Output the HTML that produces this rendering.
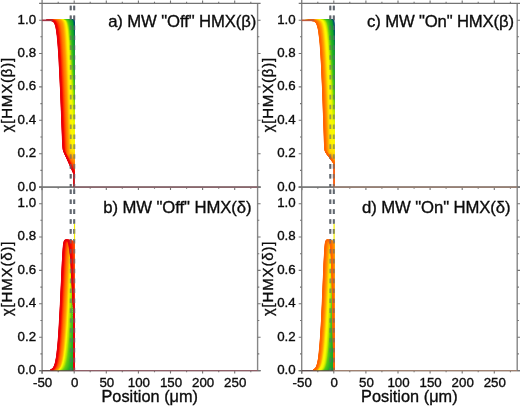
<!DOCTYPE html>
<html lang="en"><head><meta charset="utf-8"><title>HMX phase fraction profiles</title>
<style>html,body{margin:0;padding:0;background:#fff}body{width:520px;height:406px;overflow:hidden}</style>
</head><body>
<svg width="520" height="406" viewBox="0 0 520 406" style="display:block;filter:blur(0.3px);font-family:'Liberation Sans', sans-serif" fill="#0c0c0c">
<rect width="520" height="406" fill="#fff"/>
<path d="M42.1 0.0 V190.3 M257.6 3.3 V187.1" fill="none" stroke="#868686" stroke-width="1.4"/>
<path d="M39.1 3.3 H260.6 M39.1 187.1 H260.6" fill="none" stroke="#747474" stroke-width="1.2"/>
<path d="M42.1 187.1 v2.8 M58.2 187.1 v1.6 M58.2 3.3 v-1.6 M74.2 187.1 v2.8 M74.2 3.3 v-2.8 M90.2 187.1 v1.6 M90.2 3.3 v-1.6 M106.3 187.1 v2.8 M106.3 3.3 v-2.8 M122.3 187.1 v1.6 M122.3 3.3 v-1.6 M138.4 187.1 v2.8 M138.4 3.3 v-2.8 M154.5 187.1 v1.6 M154.5 3.3 v-1.6 M170.5 187.1 v2.8 M170.5 3.3 v-2.8 M186.6 187.1 v1.6 M186.6 3.3 v-1.6 M202.6 187.1 v2.8 M202.6 3.3 v-2.8 M218.7 187.1 v1.6 M218.7 3.3 v-1.6 M234.7 187.1 v2.8 M234.7 3.3 v-2.8 M250.8 187.1 v1.6 M250.8 3.3 v-1.6 M42.1 187.1 h-3.0 M257.6 187.1 h3.0 M42.1 170.4 h-1.7 M257.6 170.4 h1.7 M42.1 153.7 h-3.0 M257.6 153.7 h3.0 M42.1 137.0 h-1.7 M257.6 137.0 h1.7 M42.1 120.3 h-3.0 M257.6 120.3 h3.0 M42.1 103.6 h-1.7 M257.6 103.6 h1.7 M42.1 86.9 h-3.0 M257.6 86.9 h3.0 M42.1 70.2 h-1.7 M257.6 70.2 h1.7 M42.1 53.5 h-3.0 M257.6 53.5 h3.0 M42.1 36.8 h-1.7 M257.6 36.8 h1.7 M42.1 20.2 h-3.0 M257.6 20.2 h3.0" stroke="#747474" stroke-width="1.1" fill="none"/>
<path d="M70.7 3.3 V187.1" stroke="#626870" stroke-width="1.9" stroke-dasharray="4.6 5.3" stroke-dashoffset="-2.4" fill="none"/>
<path d="M74.2 3.3 V187.1" stroke="#626870" stroke-width="1.9" stroke-dasharray="4.6 5.3" stroke-dashoffset="-2.4" fill="none"/>
<path d="M42.1 187.1 V373.8 M257.6 187.1 V370.6" fill="none" stroke="#868686" stroke-width="1.4"/>
<path d="M39.1 187.1 H260.6 M39.1 370.6 H260.6" fill="none" stroke="#747474" stroke-width="1.2"/>
<path d="M42.1 370.6 v2.8 M58.2 370.6 v1.6 M74.2 370.6 v2.8 M90.2 370.6 v1.6 M106.3 370.6 v2.8 M122.3 370.6 v1.6 M138.4 370.6 v2.8 M154.5 370.6 v1.6 M170.5 370.6 v2.8 M186.6 370.6 v1.6 M202.6 370.6 v2.8 M218.7 370.6 v1.6 M234.7 370.6 v2.8 M250.8 370.6 v1.6 M42.1 370.6 h-3.0 M257.6 370.6 h3.0 M42.1 353.9 h-1.7 M257.6 353.9 h1.7 M42.1 337.2 h-3.0 M257.6 337.2 h3.0 M42.1 320.5 h-1.7 M257.6 320.5 h1.7 M42.1 303.8 h-3.0 M257.6 303.8 h3.0 M42.1 287.1 h-1.7 M257.6 287.1 h1.7 M42.1 270.4 h-3.0 M257.6 270.4 h3.0 M42.1 253.7 h-1.7 M257.6 253.7 h1.7 M42.1 237.0 h-3.0 M257.6 237.0 h3.0 M42.1 220.3 h-1.7 M257.6 220.3 h1.7 M42.1 203.7 h-3.0 M257.6 203.7 h3.0" stroke="#747474" stroke-width="1.1" fill="none"/>
<path d="M70.7 187.1 V370.6" stroke="#626870" stroke-width="1.9" stroke-dasharray="4.6 5.3" stroke-dashoffset="-2.4" fill="none"/>
<path d="M74.2 187.1 V370.6" stroke="#626870" stroke-width="1.9" stroke-dasharray="4.6 5.3" stroke-dashoffset="-2.4" fill="none"/>
<path d="M301.7 0.0 V190.3 M517.2 3.3 V187.1" fill="none" stroke="#868686" stroke-width="1.4"/>
<path d="M298.7 3.3 H520.2 M298.7 187.1 H520.2" fill="none" stroke="#747474" stroke-width="1.2"/>
<path d="M301.7 187.1 v2.8 M317.8 187.1 v1.6 M317.8 3.3 v-1.6 M333.8 187.1 v2.8 M333.8 3.3 v-2.8 M349.8 187.1 v1.6 M349.8 3.3 v-1.6 M365.9 187.1 v2.8 M365.9 3.3 v-2.8 M381.9 187.1 v1.6 M381.9 3.3 v-1.6 M398.0 187.1 v2.8 M398.0 3.3 v-2.8 M414.1 187.1 v1.6 M414.1 3.3 v-1.6 M430.1 187.1 v2.8 M430.1 3.3 v-2.8 M446.1 187.1 v1.6 M446.1 3.3 v-1.6 M462.2 187.1 v2.8 M462.2 3.3 v-2.8 M478.2 187.1 v1.6 M478.2 3.3 v-1.6 M494.3 187.1 v2.8 M494.3 3.3 v-2.8 M510.4 187.1 v1.6 M510.4 3.3 v-1.6 M301.7 187.1 h-3.0 M517.2 187.1 h3.0 M301.7 170.4 h-1.7 M517.2 170.4 h1.7 M301.7 153.7 h-3.0 M517.2 153.7 h3.0 M301.7 137.0 h-1.7 M517.2 137.0 h1.7 M301.7 120.3 h-3.0 M517.2 120.3 h3.0 M301.7 103.6 h-1.7 M517.2 103.6 h1.7 M301.7 86.9 h-3.0 M517.2 86.9 h3.0 M301.7 70.2 h-1.7 M517.2 70.2 h1.7 M301.7 53.5 h-3.0 M517.2 53.5 h3.0 M301.7 36.8 h-1.7 M517.2 36.8 h1.7 M301.7 20.2 h-3.0 M517.2 20.2 h3.0" stroke="#747474" stroke-width="1.1" fill="none"/>
<path d="M330.3 3.3 V187.1" stroke="#626870" stroke-width="1.9" stroke-dasharray="4.6 5.3" stroke-dashoffset="-2.4" fill="none"/>
<path d="M333.8 3.3 V187.1" stroke="#626870" stroke-width="1.9" stroke-dasharray="4.6 5.3" stroke-dashoffset="-2.4" fill="none"/>
<path d="M301.7 187.1 V373.8 M517.2 187.1 V370.6" fill="none" stroke="#868686" stroke-width="1.4"/>
<path d="M298.7 187.1 H520.2 M298.7 370.6 H520.2" fill="none" stroke="#747474" stroke-width="1.2"/>
<path d="M301.7 370.6 v2.8 M317.8 370.6 v1.6 M333.8 370.6 v2.8 M349.8 370.6 v1.6 M365.9 370.6 v2.8 M381.9 370.6 v1.6 M398.0 370.6 v2.8 M414.1 370.6 v1.6 M430.1 370.6 v2.8 M446.1 370.6 v1.6 M462.2 370.6 v2.8 M478.2 370.6 v1.6 M494.3 370.6 v2.8 M510.4 370.6 v1.6 M301.7 370.6 h-3.0 M517.2 370.6 h3.0 M301.7 353.9 h-1.7 M517.2 353.9 h1.7 M301.7 337.2 h-3.0 M517.2 337.2 h3.0 M301.7 320.5 h-1.7 M517.2 320.5 h1.7 M301.7 303.8 h-3.0 M517.2 303.8 h3.0 M301.7 287.1 h-1.7 M517.2 287.1 h1.7 M301.7 270.4 h-3.0 M517.2 270.4 h3.0 M301.7 253.7 h-1.7 M517.2 253.7 h1.7 M301.7 237.0 h-3.0 M517.2 237.0 h3.0 M301.7 220.3 h-1.7 M517.2 220.3 h1.7 M301.7 203.7 h-3.0 M517.2 203.7 h3.0" stroke="#747474" stroke-width="1.1" fill="none"/>
<path d="M330.3 187.1 V370.6" stroke="#626870" stroke-width="1.9" stroke-dasharray="4.6 5.3" stroke-dashoffset="-2.4" fill="none"/>
<path d="M333.8 187.1 V370.6" stroke="#626870" stroke-width="1.9" stroke-dasharray="4.6 5.3" stroke-dashoffset="-2.4" fill="none"/>
<g fill="none" stroke-width="1.3" stroke-linejoin="round">
<g stroke="none">
<polygon points="70.4,20.2 73.3,20.2 73.5,20.6 74,22.1 74.2,22.1 74.2,187.1 74.2,187.1 74.1,20.2 70.7,20.2" fill="#003f76"/>
<polygon points="70.1,20.2 72.8,20.2 73.2,20.2 73.5,21.1 74,24 74.2,24.1 74.2,187.1 74.2,187.1 74.2,22.1 74,22.1 73.5,20.6 73.3,20.2 70.4,20.2" fill="#004671"/>
<polygon points="69.7,20.2 72.7,20.2 72.9,20.2 73.1,20.4 73.4,21.7 74,25.8 74,26 74.2,26.1 74.2,187.1 74.2,187.1 74.2,24.1 74,24 73.5,21.1 73.2,20.2 72.8,20.2 70.1,20.2" fill="#004d6d"/>
<polygon points="69.4,20.2 72.5,20.2 72.8,20.2 72.9,20.4 73.1,21 73.3,21.9 74,27.7 74,28 74.2,28 74.2,187.1 74.2,187.1 74.2,26.1 74,26 74,25.8 73.4,21.7 73.1,20.4 72.9,20.2 72.7,20.2 69.7,20.2" fill="#005468"/>
<polygon points="69.1,20.2 72.4,20.2 72.7,20.3 72.8,20.5 73.2,22.5 73.9,29.5 74,29.9 74.2,30 74.2,187.1 74.2,187.1 74.2,28 74,28 74,27.7 73.3,21.9 73.1,21 72.9,20.4 72.8,20.2 72.5,20.2 69.4,20.2" fill="#005b63"/>
<polygon points="68.8,20.2 72.2,20.2 72.5,20.3 72.7,20.5 72.9,21.4 73.1,22.5 73.9,31.2 74,31.8 74.2,32 74.2,187.1 74.2,187.1 74.2,30 74,29.9 73.9,29.5 73.2,22.5 72.8,20.5 72.7,20.3 72.4,20.2 69.1,20.2" fill="#00625f"/>
<polygon points="68.5,20.2 72,20.2 72.3,20.3 72.6,20.6 72.8,21.7 73,23.1 73.9,33 74,33.7 74.1,33.9 74.2,33.9 74.2,187.1 74.2,187.1 74.2,32 74,31.8 73.9,31.2 73.1,22.5 72.9,21.4 72.7,20.5 72.5,20.3 72.2,20.2 68.8,20.2" fill="#00695a"/>
<polygon points="68.2,20.2 71.8,20.2 72.2,20.3 72.5,20.8 72.8,22.1 72.9,23.7 74,35.6 74.1,35.8 74.2,35.9 74.2,187.1 74.2,187.1 74.2,33.9 74.1,33.9 74,33.7 73.9,33 73,23.1 72.8,21.7 72.6,20.6 72.3,20.3 72,20.2 68.5,20.2" fill="#007056"/>
<polygon points="67.9,20.2 71.6,20.2 72,20.3 72.3,20.7 72.6,21.9 72.8,23.4 73.9,36.5 74,37.4 74.1,37.8 74.2,37.9 74.2,187.1 74.2,187.1 74.2,35.9 74.1,35.8 74,35.6 72.9,23.7 72.8,22.1 72.5,20.8 72.2,20.3 71.8,20.2 68.2,20.2" fill="#007651"/>
<polygon points="67.6,20.2 71.5,20.2 71.9,20.3 72.2,20.8 72.5,22.2 72.7,23.9 73.8,38.2 73.9,39.3 74.1,39.7 74.2,39.8 74.2,187.1 74.2,187.1 74.2,37.9 74.1,37.8 74,37.4 73.9,36.5 72.8,23.4 72.6,21.9 72.3,20.7 72,20.3 71.6,20.2 67.9,20.2" fill="#027d4c"/>
<polygon points="67.2,20.2 71.3,20.2 71.8,20.4 72.1,21 72.4,22.6 72.6,24.5 73.8,39.9 73.9,41.1 74,41.7 74.2,41.8 74.2,187.1 74.2,187.1 74.2,39.8 74.1,39.7 73.9,39.3 73.8,38.2 72.7,23.9 72.5,22.2 72.2,20.8 71.9,20.3 71.5,20.2 67.6,20.2" fill="#058348"/>
<polygon points="66.9,20.2 71.2,20.2 71.7,20.5 72,21.2 72.3,23 72.6,25.1 73.9,42.9 74,43.6 74.2,43.8 74.2,187.1 74.2,187.1 74.2,41.8 74,41.7 73.9,41.1 73.8,39.9 72.6,24.5 72.4,22.6 72.1,21 71.8,20.4 71.3,20.2 67.2,20.2" fill="#098943"/>
<polygon points="66.6,20.2 71.1,20.2 71.6,20.5 71.9,21.4 72.3,23.4 72.6,27 73.9,44.8 74,45.5 74.2,45.7 74.2,187.1 74.2,187.1 74.2,43.8 74,43.6 73.9,42.9 72.6,25.1 72.3,23 72,21.2 71.7,20.5 71.2,20.2 66.9,20.2" fill="#0c8f3f"/>
<polygon points="66.3,20.2 70.1,20.2 71,20.2 71.4,20.6 71.8,21.5 72.2,23.8 72.5,27.7 73.9,46.6 74,47.4 74.2,47.7 74.2,187.1 74.2,187.1 74.2,45.7 74,45.5 73.9,44.8 72.6,27 72.3,23.4 71.9,21.4 71.6,20.5 71.1,20.2 66.6,20.2" fill="#0f953a"/>
<polygon points="66,20.2 70.7,20.2 71.2,20.5 71.6,21.3 72,23.2 72.4,26.8 73.9,48.4 74,49.3 74.2,49.7 74.2,187.1 74.2,187.1 74.2,47.7 74,47.4 73.9,46.6 72.5,27.7 72.2,23.8 71.8,21.5 71.4,20.6 71,20.2 70.1,20.2 66.3,20.2" fill="#129b35"/>
<polygon points="65.7,20.2 69.6,20.2 70.6,20.2 71.1,20.6 71.5,21.4 71.9,23.6 72.1,26 73.9,50.4 74,51.4 74.2,51.8 74.2,187.1 74.2,187.1 74.2,49.7 74,49.3 73.9,48.4 72.4,26.8 72,23.2 71.6,21.3 71.2,20.5 70.7,20.2 66,20.2" fill="#14a032"/>
<polygon points="65.4,20.2 69.5,20.2 70.4,20.3 71,20.6 71.4,21.6 71.8,24 72.1,26.6 73.8,52.4 74,53.5 74.2,54 74.2,187.1 74.2,187.1 74.2,51.8 74,51.4 73.9,50.4 72.1,26 71.9,23.6 71.5,21.4 71.1,20.6 70.6,20.2 69.6,20.2 65.7,20.2" fill="#16a131"/>
<polygon points="65.1,20.2 70.2,20.2 70.6,20.4 70.9,20.7 71.3,21.8 71.7,24.3 72,27.1 73.8,54.4 74,55.7 74.2,56.2 74.2,187.1 74.2,187.1 74.2,54 74,53.5 73.8,52.4 72.1,26.6 71.8,24 71.4,21.6 71,20.6 70.4,20.3 69.5,20.2 65.4,20.2" fill="#17a331"/>
<polygon points="64.7,20.2 69,20.2 70,20.2 70.5,20.4 70.7,20.8 71.2,22 71.6,24.7 71.9,27.7 73.8,56.4 74,57.8 74.2,58.3 74.2,187.1 74.2,187.1 74.2,56.2 74,55.7 73.8,54.4 72,27.1 71.7,24.3 71.3,21.8 70.9,20.7 70.6,20.4 70.2,20.2 65.1,20.2" fill="#18a430"/>
<polygon points="64.4,20.2 68.8,20.2 69.9,20.3 70.3,20.5 70.6,20.8 71.1,22.1 71.5,25.1 71.8,28.3 73.8,58.4 74,59.9 74.2,60.5 74.2,187.1 74.2,187.1 74.2,58.3 74,57.8 73.8,56.4 71.9,27.7 71.6,24.7 71.2,22 70.7,20.8 70.5,20.4 70,20.2 69,20.2 64.7,20.2" fill="#1aa52f"/>
<polygon points="64.1,20.2 68.6,20.2 69.7,20.3 70.2,20.5 70.5,20.9 71,22.3 71.5,25.5 71.8,28.9 73.8,60.4 73.9,62 74.2,62.7 74.2,187.1 74.2,187.1 74.2,60.5 74,59.9 73.8,58.4 71.8,28.3 71.5,25.1 71.1,22.1 70.6,20.8 70.3,20.5 69.9,20.3 68.8,20.2 64.4,20.2" fill="#1ba62f"/>
<polygon points="63.8,20.2 68.5,20.2 69.6,20.3 70.1,20.6 70.4,21 70.9,22.5 71.2,24.6 71.7,29.5 73.8,62.4 73.9,64.1 74.2,64.9 74.2,187.1 74.2,187.1 74.2,62.7 73.9,62 73.8,60.4 71.8,28.9 71.5,25.5 71,22.3 70.5,20.9 70.2,20.5 69.7,20.3 68.6,20.2 64.1,20.2" fill="#1ca72e"/>
<polygon points="63.5,20.2 68.3,20.2 69.5,20.3 70,20.6 70.3,21.1 70.8,22.7 71.1,24.9 71.6,30 72.3,39.7 73.8,64.4 73.9,66.2 74.2,67.1 74.2,187.1 74.2,187.1 74.2,64.9 73.9,64.1 73.8,62.4 71.7,29.5 71.2,24.6 70.9,22.5 70.4,21 70.1,20.6 69.6,20.3 68.5,20.2 63.8,20.2" fill="#1da92d"/>
<polygon points="63.2,20.2 68,20.2 69.1,20.3 69.7,20.5 70,20.9 70.5,22.2 71,25.2 71.5,30.6 72.2,40.7 73.7,66.4 73.9,68.3 74.2,69.2 74.2,187.1 74.2,187.1 74.2,67.1 73.9,66.2 73.8,64.4 72.3,39.7 71.6,30 71.1,24.9 70.8,22.7 70.3,21.1 70,20.6 69.5,20.3 68.3,20.2 63.5,20.2" fill="#1faa2d"/>
<polygon points="62.9,20.2 68.7,20.2 69.4,20.4 69.9,20.9 70.4,22.3 70.9,25.6 71.8,36.2 73.7,68.4 73.9,70.4 74.2,71.4 74.2,187.1 74.2,187.1 74.2,69.2 73.9,68.3 73.7,66.4 72.2,40.7 71.5,30.6 71,25.2 70.5,22.2 70,20.9 69.7,20.5 69.1,20.3 68,20.2 63.2,20.2" fill="#20ab2c"/>
<polygon points="62.6,20.2 68.5,20.2 69.2,20.4 69.8,21 70.3,22.5 70.7,24.5 71,27.6 71.6,34.3 73.7,70.4 73.9,72.5 74.2,73.6 74.2,187.1 74.2,187.1 74.2,71.4 73.9,70.4 73.7,68.4 71.8,36.2 70.9,25.6 70.4,22.3 69.9,20.9 69.4,20.4 68.7,20.2 62.9,20.2" fill="#21ac2b"/>
<polygon points="62.2,20.2 68.3,20.2 69.1,20.5 69.6,21.1 70.2,22.7 70.6,24.8 70.9,28 71.5,35 73.7,72.3 73.9,74.6 74.2,75.8 74.2,187.1 74.2,187.1 74.2,73.6 73.9,72.5 73.7,70.4 71.6,34.3 71,27.6 70.7,24.5 70.3,22.5 69.8,21 69.2,20.4 68.5,20.2 62.6,20.2" fill="#23ad2b"/>
<polygon points="61.9,20.2 68,20.2 68.8,20.4 69.3,20.8 69.9,22.1 70.3,23.8 70.7,26.6 71.2,33.1 72,44.7 73.7,74.3 73.9,76.7 74.1,77.7 74.2,77.9 74.2,187.1 74.2,187.1 74.2,75.8 73.9,74.6 73.7,72.3 71.5,35 70.9,28 70.6,24.8 70.2,22.7 69.6,21.1 69.1,20.5 68.3,20.2 62.2,20.2" fill="#24ae2a"/>
<polygon points="61.6,20.2 67.8,20.2 68.6,20.4 69.2,20.9 69.8,22.2 70.2,24 70.6,27 71.1,33.7 71.9,45.7 73.7,76.3 73.9,78.7 74.1,79.9 74.2,80.1 74.2,187.1 74.2,187.1 74.2,77.9 74.1,77.7 73.9,76.7 73.7,74.3 72,44.7 71.2,33.1 70.7,26.6 70.3,23.8 69.9,22.1 69.3,20.8 68.8,20.4 68,20.2 61.9,20.2" fill="#25b029"/>
<polygon points="61.3,20.2 67.7,20.2 68.5,20.4 69.1,20.9 69.7,22.3 70.1,24.3 70.5,27.3 70.9,31.7 71.9,46.7 73.7,78.3 73.9,80.8 74.1,82 74.2,82.3 74.2,187.1 74.2,187.1 74.2,80.1 74.1,79.9 73.9,78.7 73.7,76.3 71.9,45.7 71.1,33.7 70.6,27 70.2,24 69.8,22.2 69.2,20.9 68.6,20.4 67.8,20.2 61.6,20.2" fill="#27b129"/>
<polygon points="61,20.2 67.5,20.2 68.3,20.4 69,21 69.4,21.8 69.6,22.5 70,24.5 70.4,27.6 70.8,32.1 71.8,47.5 73.6,79.9 73.9,82.5 74.1,83.8 74.2,84 74.2,187.1 74.2,187.1 74.2,82.3 74.1,82 73.9,80.8 73.7,78.3 71.9,46.7 70.9,31.7 70.5,27.3 70.1,24.3 69.7,22.3 69.1,20.9 68.5,20.4 67.7,20.2 61.3,20.2" fill="#28b228"/>
<polygon points="60.7,20.2 67.2,20.2 68,20.4 68.6,20.8 69,21.4 69.2,21.9 69.9,24.6 70.3,27.9 70.7,32.4 71.8,48.1 73.6,81 73.8,83.7 74.1,85 74.2,85.3 74.2,187.1 74.2,187.1 74.2,84 74.1,83.8 73.9,82.5 73.6,79.9 71.8,47.5 70.8,32.1 70.4,27.6 70,24.5 69.6,22.5 69.4,21.8 69,21 68.3,20.4 67.5,20.2 61,20.2" fill="#2cb427"/>
<polygon points="60.3,20.2 67,20.2 67.8,20.4 68.5,20.8 68.9,21.5 69.1,22 69.8,24.8 70.2,28.1 70.6,32.8 71.7,48.7 73.6,82.1 73.8,84.9 74,86.2 74.2,86.6 74.2,187.1 74.2,187.1 74.2,85.3 74.1,85 73.8,83.7 73.6,81 71.8,48.1 70.7,32.4 70.3,27.9 69.9,24.6 69.2,21.9 69,21.4 68.6,20.8 68,20.4 67.2,20.2 60.7,20.2" fill="#31b625"/>
<polygon points="59.9,20.2 66.8,20.2 67.6,20.4 68.3,20.8 68.7,21.5 69,22.1 69.4,23.7 70.1,28.4 70.5,33.2 71.6,49.4 73.6,83.2 73.8,86.1 74,87.5 74.2,87.8 74.2,187.1 74.2,187.1 74.2,86.6 74,86.2 73.8,84.9 73.6,82.1 71.7,48.7 70.6,32.8 70.2,28.1 69.8,24.8 69.1,22 68.9,21.5 68.5,20.8 67.8,20.4 67,20.2 60.3,20.2" fill="#36b823"/>
<polygon points="59.5,20.2 66.5,20.2 67.4,20.4 68.1,20.9 68.6,21.6 68.8,22.2 69.3,23.9 69.7,26.8 70.2,31 71.3,46.4 73.6,84.3 73.8,87.2 74,88.7 74.2,89.1 74.2,187.1 74.2,187.1 74.2,87.8 74,87.5 73.8,86.1 73.6,83.2 71.6,49.4 70.5,33.2 70.1,28.4 69.4,23.7 69,22.1 68.7,21.5 68.3,20.8 67.6,20.4 66.8,20.2 59.9,20.2" fill="#3aba22"/>
<polygon points="59,20.2 66.3,20.2 67.2,20.4 67.9,20.9 68.4,21.7 68.6,22.2 69.1,24 69.6,27 70.1,31.3 71.2,47 73.6,85.4 73.8,88.4 74,90 74.2,90.4 74.2,187.1 74.2,187.1 74.2,89.1 74,88.7 73.8,87.2 73.6,84.3 71.3,46.4 70.2,31 69.7,26.8 69.3,23.9 68.8,22.2 68.6,21.6 68.1,20.9 67.4,20.4 66.5,20.2 59.5,20.2" fill="#3fbc20"/>
<polygon points="58.6,20.2 66.1,20.2 67,20.4 67.8,21 68.2,21.7 68.5,22.3 69,24.2 69.5,27.2 69.9,31.6 71.1,47.5 73.5,86.6 73.8,89.6 74,91.2 74.2,91.6 74.2,187.1 74.2,187.1 74.2,90.4 74,90 73.8,88.4 73.6,85.4 71.2,47 70.1,31.3 69.6,27 69.1,24 68.6,22.2 68.4,21.7 67.9,20.9 67.2,20.4 66.3,20.2 59,20.2" fill="#43be1f"/>
<polygon points="58.2,20.2 65.9,20.2 66.8,20.5 67.6,21 68.1,21.8 68.3,22.4 68.8,24.3 69.3,27.4 69.8,31.9 71.1,48.1 73.5,87.7 73.8,90.8 74,92.4 74.2,92.9 74.2,187.1 74.2,187.1 74.2,91.6 74,91.2 73.8,89.6 73.5,86.6 71.1,47.5 69.9,31.6 69.5,27.2 69,24.2 68.5,22.3 68.2,21.7 67.8,21 67,20.4 66.1,20.2 58.6,20.2" fill="#48c01d"/>
<polygon points="57.8,20.2 65.4,20.2 66.7,20.5 67.4,21 67.9,21.9 68.2,22.5 68.7,24.5 69.2,27.7 69.7,32.2 71,48.6 73.5,88.8 73.8,92 74,93.7 74.2,94.2 74.2,187.1 74.2,187.1 74.2,92.9 74,92.4 73.8,90.8 73.5,87.7 71.1,48.1 69.8,31.9 69.3,27.4 68.8,24.3 68.3,22.4 68.1,21.8 67.6,21 66.8,20.5 65.9,20.2 58.2,20.2" fill="#4dc21c"/>
<polygon points="57.3,20.2 65.2,20.2 66.5,20.5 67.2,21.1 67.8,21.9 68,22.6 68.5,24.6 69.1,27.9 69.6,32.5 70.9,49.2 73.5,89.9 73.8,93.1 74,94.9 74.2,95.4 74.2,187.1 74.2,187.1 74.2,94.2 74,93.7 73.8,92 73.5,88.8 71,48.6 69.7,32.2 69.2,27.7 68.7,24.5 68.2,22.5 67.9,21.9 67.4,21 66.7,20.5 65.4,20.2 57.8,20.2" fill="#51c41a"/>
<polygon points="56.9,20.2 64.9,20.2 66,20.4 66.8,20.8 67.3,21.5 67.6,22 68.1,23.6 68.4,24.8 68.9,28.1 69.5,32.8 70.8,49.8 73.5,91 73.7,94.3 74,96.2 74.2,96.7 74.2,187.1 74.2,187.1 74.2,95.4 74,94.9 73.8,93.1 73.5,89.9 70.9,49.2 69.6,32.5 69.1,27.9 68.5,24.6 68,22.6 67.8,21.9 67.2,21.1 66.5,20.5 65.2,20.2 57.3,20.2" fill="#56c619"/>
<polygon points="56.5,20.2 64.7,20.2 65.8,20.4 66.6,20.9 67.2,21.5 67.4,22 68,23.7 68.5,26.4 69.1,30.5 69.9,39.3 70.7,50.3 73.4,92.1 73.7,95.5 74,97.4 74.2,98 74.2,187.1 74.2,187.1 74.2,96.7 74,96.2 73.7,94.3 73.5,91 70.8,49.8 69.5,32.8 68.9,28.1 68.4,24.8 68.1,23.6 67.6,22 67.3,21.5 66.8,20.8 66,20.4 64.9,20.2 56.9,20.2" fill="#5ac817"/>
<polygon points="56.2,20.2 64.5,20.2 65.6,20.4 66.4,20.9 67,21.6 67.3,22.1 67.8,23.8 68.4,26.6 68.9,30.7 69.8,39.6 70.6,50.8 73.4,93.2 73.7,96.7 73.9,98.6 74.2,99.3 74.2,187.1 74.2,187.1 74.2,98 74,97.4 73.7,95.5 73.4,92.1 70.7,50.3 69.9,39.3 69.1,30.5 68.5,26.4 68,23.7 67.4,22 67.2,21.5 66.6,20.9 65.8,20.4 64.7,20.2 56.5,20.2" fill="#5fca16"/>
<polygon points="55.9,20.2 64.3,20.2 65.4,20.4 66.3,20.9 66.8,21.6 67.1,22.2 67.7,23.9 68.2,26.7 68.8,31 69.7,40 70.5,51.3 73.3,94.4 73.6,97.9 73.9,99.9 74.2,100.7 74.2,187.1 74.2,187.1 74.2,99.3 73.9,98.6 73.7,96.7 73.4,93.2 70.6,50.8 69.8,39.6 68.9,30.7 68.4,26.6 67.8,23.8 67.3,22.1 67,21.6 66.4,20.9 65.6,20.4 64.5,20.2 56.2,20.2" fill="#64cc14"/>
<polygon points="55.5,20.2 64.1,20.2 65.3,20.4 66.1,20.9 66.7,21.6 67,22.2 67.5,24 68.1,26.9 68.7,31.2 69.5,40.4 70.4,51.9 73.3,95.7 73.5,99.2 73.8,101.3 74.2,102.1 74.2,187.1 74.2,187.1 74.2,100.7 73.9,99.9 73.6,97.9 73.3,94.4 70.5,51.3 69.7,40 68.8,31 68.2,26.7 67.7,23.9 67.1,22.2 66.8,21.6 66.3,20.9 65.4,20.4 64.3,20.2 55.9,20.2" fill="#6fd011"/>
<polygon points="55.2,20.2 63.9,20.2 65.1,20.4 65.9,20.9 66.5,21.7 66.8,22.3 67.4,24.1 68,27 68.6,31.4 69.4,40.8 70.3,52.5 73.2,96.9 73.5,100.5 73.8,102.6 74,103.3 74.2,103.6 74.2,187.1 74.2,187.1 74.2,102.1 73.8,101.3 73.5,99.2 73.3,95.7 70.4,51.9 69.5,40.4 68.7,31.2 68.1,26.9 67.5,24 67,22.2 66.7,21.6 66.1,20.9 65.3,20.4 64.1,20.2 55.5,20.2" fill="#7cd40f"/>
<polygon points="54.9,20.2 63.4,20.2 64.9,20.4 65.8,21 66.4,21.7 66.7,22.3 67.2,24.2 67.8,27.2 68.4,31.7 69.3,41.2 70.2,53 73.1,98.1 73.4,101.8 73.7,104 74,104.7 74.2,105 74.2,187.1 74.2,187.1 74.2,103.6 74,103.3 73.8,102.6 73.5,100.5 73.2,96.9 70.3,52.5 69.4,40.8 68.6,31.4 68,27 67.4,24.1 66.8,22.3 66.5,21.7 65.9,20.9 65.1,20.4 63.9,20.2 55.2,20.2" fill="#89d70c"/>
<polygon points="54.5,20.2 63.2,20.2 64.7,20.5 65.6,21 66.2,21.8 66.5,22.4 67.1,24.2 67.7,27.3 68.3,31.9 69.2,41.6 70.1,53.6 73.1,99.4 73.4,103.1 73.7,105.3 73.9,106 74.2,106.4 74.2,187.1 74.2,187.1 74.2,105 74,104.7 73.7,104 73.4,101.8 73.1,98.1 70.2,53 69.3,41.2 68.4,31.7 67.8,27.2 67.2,24.2 66.7,22.3 66.4,21.7 65.8,21 64.9,20.4 63.4,20.2 54.9,20.2" fill="#96db09"/>
<polygon points="54.2,20.2 63,20.2 64.5,20.5 65.4,21 66,21.8 66.3,22.4 66.9,24.3 67.6,27.5 68.2,32.2 68.8,38.4 69.7,49.9 73.3,104.4 73.6,106.7 73.8,107.4 74.2,107.9 74.2,187.1 74.2,187.1 74.2,106.4 73.9,106 73.7,105.3 73.4,103.1 73.1,99.4 70.1,53.6 69.2,41.6 68.3,31.9 67.7,27.3 67.1,24.2 66.5,22.4 66.2,21.8 65.6,21 64.7,20.5 63.2,20.2 54.5,20.2" fill="#a2df06"/>
<polygon points="54.1,20.2 62.9,20.2 64.1,20.4 65,20.8 65.6,21.4 65.9,21.8 66.5,23.3 67.1,25.8 67.7,29.7 68.6,38.6 69.5,50.3 73.2,105.7 73.5,108 73.7,108.7 74.2,109.3 74.2,187.1 74.2,187.1 74.2,107.9 73.8,107.4 73.6,106.7 73.3,104.4 69.7,49.9 68.8,38.4 68.2,32.2 67.6,27.5 66.9,24.3 66.3,22.4 66,21.8 65.4,21 64.5,20.5 63,20.2 54.2,20.2" fill="#afe303"/>
<polygon points="54,20.2 62.8,20.2 64,20.4 64.9,20.8 65.5,21.4 65.8,21.9 66.4,23.3 67,25.9 67.6,29.9 68.5,38.9 69.4,50.9 73,107.3 73.3,109.7 73.5,110.4 73.8,110.8 74.2,111.1 74.2,187.1 74.2,187.1 74.2,109.3 73.7,108.7 73.5,108 73.2,105.7 69.5,50.3 68.6,38.6 67.7,29.7 67.1,25.8 66.5,23.3 65.9,21.8 65.6,21.4 65,20.8 64.1,20.4 62.9,20.2 54.1,20.2" fill="#bce701"/>
<polygon points="53.9,20.2 62.6,20.2 63.8,20.4 64.7,20.8 65.3,21.4 65.6,21.9 66.2,23.4 66.8,26.1 67.4,30.2 68.3,39.4 69.2,51.7 72.8,109.8 73.1,112.2 73.4,113 73.6,113.3 74.2,113.7 74.2,187.1 74.2,187.1 74.2,111.1 73.8,110.8 73.5,110.4 73.3,109.7 73,107.3 69.4,50.9 68.5,38.9 67.6,29.9 67,25.9 66.4,23.3 65.8,21.9 65.5,21.4 64.9,20.8 64,20.4 62.8,20.2 54,20.2" fill="#c7eb00"/>
<polygon points="53.8,20.2 62.5,20.2 63.7,20.4 64.6,20.8 65.2,21.4 65.5,21.9 66.1,23.5 66.7,26.2 67.3,30.4 68.2,39.9 69.1,52.5 72.7,112.2 73,114.7 73.2,115.5 73.4,115.8 74.2,116.4 74.2,187.1 74.2,187.1 74.2,113.7 73.6,113.3 73.4,113 73.1,112.2 72.8,109.8 69.2,51.7 68.3,39.4 67.4,30.2 66.8,26.1 66.2,23.4 65.6,21.9 65.3,21.4 64.7,20.8 63.8,20.4 62.6,20.2 53.9,20.2" fill="#d2ef00"/>
<polygon points="53.7,20.2 62.4,20.2 63.6,20.4 64.5,20.8 65.1,21.5 65.4,22 66,23.6 66.5,26.3 67.1,30.7 68,40.4 68.9,53.4 72.5,114.6 72.8,117.2 73,118 73.5,118.6 74.2,119 74.2,187.1 74.2,187.1 74.2,116.4 73.4,115.8 73.2,115.5 73,114.7 72.7,112.2 69.1,52.5 68.2,39.9 67.3,30.4 66.7,26.2 66.1,23.5 65.5,21.9 65.2,21.4 64.6,20.8 63.7,20.4 62.5,20.2 53.8,20.2" fill="#ddf200"/>
<polygon points="53.7,20.2 62,20.2 63.2,20.3 64,20.6 64.6,21.1 64.9,21.5 65.5,22.7 66.1,24.9 66.7,28.5 67.6,37.2 68.5,49.6 72.3,117.6 72.6,120.2 72.8,121.1 73.3,121.7 74.2,122.2 74.2,187.1 74.2,187.1 74.2,119 73.5,118.6 73,118 72.8,117.2 72.5,114.6 68.9,53.4 68,40.4 67.1,30.7 66.5,26.3 66,23.6 65.4,22 65.1,21.5 64.5,20.8 63.6,20.4 62.4,20.2 53.7,20.2" fill="#e8f600"/>
<polygon points="53.8,20.2 61.9,20.2 63.1,20.3 63.9,20.7 64.5,21.1 64.8,21.5 65.4,22.8 66,25 66.6,28.8 67.4,37.8 68.3,50.6 72.1,121.2 72.4,123.9 72.6,124.7 73,125.3 74.2,126.1 74.2,187.1 74.2,187.1 74.2,122.2 73.3,121.7 72.8,121.1 72.6,120.2 72.3,117.6 68.5,49.6 67.6,37.2 66.7,28.5 66.1,24.9 65.5,22.7 64.9,21.5 64.6,21.1 64,20.6 63.2,20.3 62,20.2 53.7,20.2" fill="#f3fa00"/>
<polygon points="53.8,20.2 61.8,20.2 63,20.3 63.8,20.7 64.4,21.2 64.7,21.6 65.3,22.9 65.8,25.2 66.4,29 67.3,38.3 68.1,51.6 71.8,124.7 72.1,127.5 72.4,128.4 72.8,129 74.2,129.9 74.2,187.1 74.2,187.1 74.2,126.1 73,125.3 72.6,124.7 72.4,123.9 72.1,121.2 68.3,50.6 67.4,37.8 66.6,28.8 66,25 65.4,22.8 64.8,21.5 64.5,21.1 63.9,20.7 63.1,20.3 61.9,20.2 53.8,20.2" fill="#f6f900"/>
<polygon points="53.9,20.2 61.8,20.2 62.9,20.3 63.7,20.7 64.3,21.2 64.6,21.6 65.1,22.9 65.7,25.3 66.3,29.2 67.1,38.8 68,52.6 71.6,128.3 71.9,131.1 72.1,132 72.6,132.6 74.2,133.7 74.2,187.1 74.2,187.1 74.2,129.9 72.8,129 72.4,128.4 72.1,127.5 71.8,124.7 68.1,51.6 67.3,38.3 66.4,29 65.8,25.2 65.3,22.9 64.7,21.6 64.4,21.2 63.8,20.7 63,20.3 61.8,20.2 53.8,20.2" fill="#f8f800"/>
<polygon points="53.9,20.2 61.7,20.2 62.8,20.3 63.6,20.7 64.2,21.2 64.5,21.6 65,23 65.6,25.4 66.1,29.4 67,39.3 67.8,53.6 71.4,131.8 71.7,134.7 71.9,135.6 72.3,136.3 74.2,137.5 74.2,187.1 74.2,187.1 74.2,133.7 72.6,132.6 72.1,132 71.9,131.1 71.6,128.3 68,52.6 67.1,38.8 66.3,29.2 65.7,25.3 65.1,22.9 64.6,21.6 64.3,21.2 63.7,20.7 62.9,20.3 61.8,20.2 53.9,20.2" fill="#faf700"/>
<polygon points="54,20.2 61.6,20.2 62.7,20.3 63.5,20.7 64.1,21.2 64.3,21.6 64.9,23 65.4,25.5 65.7,27.3 66.5,35.9 67.6,54.5 71.2,135.3 71.4,138.3 71.7,139.3 72.1,139.9 74.2,141.4 74.2,187.1 74.2,187.1 74.2,137.5 72.3,136.3 71.9,135.6 71.7,134.7 71.4,131.8 67.8,53.6 67,39.3 66.1,29.4 65.6,25.4 65,23 64.5,21.6 64.2,21.2 63.6,20.7 62.8,20.3 61.7,20.2 53.9,20.2" fill="#fcf600"/>
<polygon points="54,20.2 61.5,20.2 62.6,20.4 63.4,20.7 63.9,21.3 64.2,21.8 64.7,23.2 65.3,25.8 65.5,27.7 66.3,36.5 67.4,55.7 70.9,138.8 71.2,141.9 71.4,142.9 71.9,143.5 74.2,145.2 74.2,187.1 74.2,187.1 74.2,141.4 72.1,139.9 71.7,139.3 71.4,138.3 71.2,135.3 67.6,54.5 66.5,35.9 65.7,27.3 65.4,25.5 64.9,23 64.3,21.6 64.1,21.2 63.5,20.7 62.7,20.3 61.6,20.2 54,20.2" fill="#fef500"/>
<polygon points="53.9,20.2 61.4,20.2 62.5,20.4 63.2,20.8 63.8,21.4 64,21.9 64.6,23.4 65.1,26 65.4,28 66.2,36.9 67.2,56.2 70.7,140.6 71,143.6 71.2,144.6 71.6,145.3 74.2,147.2 74.2,187.1 74.2,187.1 74.2,145.2 71.9,143.5 71.4,142.9 71.2,141.9 70.9,138.8 67.4,55.7 66.3,36.5 65.5,27.7 65.3,25.8 64.7,23.2 64.2,21.8 63.9,21.3 63.4,20.7 62.6,20.4 61.5,20.2 54,20.2" fill="#fff100"/>
<polygon points="53.9,20.2 61,20.2 62.1,20.3 62.8,20.7 63.4,21.1 63.6,21.5 64.2,22.6 64.7,24.7 65.2,28.2 66,37.3 67,56.8 70.5,142.2 70.7,145.3 70.9,146.3 71.2,146.7 74.2,149.1 74.2,187.1 74.2,187.1 74.2,147.2 71.6,145.3 71.2,144.6 71,143.6 70.7,140.6 67.2,56.2 66.2,36.9 65.4,28 65.1,26 64.6,23.4 64,21.9 63.8,21.4 63.2,20.8 62.5,20.4 61.4,20.2 53.9,20.2" fill="#ffeb00"/>
<polygon points="53.9,20.2 60.9,20.2 61.9,20.4 62.7,20.7 63.2,21.2 63.5,21.6 64,22.8 64.5,24.9 65,28.5 65.8,37.7 66.9,57.3 70.2,143.8 70.5,146.9 70.7,147.9 70.9,148.4 74.2,151 74.2,187.1 74.2,187.1 74.2,149.1 71.2,146.7 70.9,146.3 70.7,145.3 70.5,142.2 67,56.8 66,37.3 65.2,28.2 64.7,24.7 64.2,22.6 63.6,21.5 63.4,21.1 62.8,20.7 62.1,20.3 61,20.2 53.9,20.2" fill="#ffe600"/>
<polygon points="53.9,20.2 60.8,20.2 61.8,20.4 62.6,20.7 63.1,21.2 63.3,21.6 63.9,22.9 64.4,25.1 64.9,28.8 65.6,38.1 66.7,57.9 70,145.5 70.2,148.5 70.5,149.6 70.7,150 74.2,152.9 74.2,187.1 74.2,187.1 74.2,151 70.9,148.4 70.7,147.9 70.5,146.9 70.2,143.8 66.9,57.3 65.8,37.7 65,28.5 64.5,24.9 64,22.8 63.5,21.6 63.2,21.2 62.7,20.7 61.9,20.4 60.9,20.2 53.9,20.2" fill="#ffe000"/>
<polygon points="53.8,20.2 60.4,20.2 61.4,20.3 62.2,20.6 62.9,21.3 63.4,22.3 63.9,24 64.5,26.9 65,31.6 65.5,38.3 66.5,58.2 69.8,146.4 70,149.5 70.2,150.5 70.5,151 74.2,154.2 74.2,187.1 74.2,187.1 74.2,152.9 70.7,150 70.5,149.6 70.2,148.5 70,145.5 66.7,57.9 65.6,38.1 64.9,28.8 64.4,25.1 63.9,22.9 63.3,21.6 63.1,21.2 62.6,20.7 61.8,20.4 60.8,20.2 53.9,20.2" fill="#ffda00"/>
<polygon points="53.8,20.2 60,20.2 61.3,20.3 62,20.6 62.8,21.4 63.3,22.4 63.8,24.1 64.3,27.1 64.8,31.8 65.3,38.6 66.3,58.5 69.6,146.9 69.8,150 70,151 70.3,151.4 74.2,154.9 74.2,187.1 74.2,187.1 74.2,154.2 70.5,151 70.2,150.5 70,149.5 69.8,146.4 66.5,58.2 65.5,38.3 65,31.6 64.5,26.9 63.9,24 63.4,22.3 62.9,21.3 62.2,20.6 61.4,20.3 60.4,20.2 53.8,20.2" fill="#ffd400"/>
<polygon points="53.6,20.2 59.9,20.2 61.1,20.4 61.9,20.7 62.6,21.4 63.1,22.5 63.6,24.3 64.1,27.3 64.6,32 65.1,38.9 66.1,58.7 69.4,147.4 69.6,150.5 69.8,151.5 70.1,151.9 74.2,155.7 74.2,187.1 74.2,187.1 74.2,154.9 70.3,151.4 70,151 69.8,150 69.6,146.9 66.3,58.5 65.3,38.6 64.8,31.8 64.3,27.1 63.8,24.1 63.3,22.4 62.8,21.4 62,20.6 61.3,20.3 60,20.2 53.8,20.2" fill="#ffce00"/>
<polygon points="53.5,20.2 59.7,20.2 61,20.4 61.7,20.7 62.5,21.5 63,22.6 63.5,24.5 64,27.5 64.5,32.3 65,39.1 65.9,59 66.9,84.7 69.2,147.8 69.4,150.9 69.7,152 69.9,152.4 74.2,156.5 74.2,187.1 74.2,187.1 74.2,155.7 70.1,151.9 69.8,151.5 69.6,150.5 69.4,147.4 66.1,58.7 65.1,38.9 64.6,32 64.1,27.3 63.6,24.3 63.1,22.5 62.6,21.4 61.9,20.7 61.1,20.4 59.9,20.2 53.6,20.2" fill="#ffc800"/>
<polygon points="53.4,20.2 59.6,20.2 60.8,20.4 61.6,20.8 62.3,21.6 62.8,22.7 63.3,24.6 63.8,27.7 64.3,32.5 64.8,39.4 65.8,59.3 66.8,85 69,148.3 69.2,151.4 69.5,152.5 69.7,152.9 74.2,157.2 74.2,187.1 74.2,187.1 74.2,156.5 69.9,152.4 69.7,152 69.4,150.9 69.2,147.8 66.9,84.7 65.9,59 65,39.1 64.5,32.3 64,27.5 63.5,24.5 63,22.6 62.5,21.5 61.7,20.7 61,20.4 59.7,20.2 53.5,20.2" fill="#ffc100"/>
<polygon points="53.3,20.2 59.4,20.2 60.7,20.4 61.4,20.8 62.1,21.7 62.6,22.8 63.1,24.8 63.6,28 64.1,32.8 64.6,39.7 65.6,59.5 66.6,85.2 68.8,148.7 69,151.8 69.3,152.9 69.5,153.4 74.2,158 74.2,187.1 74.2,187.1 74.2,157.2 69.7,152.9 69.5,152.5 69.2,151.4 69,148.3 66.8,85 65.8,59.3 64.8,39.4 64.3,32.5 63.8,27.7 63.3,24.6 62.8,22.7 62.3,21.6 61.6,20.8 60.8,20.4 59.6,20.2 53.4,20.2" fill="#ffbb00"/>
<polygon points="53.1,20.2 59.3,20.2 60.5,20.4 61.2,20.8 62,21.8 62.5,23 63,25 63.5,28.2 63.9,33.1 64.4,40 65.4,59.8 66.4,85.5 68.6,149.2 68.9,152.3 69.1,153.3 69.3,153.8 74.2,158.7 74.2,187.1 74.2,187.1 74.2,158 69.5,153.4 69.3,152.9 69,151.8 68.8,148.7 66.6,85.2 65.6,59.5 64.6,39.7 64.1,32.8 63.6,28 63.1,24.8 62.6,22.8 62.1,21.7 61.4,20.8 60.7,20.4 59.4,20.2 53.3,20.2" fill="#ffb500"/>
<polygon points="52.9,20.2 59.1,20.2 60.3,20.5 61.1,20.9 61.8,21.9 62.3,23.1 62.8,25.1 63.3,28.4 63.8,33.3 64.3,40.2 65.3,60 66.3,85.7 68.5,149.3 68.7,152.4 68.9,153.5 69.2,154 74.2,159.2 74.2,187.1 74.2,187.1 74.2,158.7 69.3,153.8 69.1,153.3 68.9,152.3 68.6,149.2 66.4,85.5 65.4,59.8 64.4,40 63.9,33.1 63.5,28.2 63,25 62.5,23 62,21.8 61.2,20.8 60.5,20.4 59.3,20.2 53.1,20.2" fill="#ffaf00"/>
<polygon points="52.7,20.2 58.9,20.2 60.1,20.5 60.9,20.9 61.6,21.9 62.1,23.2 62.6,25.3 63.1,28.6 63.6,33.6 64.1,40.5 65.1,60.3 66.1,85.8 68.3,149.4 68.6,152.6 68.8,153.6 69,154.1 74.2,159.6 74.2,187.1 74.2,187.1 74.2,159.2 69.2,154 68.9,153.5 68.7,152.4 68.5,149.3 66.3,85.7 65.3,60 64.3,40.2 63.8,33.3 63.3,28.4 62.8,25.1 62.3,23.1 61.8,21.9 61.1,20.9 60.3,20.5 59.1,20.2 52.9,20.2" fill="#ffa900"/>
<polygon points="52.5,20.2 58.7,20.2 60,20.5 60.7,21 61.5,22 62,23.4 62.4,25.5 62.9,28.9 63.4,33.9 63.9,40.8 64.9,60.5 65.9,86 68.2,149.5 68.4,152.7 68.7,153.8 68.9,154.3 74.2,160.1 74.2,187.1 74.2,187.1 74.2,159.6 69,154.1 68.8,153.6 68.6,152.6 68.3,149.4 66.1,85.8 65.1,60.3 64.1,40.5 63.6,33.6 63.1,28.6 62.6,25.3 62.1,23.2 61.6,21.9 60.9,20.9 60.1,20.5 58.9,20.2 52.7,20.2" fill="#ffa200"/>
<polygon points="52.3,20.2 58.5,20.3 59.8,20.5 60.5,21 61.3,22.1 61.8,23.5 62.3,25.7 62.8,29.1 63.3,34.2 63.8,41.1 64.8,60.7 65.8,86.1 68,149.6 68.3,152.8 68.5,153.9 68.7,154.4 74.2,160.5 74.2,187.1 74.2,187.1 74.2,160.1 68.9,154.3 68.7,153.8 68.4,152.7 68.2,149.5 65.9,86 64.9,60.5 63.9,40.8 63.4,33.9 62.9,28.9 62.4,25.5 62,23.4 61.5,22 60.7,21 60,20.5 58.7,20.2 52.5,20.2" fill="#ff9d00"/>
<polygon points="52,20.2 58.1,20.2 59.3,20.5 60.1,20.9 60.8,21.8 61.3,22.9 61.9,24.7 62.4,27.5 63.1,34.4 63.6,41.4 64.6,61 65.6,86.3 67.9,149.7 68.2,152.9 68.4,154 68.6,154.5 74.2,161 74.2,187.1 74.2,187.1 74.2,160.5 68.7,154.4 68.5,153.9 68.3,152.8 68,149.6 65.8,86.1 64.8,60.7 63.8,41.1 63.3,34.2 62.8,29.1 62.3,25.7 61.8,23.5 61.3,22.1 60.5,21 59.8,20.5 58.5,20.3 52.3,20.2" fill="#ff9900"/>
<polygon points="51.8,20.2 57.9,20.2 59.1,20.5 59.9,20.9 60.7,21.9 61.2,23 61.7,24.8 62.2,27.7 62.9,34.7 63.5,41.7 64.5,61.2 65.5,86.4 67.8,149.8 68,153 68.2,154.1 68.5,154.6 74.2,161.4 74.2,187.1 74.2,187.1 74.2,161 68.6,154.5 68.4,154 68.2,152.9 67.9,149.7 65.6,86.3 64.6,61 63.6,41.4 63.1,34.4 62.4,27.5 61.9,24.7 61.3,22.9 60.8,21.8 60.1,20.9 59.3,20.5 58.1,20.2 52,20.2" fill="#ff9600"/>
<polygon points="51.6,20.2 57.4,20.2 58.7,20.4 59.5,20.8 60.2,21.5 61,23.1 61.5,25 62,27.9 62.8,35 63.3,41.9 64.3,61.4 65.3,86.5 67.6,149.9 67.9,153.1 68.1,154.2 68.3,154.7 74.2,161.9 74.2,187.1 74.2,187.1 74.2,161.4 68.5,154.6 68.2,154.1 68,153 67.8,149.8 65.5,86.4 64.5,61.2 63.5,41.7 62.9,34.7 62.2,27.7 61.7,24.8 61.2,23 60.7,21.9 59.9,20.9 59.1,20.5 57.9,20.2 51.8,20.2" fill="#ff9200"/>
<polygon points="51.4,20.2 57.2,20.2 58.5,20.5 59.3,20.8 60.1,21.6 60.8,23.2 61.3,25.2 61.8,28.1 62.6,35.2 63.1,42.2 64.1,61.6 65.2,86.7 67.5,149.9 67.7,153.2 67.9,154.3 68.2,154.8 74.2,162.3 74.2,187.1 74.2,187.1 74.2,161.9 68.3,154.7 68.1,154.2 67.9,153.1 67.6,149.9 65.3,86.5 64.3,61.4 63.3,41.9 62.8,35 62,27.9 61.5,25 61,23.1 60.2,21.5 59.5,20.8 58.7,20.4 57.4,20.2 51.6,20.2" fill="#ff8f00"/>
<polygon points="51.1,20.2 57.1,20.2 58.3,20.5 59.1,20.9 59.9,21.7 60.6,23.4 61.2,25.3 61.7,28.3 62.4,35.5 63,42.5 64,61.8 65,86.8 67.3,150 67.6,153.2 67.8,154.4 68,154.9 74.2,162.7 74.2,187.1 74.2,187.1 74.2,162.3 68.2,154.8 67.9,154.3 67.7,153.2 67.5,149.9 65.2,86.7 64.1,61.6 63.1,42.2 62.6,35.2 61.8,28.1 61.3,25.2 60.8,23.2 60.1,21.6 59.3,20.8 58.5,20.5 57.2,20.2 51.4,20.2" fill="#ff8b00"/>
<polygon points="50.9,20.2 56.9,20.3 58.1,20.5 58.9,20.9 59.7,21.8 60.5,23.5 61,25.5 61.5,28.5 62.3,35.8 62.8,42.7 63.8,62 64.9,86.9 67.2,150 67.4,153.3 67.7,154.4 67.9,155 74.2,163.2 74.2,187.1 74.2,187.1 74.2,162.7 68,154.9 67.8,154.4 67.6,153.2 67.3,150 65,86.8 64,61.8 63,42.5 62.4,35.5 61.7,28.3 61.2,25.3 60.6,23.4 59.9,21.7 59.1,20.9 58.3,20.5 57.1,20.2 51.1,20.2" fill="#ff8800"/>
<polygon points="50.7,20.2 56.7,20.3 58,20.5 58.7,21 59.5,21.9 60.3,23.6 60.8,25.7 61.3,28.8 61.9,33.2 62.4,39.3 63.4,56.8 64.7,87 66.8,144.3 67,150.1 67.3,153.3 67.5,154.5 68,155.4 74.2,163.6 74.2,187.1 74.2,187.1 74.2,163.2 67.9,155 67.7,154.4 67.4,153.3 67.2,150 64.9,86.9 63.8,62 62.8,42.7 62.3,35.8 61.5,28.5 61,25.5 60.5,23.5 59.7,21.8 58.9,20.9 58.1,20.5 56.9,20.3 50.9,20.2" fill="#ff8400"/>
<polygon points="50.5,20.2 54.7,20.2 56.5,20.3 57.8,20.6 58.6,21 59.3,21.9 60.1,23.8 60.6,25.9 61.2,29 62,36.3 62.5,43.3 63.5,62.4 64.8,93.9 66.6,144.3 66.9,150.1 67.2,153.3 67.4,154.5 67.8,155.4 74.2,164.1 74.2,187.1 74.2,187.1 74.2,163.6 68,155.4 67.5,154.5 67.3,153.3 67,150.1 66.8,144.3 64.7,87 63.4,56.8 62.4,39.3 61.9,33.2 61.3,28.8 60.8,25.7 60.3,23.6 59.5,21.9 58.7,21 58,20.5 56.7,20.3 50.7,20.2" fill="#ff8100"/>
<polygon points="50.3,20.2 54.5,20.2 56.3,20.3 57.6,20.6 58.4,21.1 59.2,22 60,23.9 60.5,26 61,29.2 61.8,36.5 62.3,43.5 63.4,62.6 64.7,94 66.5,144.3 66.8,150.1 67,153.4 67.2,154.5 67.7,155.5 74.2,164.5 74.2,187.1 74.2,187.1 74.2,164.1 67.8,155.4 67.4,154.5 67.2,153.3 66.9,150.1 66.6,144.3 64.8,93.9 63.5,62.4 62.5,43.3 62,36.3 61.2,29 60.6,25.9 60.1,23.8 59.3,21.9 58.6,21 57.8,20.6 56.5,20.3 54.7,20.2 50.5,20.2" fill="#ff7d00"/>
<polygon points="50.1,20.2 54.3,20.2 56.1,20.3 57.4,20.6 58.2,21.1 59,22.1 59.8,24 60.3,26.2 60.8,29.4 61.6,36.7 62.1,43.7 63.2,62.8 64.5,94 66.3,144.3 66.6,150.1 66.9,153.3 67.1,154.5 67.5,155.4 74.2,165 74.2,187.1 74.2,187.1 74.2,164.5 67.7,155.5 67.2,154.5 67,153.4 66.8,150.1 66.5,144.3 64.7,94 63.4,62.6 62.3,43.5 61.8,36.5 61,29.2 60.5,26 60,23.9 59.2,22 58.4,21.1 57.6,20.6 56.3,20.3 54.5,20.2 50.3,20.2" fill="#ff7a00"/>
<polygon points="49.9,20.2 54.1,20.2 56,20.3 57.3,20.7 58.1,21.2 58.8,22.2 59.6,24.2 60.1,26.4 60.7,29.6 61.5,37 62,43.9 63,62.9 64.3,94.1 66.2,144.3 66.4,150 66.7,153.3 66.9,154.4 67.4,155.4 74.2,165.4 74.2,187.1 74.2,187.1 74.2,165 67.5,155.4 67.1,154.5 66.9,153.3 66.6,150.1 66.3,144.3 64.5,94 63.2,62.8 62.1,43.7 61.6,36.7 60.8,29.4 60.3,26.2 59.8,24 59,22.1 58.2,21.1 57.4,20.6 56.1,20.3 54.3,20.2 50.1,20.2" fill="#ff7600"/>
<polygon points="49.8,20.2 53.7,20.2 55.5,20.3 56.8,20.6 57.4,20.8 57.9,21.2 58.7,22.3 59.5,24.3 60,26.5 60.5,29.8 61.3,37.2 61.8,44.2 62.9,63.1 64.2,94.1 66,144.2 66.3,150 66.5,153.2 66.8,154.4 67.2,155.3 74.2,165.8 74.2,187.1 74.2,187.1 74.2,165.4 67.4,155.4 66.9,154.4 66.7,153.3 66.4,150 66.2,144.3 64.3,94.1 63,62.9 62,43.9 61.5,37 60.7,29.6 60.1,26.4 59.6,24.2 58.8,22.2 58.1,21.2 57.3,20.7 56,20.3 54.1,20.2 49.9,20.2" fill="#ff7200"/>
<polygon points="49.6,20.2 53.5,20.2 55.4,20.3 56.7,20.6 57.5,21 58.2,21.9 59,23.6 59.6,25.4 60.1,28.2 60.9,34.5 61.4,40.7 62.4,57.9 63.7,87.4 65.8,144.1 66.1,149.9 66.4,153.1 66.6,154.3 67,155.3 74.2,166.2 74.2,187.1 74.2,187.1 74.2,165.8 67.2,155.3 66.8,154.4 66.5,153.2 66.3,150 66,144.2 64.2,94.1 62.9,63.1 61.8,44.2 61.3,37.2 60.5,29.8 60,26.5 59.5,24.3 58.7,22.3 57.9,21.2 57.4,20.8 56.8,20.6 55.5,20.3 53.7,20.2 49.8,20.2" fill="#ff6d00"/>
<polygon points="49.4,20.2 53.4,20.2 55.2,20.3 56.5,20.6 57.3,21.1 58.1,22 58.9,23.7 59.4,25.6 59.9,28.3 60.7,34.7 61.2,40.9 62.3,58.1 63.6,87.5 65.7,144.1 65.9,149.8 66.2,153 66.4,154.2 66.9,155.2 74.2,166.6 74.2,187.1 74.2,187.1 74.2,166.2 67,155.3 66.6,154.3 66.4,153.1 66.1,149.9 65.8,144.1 63.7,87.4 62.4,57.9 61.4,40.7 60.9,34.5 60.1,28.2 59.6,25.4 59,23.6 58.2,21.9 57.5,21 56.7,20.6 55.4,20.3 53.5,20.2 49.6,20.2" fill="#ff6800"/>
<polygon points="49.2,20.2 52.9,20.2 54.8,20.3 56.1,20.6 57.1,21.1 57.9,22.1 58.7,23.8 59.2,25.7 59.7,28.5 60.5,34.9 61.1,41.1 62.1,58.2 63.4,87.5 65.5,144 65.8,149.7 66,152.9 66.3,154.1 66.7,155.1 74.2,167 74.2,187.1 74.2,187.1 74.2,166.6 66.9,155.2 66.4,154.2 66.2,153 65.9,149.8 65.7,144.1 63.6,87.5 62.3,58.1 61.2,40.9 60.7,34.7 59.9,28.3 59.4,25.6 58.9,23.7 58.1,22 57.3,21.1 56.5,20.6 55.2,20.3 53.4,20.2 49.4,20.2" fill="#ff6300"/>
<polygon points="49.1,20.2 52.7,20.2 54.6,20.3 55.9,20.6 57,21.2 57.7,22.1 58.5,23.9 59.1,25.9 59.6,28.7 60.4,35.1 60.9,41.3 61.9,58.4 63.3,87.5 65.4,143.9 65.6,149.6 65.9,152.8 66.1,154 66.6,155 74.2,167.5 74.2,187.1 74.2,187.1 74.2,167 66.7,155.1 66.3,154.1 66,152.9 65.8,149.7 65.5,144 63.4,87.5 62.1,58.2 61.1,41.1 60.5,34.9 59.7,28.5 59.2,25.7 58.7,23.8 57.9,22.1 57.1,21.1 56.1,20.6 54.8,20.3 52.9,20.2 49.2,20.2" fill="#ff5d00"/>
<polygon points="48.9,20.2 52.6,20.2 54.4,20.3 55.7,20.6 56.8,21.2 57.6,22.2 58.4,24 58.9,26 59.4,28.9 60.2,35.3 60.7,41.5 61.8,58.5 63.1,87.6 65.2,143.7 65.5,149.4 65.7,152.6 66,153.8 66.4,154.9 74.2,167.9 74.2,187.1 74.2,187.1 74.2,167.5 66.6,155 66.1,154 65.9,152.8 65.6,149.6 65.4,143.9 63.3,87.5 61.9,58.4 60.9,41.3 60.4,35.1 59.6,28.7 59.1,25.9 58.5,23.9 57.7,22.1 57,21.2 55.9,20.6 54.6,20.3 52.7,20.2 49.1,20.2" fill="#ff5800"/>
<polygon points="48.7,20.2 52.4,20.2 54.2,20.3 55.6,20.6 56.6,21.3 57.4,22.3 58.2,24.1 58.7,26.2 59.2,29 60,35.5 60.6,41.7 61.6,58.7 62.9,87.6 65,143.6 65.3,149.3 65.6,152.5 65.8,153.7 66.2,154.7 74.2,168.3 74.2,187.1 74.2,187.1 74.2,167.9 66.4,154.9 66,153.8 65.7,152.6 65.5,149.4 65.2,143.7 63.1,87.6 61.8,58.5 60.7,41.5 60.2,35.3 59.4,28.9 58.9,26 58.4,24 57.6,22.2 56.8,21.2 55.7,20.6 54.4,20.3 52.6,20.2 48.9,20.2" fill="#ff5300"/>
<polygon points="48.5,20.2 52.2,20.2 54.1,20.3 55.4,20.6 56.5,21.3 57.2,22.4 58,24.3 58.6,26.3 59.1,29.2 59.9,35.7 60.4,41.9 61.5,58.8 62.8,87.6 64.9,143.5 65.1,149.1 65.4,152.3 65.6,153.5 66.1,154.6 74.2,168.7 74.2,187.1 74.2,187.1 74.2,168.3 66.2,154.7 65.8,153.7 65.6,152.5 65.3,149.3 65,143.6 62.9,87.6 61.6,58.7 60.6,41.7 60,35.5 59.2,29 58.7,26.2 58.2,24.1 57.4,22.3 56.6,21.3 55.6,20.6 54.2,20.3 52.4,20.2 48.7,20.2" fill="#ff4d00"/>
<polygon points="48.4,20.2 51.8,20.2 53.6,20.3 55,20.6 56,21.1 56.8,22 57.6,23.6 58.4,26.4 58.9,29.4 59.7,35.9 60.2,42 61.3,58.9 62.6,87.6 64.7,143.3 65,148.9 65.2,152.1 65.5,153.3 65.9,154.4 74.2,169.1 74.2,187.1 74.2,187.1 74.2,168.7 66.1,154.6 65.6,153.5 65.4,152.3 65.1,149.1 64.9,143.5 62.8,87.6 61.5,58.8 60.4,41.9 59.9,35.7 59.1,29.2 58.6,26.3 58,24.3 57.2,22.4 56.5,21.3 55.4,20.6 54.1,20.3 52.2,20.2 48.5,20.2" fill="#ff4800"/>
<polygon points="48.2,20.2 51.6,20.2 53.5,20.3 54.8,20.6 55.9,21.2 56.6,22.1 57.4,23.7 58.2,26.6 58.8,29.5 59.5,36.1 60.1,42.2 61.1,59 62.4,87.5 64.6,143.1 64.8,148.8 65.1,151.9 65.3,153.1 65.8,154.2 74.2,169.5 74.2,187.1 74.2,187.1 74.2,169.1 65.9,154.4 65.5,153.3 65.2,152.1 65,148.9 64.7,143.3 62.6,87.6 61.3,58.9 60.2,42 59.7,35.9 58.9,29.4 58.4,26.4 57.6,23.6 56.8,22 56,21.1 55,20.6 53.6,20.3 51.8,20.2 48.4,20.2" fill="#ff4300"/>
<polygon points="48,20.2 51.5,20.2 53.3,20.3 54.6,20.6 55.7,21.2 56.5,22.1 57.3,23.8 58.1,26.7 58.6,29.7 59.4,36.3 59.9,42.4 60.4,50 61.2,64.2 62.5,94 64.4,143 64.7,148.6 64.9,151.7 65.1,152.9 65.6,154 74.2,170 74.2,187.1 74.2,187.1 74.2,169.5 65.8,154.2 65.3,153.1 65.1,151.9 64.8,148.8 64.6,143.1 62.4,87.5 61.1,59 60.1,42.2 59.5,36.1 58.8,29.5 58.2,26.6 57.4,23.7 56.6,22.1 55.9,21.2 54.8,20.6 53.5,20.3 51.6,20.2 48.2,20.2" fill="#ff3c00"/>
<polygon points="47.9,20.2 51.3,20.2 53.1,20.3 54.5,20.6 55.5,21.3 56.3,22.2 57.1,23.9 57.9,26.9 58.4,29.9 59.2,36.5 59.7,42.6 60.3,50.2 61.1,64.3 62.4,93.9 64.2,142.8 64.5,148.3 64.8,151.5 65,152.7 65.4,153.8 74.2,170.4 74.2,187.1 74.2,187.1 74.2,170 65.6,154 65.1,152.9 64.9,151.7 64.7,148.6 64.4,143 62.5,94 61.2,64.2 60.4,50 59.9,42.4 59.4,36.3 58.6,29.7 58.1,26.7 57.3,23.8 56.5,22.1 55.7,21.2 54.6,20.6 53.3,20.3 51.5,20.2 48,20.2" fill="#fe3500"/>
<polygon points="47.7,20.2 51.1,20.2 53,20.3 54.3,20.7 55.3,21.3 56.1,22.3 56.9,24 57.7,27 58.3,30 59,36.6 59.6,42.7 60.1,50.3 60.9,64.4 62.2,93.9 64.1,142.5 64.3,148.1 64.6,151.2 64.8,152.4 65.3,153.6 74.2,170.8 74.2,187.1 74.2,187.1 74.2,170.4 65.4,153.8 65,152.7 64.8,151.5 64.5,148.3 64.2,142.8 62.4,93.9 61.1,64.3 60.3,50.2 59.7,42.6 59.2,36.5 58.4,29.9 57.9,26.9 57.1,23.9 56.3,22.2 55.5,21.3 54.5,20.6 53.1,20.3 51.3,20.2 47.9,20.2" fill="#fe2e00"/>
<polygon points="47.5,20.2 50.9,20.2 52.8,20.3 54.1,20.7 55.2,21.4 56,22.4 56.8,24.1 57.6,27.1 58.1,30.2 58.9,36.8 59.4,42.9 59.9,50.4 60.7,64.4 62.1,93.8 63.9,142.3 64.2,147.9 64.4,151 64.7,152.2 65.1,153.4 74.2,171.2 74.2,187.1 74.2,187.1 74.2,170.8 65.3,153.6 64.8,152.4 64.6,151.2 64.3,148.1 64.1,142.5 62.2,93.9 60.9,64.4 60.1,50.3 59.6,42.7 59,36.6 58.3,30 57.7,27 56.9,24 56.1,22.3 55.3,21.3 54.3,20.7 53,20.3 51.1,20.2 47.7,20.2" fill="#fd2600"/>
<polygon points="47.3,20.2 50.5,20.2 52.4,20.3 53.7,20.6 54.7,21.2 55.5,22 56.3,23.5 57.1,26.1 57.7,28.7 58.5,34.4 59,39.8 59.5,46.6 60.3,59.5 61.9,93.7 63.8,142.1 64,147.6 64.3,150.7 64.5,151.9 65,153.1 74.2,171.6 74.2,187.1 74.2,187.1 74.2,171.2 65.1,153.4 64.7,152.2 64.4,151 64.2,147.9 63.9,142.3 62.1,93.8 60.7,64.4 59.9,50.4 59.4,42.9 58.9,36.8 58.1,30.2 57.6,27.1 56.8,24.1 56,22.4 55.2,21.4 54.1,20.7 52.8,20.3 50.9,20.2 47.5,20.2" fill="#fd1f00"/>
<polygon points="47.2,20.2 50.3,20.2 52.2,20.3 53.5,20.6 54.6,21.2 55.4,22.1 56.2,23.6 57,26.2 57.5,28.8 58.3,34.6 58.8,40 59.3,46.8 60.1,59.6 61.7,93.6 63.6,141.8 63.9,147.3 64.1,150.4 64.3,151.6 64.8,152.8 74.2,172 74.2,187.1 74.2,187.1 74.2,171.6 65,153.1 64.5,151.9 64.3,150.7 64,147.6 63.8,142.1 61.9,93.7 60.3,59.5 59.5,46.6 59,39.8 58.5,34.4 57.7,28.7 57.1,26.1 56.3,23.5 55.5,22 54.7,21.2 53.7,20.6 52.4,20.3 50.5,20.2 47.3,20.2" fill="#fc1800"/>
<polygon points="47,20.2 50.2,20.2 52,20.3 53.3,20.7 54.4,21.3 55.2,22.1 56,23.7 56.8,26.3 57.3,29 58.1,34.8 58.7,40.1 59.2,46.9 60,59.7 61.6,93.5 63.4,141.5 63.7,147 64,150.1 64.2,151.3 64.6,152.5 74.2,172.5 74.2,187.1 74.2,187.1 74.2,172 64.8,152.8 64.3,151.6 64.1,150.4 63.9,147.3 63.6,141.8 61.7,93.6 60.1,59.6 59.3,46.8 58.8,40 58.3,34.6 57.5,28.8 57,26.2 56.2,23.6 55.4,22.1 54.6,21.2 53.5,20.6 52.2,20.3 50.3,20.2 47.2,20.2" fill="#fc1000"/>
<polygon points="46.8,20.2 50,20.2 51.9,20.3 53.2,20.7 54.2,21.3 55,22.2 55.8,23.8 56.6,26.4 57.2,29.1 58,34.9 58.5,40.3 59,47 59.8,59.7 61.4,93.4 63.3,141.3 63.5,146.7 63.8,149.8 64,151 64.5,152.2 74.2,172.9 74.2,187.1 74.2,187.1 74.2,172.5 64.6,152.5 64.2,151.3 64,150.1 63.7,147 63.4,141.5 61.6,93.5 60,59.7 59.2,46.9 58.7,40.1 58.1,34.8 57.3,29 56.8,26.3 56,23.7 55.2,22.1 54.4,21.3 53.3,20.7 52,20.3 50.2,20.2 47,20.2" fill="#f80d02"/>
<polygon points="46.6,20.2 49.8,20.2 51.7,20.4 53,20.7 54.1,21.3 54.9,22.3 55.7,23.9 56.5,26.5 57,29.2 57.8,35.1 58.3,40.4 58.9,47.1 59.7,59.8 61.2,93.3 63.1,141 63.4,146.4 63.6,149.4 63.9,150.7 64.3,151.9 74.2,173.3 74.2,187.1 74.2,187.1 74.2,172.9 64.5,152.2 64,151 63.8,149.8 63.5,146.7 63.3,141.3 61.4,93.4 59.8,59.7 59,47 58.5,40.3 58,34.9 57.2,29.1 56.6,26.4 55.8,23.8 55,22.2 54.2,21.3 53.2,20.7 51.9,20.3 50,20.2 46.8,20.2" fill="#f40a04"/>
<polygon points="46.5,20.2 49.7,20.2 51.5,20.4 52.8,20.7 53.9,21.4 54.7,22.3 55.5,23.9 56.3,26.7 56.8,29.4 57.6,35.2 58.2,40.6 58.7,47.2 59.5,59.8 61.1,93.1 62.9,140.6 63.2,146 63.5,149.1 63.7,150.3 64.2,151.6 74.2,173.7 74.2,187.1 74.2,187.1 74.2,173.3 64.3,151.9 63.9,150.7 63.6,149.4 63.4,146.4 63.1,141 61.2,93.3 59.7,59.8 58.9,47.1 58.3,40.4 57.8,35.1 57,29.2 56.5,26.5 55.7,23.9 54.9,22.3 54.1,21.3 53,20.7 51.7,20.4 49.8,20.2 46.6,20.2" fill="#f00706"/>
<polygon points="46.3,20.2 49.5,20.2 51.3,20.4 52.7,20.8 53.7,21.4 54.5,22.4 55.3,24 56.1,26.8 56.7,29.5 57.5,35.3 58,40.7 58.5,47.3 59.3,59.9 60.9,93 62.8,140.3 63.1,145.7 63.3,148.7 63.5,149.9 64,151.2 74.2,174.1 74.2,187.1 74.2,187.1 74.2,173.7 64.2,151.6 63.7,150.3 63.5,149.1 63.2,146 62.9,140.6 61.1,93.1 59.5,59.8 58.7,47.2 58.2,40.6 57.6,35.2 56.8,29.4 56.3,26.7 55.5,23.9 54.7,22.3 53.9,21.4 52.8,20.7 51.5,20.4 49.7,20.2 46.5,20.2" fill="#ec0409"/>
<polygon points="46.1,20.2 49.3,20.2 51.2,20.4 52.5,20.8 53.6,21.5 54.4,22.5 55.2,24.1 56,26.9 56.5,29.6 57.3,35.5 57.8,40.8 58.4,47.4 59.2,59.9 60.8,92.8 62.6,140 62.9,145.3 63.2,148.3 63.4,149.5 63.8,150.8 74.2,174.5 74.2,187.1 74.2,187.1 74.2,174.1 64,151.2 63.5,149.9 63.3,148.7 63.1,145.7 62.8,140.3 60.9,93 59.3,59.9 58.5,47.3 58,40.7 57.5,35.3 56.7,29.5 56.1,26.8 55.3,24 54.5,22.4 53.7,21.4 52.7,20.8 51.3,20.4 49.5,20.2 46.3,20.2" fill="#e8010b"/>
</g>
<polyline points="70.7,20.2 74.1,20.2 74.2,187.1" stroke="#003c78"/>
<polyline points="70.4,20.2 73.3,20.2 73.5,20.6 74,22.1 74.2,22.1 74.2,187.1" stroke="#004373"/>
<polyline points="70.1,20.2 72.8,20.2 73.2,20.2 73.5,21.1 74,24 74.2,24.1 74.2,187.1" stroke="#004a6f"/>
<polyline points="69.7,20.2 72.7,20.2 72.9,20.2 73.1,20.4 73.4,21.7 74,25.8 74,26 74.2,26.1 74.2,187.1" stroke="#00516a"/>
<polyline points="69.4,20.2 72.5,20.2 72.8,20.2 72.9,20.4 73.1,21 73.3,21.9 74,27.7 74,28 74.2,28 74.2,187.1" stroke="#005866"/>
<polyline points="69.1,20.2 72.4,20.2 72.7,20.3 72.8,20.5 73.2,22.5 73.9,29.5 74,29.9 74.2,30 74.2,187.1" stroke="#005e61"/>
<polyline points="68.8,20.2 72.2,20.2 72.5,20.3 72.7,20.5 72.9,21.4 73.1,22.5 73.9,31.2 74,31.8 74.2,32 74.2,187.1" stroke="#00655c"/>
<polyline points="68.5,20.2 72,20.2 72.3,20.3 72.6,20.6 72.8,21.7 73,23.1 73.9,33 74,33.7 74.1,33.9 74.2,33.9 74.2,187.1" stroke="#006c58"/>
<polyline points="68.2,20.2 71.8,20.2 72.2,20.3 72.5,20.8 72.8,22.1 72.9,23.7 74,35.6 74.1,35.8 74.2,35.9 74.2,187.1" stroke="#007353"/>
<polyline points="67.9,20.2 71.6,20.2 72,20.3 72.3,20.7 72.6,21.9 72.8,23.4 73.9,36.5 74,37.4 74.1,37.8 74.2,37.9 74.2,187.1" stroke="#017a4f"/>
<polyline points="67.6,20.2 71.5,20.2 71.9,20.3 72.2,20.8 72.5,22.2 72.7,23.9 73.8,38.2 73.9,39.3 74.1,39.7 74.2,39.8 74.2,187.1" stroke="#04804a"/>
<polyline points="67.2,20.2 71.3,20.2 71.8,20.4 72.1,21 72.4,22.6 72.6,24.5 73.8,39.9 73.9,41.1 74,41.7 74.2,41.8 74.2,187.1" stroke="#078646"/>
<polyline points="66.9,20.2 71.2,20.2 71.7,20.5 72,21.2 72.3,23 72.6,25.1 73.9,42.9 74,43.6 74.2,43.8 74.2,187.1" stroke="#0a8c41"/>
<polyline points="66.6,20.2 71.1,20.2 71.6,20.5 71.9,21.4 72.3,23.4 72.6,27 73.9,44.8 74,45.5 74.2,45.7 74.2,187.1" stroke="#0d923c"/>
<polyline points="66.3,20.2 70.1,20.2 71,20.2 71.4,20.6 71.8,21.5 72.2,23.8 72.5,27.7 73.9,46.6 74,47.4 74.2,47.7 74.2,187.1" stroke="#109838"/>
<polyline points="66,20.2 70.7,20.2 71.2,20.5 71.6,21.3 72,23.2 72.4,26.8 73.9,48.4 74,49.3 74.2,49.7 74.2,187.1" stroke="#139e33"/>
<polyline points="65.7,20.2 69.6,20.2 70.6,20.2 71.1,20.6 71.5,21.4 71.9,23.6 72.1,26 73.9,50.4 74,51.4 74.2,51.8 74.2,187.1" stroke="#15a132"/>
<polyline points="65.4,20.2 69.5,20.2 70.4,20.3 71,20.6 71.4,21.6 71.8,24 72.1,26.6 73.8,52.4 74,53.5 74.2,54 74.2,187.1" stroke="#16a231"/>
<polyline points="65.1,20.2 70.2,20.2 70.6,20.4 70.9,20.7 71.3,21.8 71.7,24.3 72,27.1 73.8,54.4 74,55.7 74.2,56.2 74.2,187.1" stroke="#18a330"/>
<polyline points="64.7,20.2 69,20.2 70,20.2 70.5,20.4 70.7,20.8 71.2,22 71.6,24.7 71.9,27.7 73.8,56.4 74,57.8 74.2,58.3 74.2,187.1" stroke="#19a430"/>
<polyline points="64.4,20.2 68.8,20.2 69.9,20.3 70.3,20.5 70.6,20.8 71.1,22.1 71.5,25.1 71.8,28.3 73.8,58.4 74,59.9 74.2,60.5 74.2,187.1" stroke="#1aa62f"/>
<polyline points="64.1,20.2 68.6,20.2 69.7,20.3 70.2,20.5 70.5,20.9 71,22.3 71.5,25.5 71.8,28.9 73.8,60.4 73.9,62 74.2,62.7 74.2,187.1" stroke="#1ca72e"/>
<polyline points="63.8,20.2 68.5,20.2 69.6,20.3 70.1,20.6 70.4,21 70.9,22.5 71.2,24.6 71.7,29.5 73.8,62.4 73.9,64.1 74.2,64.9 74.2,187.1" stroke="#1da82e"/>
<polyline points="63.5,20.2 68.3,20.2 69.5,20.3 70,20.6 70.3,21.1 70.8,22.7 71.1,24.9 71.6,30 72.3,39.7 73.8,64.4 73.9,66.2 74.2,67.1 74.2,187.1" stroke="#1ea92d"/>
<polyline points="63.2,20.2 68,20.2 69.1,20.3 69.7,20.5 70,20.9 70.5,22.2 71,25.2 71.5,30.6 72.2,40.7 73.7,66.4 73.9,68.3 74.2,69.2 74.2,187.1" stroke="#1faa2c"/>
<polyline points="62.9,20.2 68.7,20.2 69.4,20.4 69.9,20.9 70.4,22.3 70.9,25.6 71.8,36.2 73.7,68.4 73.9,70.4 74.2,71.4 74.2,187.1" stroke="#21ab2c"/>
<polyline points="62.6,20.2 68.5,20.2 69.2,20.4 69.8,21 70.3,22.5 70.7,24.5 71,27.6 71.6,34.3 73.7,70.4 73.9,72.5 74.2,73.6 74.2,187.1" stroke="#22ad2b"/>
<polyline points="62.2,20.2 68.3,20.2 69.1,20.5 69.6,21.1 70.2,22.7 70.6,24.8 70.9,28 71.5,35 73.7,72.3 73.9,74.6 74.2,75.8 74.2,187.1" stroke="#23ae2a"/>
<polyline points="61.9,20.2 68,20.2 68.8,20.4 69.3,20.8 69.9,22.1 70.3,23.8 70.7,26.6 71.2,33.1 72,44.7 73.7,74.3 73.9,76.7 74.1,77.7 74.2,77.9 74.2,187.1" stroke="#25af2a"/>
<polyline points="61.6,20.2 67.8,20.2 68.6,20.4 69.2,20.9 69.8,22.2 70.2,24 70.6,27 71.1,33.7 71.9,45.7 73.7,76.3 73.9,78.7 74.1,79.9 74.2,80.1 74.2,187.1" stroke="#26b029"/>
<polyline points="61.3,20.2 67.7,20.2 68.5,20.4 69.1,20.9 69.7,22.3 70.1,24.3 70.5,27.3 70.9,31.7 71.9,46.7 73.7,78.3 73.9,80.8 74.1,82 74.2,82.3 74.2,187.1" stroke="#27b128"/>
<polyline points="61,20.2 67.5,20.2 68.3,20.4 69,21 69.4,21.8 69.6,22.5 70,24.5 70.4,27.6 70.8,32.1 71.8,47.5 73.6,79.9 73.9,82.5 74.1,83.8 74.2,84 74.2,187.1" stroke="#2ab327"/>
<polyline points="60.7,20.2 67.2,20.2 68,20.4 68.6,20.8 69,21.4 69.2,21.9 69.9,24.6 70.3,27.9 70.7,32.4 71.8,48.1 73.6,81 73.8,83.7 74.1,85 74.2,85.3 74.2,187.1" stroke="#2fb526"/>
<polyline points="60.3,20.2 67,20.2 67.8,20.4 68.5,20.8 68.9,21.5 69.1,22 69.8,24.8 70.2,28.1 70.6,32.8 71.7,48.7 73.6,82.1 73.8,84.9 74,86.2 74.2,86.6 74.2,187.1" stroke="#33b724"/>
<polyline points="59.9,20.2 66.8,20.2 67.6,20.4 68.3,20.8 68.7,21.5 69,22.1 69.4,23.7 70.1,28.4 70.5,33.2 71.6,49.4 73.6,83.2 73.8,86.1 74,87.5 74.2,87.8 74.2,187.1" stroke="#38b923"/>
<polyline points="59.5,20.2 66.5,20.2 67.4,20.4 68.1,20.9 68.6,21.6 68.8,22.2 69.3,23.9 69.7,26.8 70.2,31 71.3,46.4 73.6,84.3 73.8,87.2 74,88.7 74.2,89.1 74.2,187.1" stroke="#3dbb21"/>
<polyline points="59,20.2 66.3,20.2 67.2,20.4 67.9,20.9 68.4,21.7 68.6,22.2 69.1,24 69.6,27 70.1,31.3 71.2,47 73.6,85.4 73.8,88.4 74,90 74.2,90.4 74.2,187.1" stroke="#41bd20"/>
<polyline points="58.6,20.2 66.1,20.2 67,20.4 67.8,21 68.2,21.7 68.5,22.3 69,24.2 69.5,27.2 69.9,31.6 71.1,47.5 73.5,86.6 73.8,89.6 74,91.2 74.2,91.6 74.2,187.1" stroke="#46bf1e"/>
<polyline points="58.2,20.2 65.9,20.2 66.8,20.5 67.6,21 68.1,21.8 68.3,22.4 68.8,24.3 69.3,27.4 69.8,31.9 71.1,48.1 73.5,87.7 73.8,90.8 74,92.4 74.2,92.9 74.2,187.1" stroke="#4ac11d"/>
<polyline points="57.8,20.2 65.4,20.2 66.7,20.5 67.4,21 67.9,21.9 68.2,22.5 68.7,24.5 69.2,27.7 69.7,32.2 71,48.6 73.5,88.8 73.8,92 74,93.7 74.2,94.2 74.2,187.1" stroke="#4fc31b"/>
<polyline points="57.3,20.2 65.2,20.2 66.5,20.5 67.2,21.1 67.8,21.9 68,22.6 68.5,24.6 69.1,27.9 69.6,32.5 70.9,49.2 73.5,89.9 73.8,93.1 74,94.9 74.2,95.4 74.2,187.1" stroke="#53c51a"/>
<polyline points="56.9,20.2 64.9,20.2 66,20.4 66.8,20.8 67.3,21.5 67.6,22 68.1,23.6 68.4,24.8 68.9,28.1 69.5,32.8 70.8,49.8 73.5,91 73.7,94.3 74,96.2 74.2,96.7 74.2,187.1" stroke="#58c718"/>
<polyline points="56.5,20.2 64.7,20.2 65.8,20.4 66.6,20.9 67.2,21.5 67.4,22 68,23.7 68.5,26.4 69.1,30.5 69.9,39.3 70.7,50.3 73.4,92.1 73.7,95.5 74,97.4 74.2,98 74.2,187.1" stroke="#5dc916"/>
<polyline points="56.2,20.2 64.5,20.2 65.6,20.4 66.4,20.9 67,21.6 67.3,22.1 67.8,23.8 68.4,26.6 68.9,30.7 69.8,39.6 70.6,50.8 73.4,93.2 73.7,96.7 73.9,98.6 74.2,99.3 74.2,187.1" stroke="#61cb15"/>
<polyline points="55.9,20.2 64.3,20.2 65.4,20.4 66.3,20.9 66.8,21.6 67.1,22.2 67.7,23.9 68.2,26.7 68.8,31 69.7,40 70.5,51.3 73.3,94.4 73.6,97.9 73.9,99.9 74.2,100.7 74.2,187.1" stroke="#69ce13"/>
<polyline points="55.5,20.2 64.1,20.2 65.3,20.4 66.1,20.9 66.7,21.6 67,22.2 67.5,24 68.1,26.9 68.7,31.2 69.5,40.4 70.4,51.9 73.3,95.7 73.5,99.2 73.8,101.3 74.2,102.1 74.2,187.1" stroke="#76d210"/>
<polyline points="55.2,20.2 63.9,20.2 65.1,20.4 65.9,20.9 66.5,21.7 66.8,22.3 67.4,24.1 68,27 68.6,31.4 69.4,40.8 70.3,52.5 73.2,96.9 73.5,100.5 73.8,102.6 74,103.3 74.2,103.6 74.2,187.1" stroke="#82d50d"/>
<polyline points="54.9,20.2 63.4,20.2 64.9,20.4 65.8,21 66.4,21.7 66.7,22.3 67.2,24.2 67.8,27.2 68.4,31.7 69.3,41.2 70.2,53 73.1,98.1 73.4,101.8 73.7,104 74,104.7 74.2,105 74.2,187.1" stroke="#8fd90a"/>
<polyline points="54.5,20.2 63.2,20.2 64.7,20.5 65.6,21 66.2,21.8 66.5,22.4 67.1,24.2 67.7,27.3 68.3,31.9 69.2,41.6 70.1,53.6 73.1,99.4 73.4,103.1 73.7,105.3 73.9,106 74.2,106.4 74.2,187.1" stroke="#9cdd08"/>
<polyline points="54.2,20.2 63,20.2 64.5,20.5 65.4,21 66,21.8 66.3,22.4 66.9,24.3 67.6,27.5 68.2,32.2 68.8,38.4 69.7,49.9 73.3,104.4 73.6,106.7 73.8,107.4 74.2,107.9 74.2,187.1" stroke="#a9e105"/>
<polyline points="54.1,20.2 62.9,20.2 64.1,20.4 65,20.8 65.6,21.4 65.9,21.8 66.5,23.3 67.1,25.8 67.7,29.7 68.6,38.6 69.5,50.3 73.2,105.7 73.5,108 73.7,108.7 74.2,109.3 74.2,187.1" stroke="#b5e502"/>
<polyline points="54,20.2 62.8,20.2 64,20.4 64.9,20.8 65.5,21.4 65.8,21.9 66.4,23.3 67,25.9 67.6,29.9 68.5,38.9 69.4,50.9 73,107.3 73.3,109.7 73.5,110.4 73.8,110.8 74.2,111.1 74.2,187.1" stroke="#c1e900"/>
<polyline points="53.9,20.2 62.6,20.2 63.8,20.4 64.7,20.8 65.3,21.4 65.6,21.9 66.2,23.4 66.8,26.1 67.4,30.2 68.3,39.4 69.2,51.7 72.8,109.8 73.1,112.2 73.4,113 73.6,113.3 74.2,113.7 74.2,187.1" stroke="#cced00"/>
<polyline points="53.8,20.2 62.5,20.2 63.7,20.4 64.6,20.8 65.2,21.4 65.5,21.9 66.1,23.5 66.7,26.2 67.3,30.4 68.2,39.9 69.1,52.5 72.7,112.2 73,114.7 73.2,115.5 73.4,115.8 74.2,116.4 74.2,187.1" stroke="#d7f000"/>
<polyline points="53.7,20.2 62.4,20.2 63.6,20.4 64.5,20.8 65.1,21.5 65.4,22 66,23.6 66.5,26.3 67.1,30.7 68,40.4 68.9,53.4 72.5,114.6 72.8,117.2 73,118 73.5,118.6 74.2,119 74.2,187.1" stroke="#e2f400"/>
<polyline points="53.7,20.2 62,20.2 63.2,20.3 64,20.6 64.6,21.1 64.9,21.5 65.5,22.7 66.1,24.9 66.7,28.5 67.6,37.2 68.5,49.6 72.3,117.6 72.6,120.2 72.8,121.1 73.3,121.7 74.2,122.2 74.2,187.1" stroke="#eef800"/>
<polyline points="53.8,20.2 61.9,20.2 63.1,20.3 63.9,20.7 64.5,21.1 64.8,21.5 65.4,22.8 66,25 66.6,28.8 67.4,37.8 68.3,50.6 72.1,121.2 72.4,123.9 72.6,124.7 73,125.3 74.2,126.1 74.2,187.1" stroke="#f5fa00"/>
<polyline points="53.8,20.2 61.8,20.2 63,20.3 63.8,20.7 64.4,21.2 64.7,21.6 65.3,22.9 65.8,25.2 66.4,29 67.3,38.3 68.1,51.6 71.8,124.7 72.1,127.5 72.4,128.4 72.8,129 74.2,129.9 74.2,187.1" stroke="#f7f800"/>
<polyline points="53.9,20.2 61.8,20.2 62.9,20.3 63.7,20.7 64.3,21.2 64.6,21.6 65.1,22.9 65.7,25.3 66.3,29.2 67.1,38.8 68,52.6 71.6,128.3 71.9,131.1 72.1,132 72.6,132.6 74.2,133.7 74.2,187.1" stroke="#f9f700"/>
<polyline points="53.9,20.2 61.7,20.2 62.8,20.3 63.6,20.7 64.2,21.2 64.5,21.6 65,23 65.6,25.4 66.1,29.4 67,39.3 67.8,53.6 71.4,131.8 71.7,134.7 71.9,135.6 72.3,136.3 74.2,137.5 74.2,187.1" stroke="#fbf600"/>
<polyline points="54,20.2 61.6,20.2 62.7,20.3 63.5,20.7 64.1,21.2 64.3,21.6 64.9,23 65.4,25.5 65.7,27.3 66.5,35.9 67.6,54.5 71.2,135.3 71.4,138.3 71.7,139.3 72.1,139.9 74.2,141.4 74.2,187.1" stroke="#fdf500"/>
<polyline points="54,20.2 61.5,20.2 62.6,20.4 63.4,20.7 63.9,21.3 64.2,21.8 64.7,23.2 65.3,25.8 65.5,27.7 66.3,36.5 67.4,55.7 70.9,138.8 71.2,141.9 71.4,142.9 71.9,143.5 74.2,145.2 74.2,187.1" stroke="#fff400"/>
<polyline points="53.9,20.2 61.4,20.2 62.5,20.4 63.2,20.8 63.8,21.4 64,21.9 64.6,23.4 65.1,26 65.4,28 66.2,36.9 67.2,56.2 70.7,140.6 71,143.6 71.2,144.6 71.6,145.3 74.2,147.2 74.2,187.1" stroke="#ffee00"/>
<polyline points="53.9,20.2 61,20.2 62.1,20.3 62.8,20.7 63.4,21.1 63.6,21.5 64.2,22.6 64.7,24.7 65.2,28.2 66,37.3 67,56.8 70.5,142.2 70.7,145.3 70.9,146.3 71.2,146.7 74.2,149.1 74.2,187.1" stroke="#ffe800"/>
<polyline points="53.9,20.2 60.9,20.2 61.9,20.4 62.7,20.7 63.2,21.2 63.5,21.6 64,22.8 64.5,24.9 65,28.5 65.8,37.7 66.9,57.3 70.2,143.8 70.5,146.9 70.7,147.9 70.9,148.4 74.2,151 74.2,187.1" stroke="#ffe300"/>
<polyline points="53.9,20.2 60.8,20.2 61.8,20.4 62.6,20.7 63.1,21.2 63.3,21.6 63.9,22.9 64.4,25.1 64.9,28.8 65.6,38.1 66.7,57.9 70,145.5 70.2,148.5 70.5,149.6 70.7,150 74.2,152.9 74.2,187.1" stroke="#ffdd00"/>
<polyline points="53.8,20.2 60.4,20.2 61.4,20.3 62.2,20.6 62.9,21.3 63.4,22.3 63.9,24 64.5,26.9 65,31.6 65.5,38.3 66.5,58.2 69.8,146.4 70,149.5 70.2,150.5 70.5,151 74.2,154.2 74.2,187.1" stroke="#ffd700"/>
<polyline points="53.8,20.2 60,20.2 61.3,20.3 62,20.6 62.8,21.4 63.3,22.4 63.8,24.1 64.3,27.1 64.8,31.8 65.3,38.6 66.3,58.5 69.6,146.9 69.8,150 70,151 70.3,151.4 74.2,154.9 74.2,187.1" stroke="#ffd100"/>
<polyline points="53.6,20.2 59.9,20.2 61.1,20.4 61.9,20.7 62.6,21.4 63.1,22.5 63.6,24.3 64.1,27.3 64.6,32 65.1,38.9 66.1,58.7 69.4,147.4 69.6,150.5 69.8,151.5 70.1,151.9 74.2,155.7 74.2,187.1" stroke="#ffcb00"/>
<polyline points="53.5,20.2 59.7,20.2 61,20.4 61.7,20.7 62.5,21.5 63,22.6 63.5,24.5 64,27.5 64.5,32.3 65,39.1 65.9,59 66.9,84.7 69.2,147.8 69.4,150.9 69.7,152 69.9,152.4 74.2,156.5 74.2,187.1" stroke="#ffc400"/>
<polyline points="53.4,20.2 59.6,20.2 60.8,20.4 61.6,20.8 62.3,21.6 62.8,22.7 63.3,24.6 63.8,27.7 64.3,32.5 64.8,39.4 65.8,59.3 66.8,85 69,148.3 69.2,151.4 69.5,152.5 69.7,152.9 74.2,157.2 74.2,187.1" stroke="#ffbe00"/>
<polyline points="53.3,20.2 59.4,20.2 60.7,20.4 61.4,20.8 62.1,21.7 62.6,22.8 63.1,24.8 63.6,28 64.1,32.8 64.6,39.7 65.6,59.5 66.6,85.2 68.8,148.7 69,151.8 69.3,152.9 69.5,153.4 74.2,158 74.2,187.1" stroke="#ffb800"/>
<polyline points="53.1,20.2 59.3,20.2 60.5,20.4 61.2,20.8 62,21.8 62.5,23 63,25 63.5,28.2 63.9,33.1 64.4,40 65.4,59.8 66.4,85.5 68.6,149.2 68.9,152.3 69.1,153.3 69.3,153.8 74.2,158.7 74.2,187.1" stroke="#ffb200"/>
<polyline points="52.9,20.2 59.1,20.2 60.3,20.5 61.1,20.9 61.8,21.9 62.3,23.1 62.8,25.1 63.3,28.4 63.8,33.3 64.3,40.2 65.3,60 66.3,85.7 68.5,149.3 68.7,152.4 68.9,153.5 69.2,154 74.2,159.2 74.2,187.1" stroke="#ffac00"/>
<polyline points="52.7,20.2 58.9,20.2 60.1,20.5 60.9,20.9 61.6,21.9 62.1,23.2 62.6,25.3 63.1,28.6 63.6,33.6 64.1,40.5 65.1,60.3 66.1,85.8 68.3,149.4 68.6,152.6 68.8,153.6 69,154.1 74.2,159.6 74.2,187.1" stroke="#ffa500"/>
<polyline points="52.5,20.2 58.7,20.2 60,20.5 60.7,21 61.5,22 62,23.4 62.4,25.5 62.9,28.9 63.4,33.9 63.9,40.8 64.9,60.5 65.9,86 68.2,149.5 68.4,152.7 68.7,153.8 68.9,154.3 74.2,160.1 74.2,187.1" stroke="#ff9f00"/>
<polyline points="52.3,20.2 58.5,20.3 59.8,20.5 60.5,21 61.3,22.1 61.8,23.5 62.3,25.7 62.8,29.1 63.3,34.2 63.8,41.1 64.8,60.7 65.8,86.1 68,149.6 68.3,152.8 68.5,153.9 68.7,154.4 74.2,160.5 74.2,187.1" stroke="#ff9b00"/>
<polyline points="52,20.2 58.1,20.2 59.3,20.5 60.1,20.9 60.8,21.8 61.3,22.9 61.9,24.7 62.4,27.5 63.1,34.4 63.6,41.4 64.6,61 65.6,86.3 67.9,149.7 68.2,152.9 68.4,154 68.6,154.5 74.2,161 74.2,187.1" stroke="#ff9800"/>
<polyline points="51.8,20.2 57.9,20.2 59.1,20.5 59.9,20.9 60.7,21.9 61.2,23 61.7,24.8 62.2,27.7 62.9,34.7 63.5,41.7 64.5,61.2 65.5,86.4 67.8,149.8 68,153 68.2,154.1 68.5,154.6 74.2,161.4 74.2,187.1" stroke="#ff9400"/>
<polyline points="51.6,20.2 57.4,20.2 58.7,20.4 59.5,20.8 60.2,21.5 61,23.1 61.5,25 62,27.9 62.8,35 63.3,41.9 64.3,61.4 65.3,86.5 67.6,149.9 67.9,153.1 68.1,154.2 68.3,154.7 74.2,161.9 74.2,187.1" stroke="#ff9100"/>
<polyline points="51.4,20.2 57.2,20.2 58.5,20.5 59.3,20.8 60.1,21.6 60.8,23.2 61.3,25.2 61.8,28.1 62.6,35.2 63.1,42.2 64.1,61.6 65.2,86.7 67.5,149.9 67.7,153.2 67.9,154.3 68.2,154.8 74.2,162.3 74.2,187.1" stroke="#ff8d00"/>
<polyline points="51.1,20.2 57.1,20.2 58.3,20.5 59.1,20.9 59.9,21.7 60.6,23.4 61.2,25.3 61.7,28.3 62.4,35.5 63,42.5 64,61.8 65,86.8 67.3,150 67.6,153.2 67.8,154.4 68,154.9 74.2,162.7 74.2,187.1" stroke="#ff8a00"/>
<polyline points="50.9,20.2 56.9,20.3 58.1,20.5 58.9,20.9 59.7,21.8 60.5,23.5 61,25.5 61.5,28.5 62.3,35.8 62.8,42.7 63.8,62 64.9,86.9 67.2,150 67.4,153.3 67.7,154.4 67.9,155 74.2,163.2 74.2,187.1" stroke="#ff8600"/>
<polyline points="50.7,20.2 56.7,20.3 58,20.5 58.7,21 59.5,21.9 60.3,23.6 60.8,25.7 61.3,28.8 61.9,33.2 62.4,39.3 63.4,56.8 64.7,87 66.8,144.3 67,150.1 67.3,153.3 67.5,154.5 68,155.4 74.2,163.6 74.2,187.1" stroke="#ff8300"/>
<polyline points="50.5,20.2 54.7,20.2 56.5,20.3 57.8,20.6 58.6,21 59.3,21.9 60.1,23.8 60.6,25.9 61.2,29 62,36.3 62.5,43.3 63.5,62.4 64.8,93.9 66.6,144.3 66.9,150.1 67.2,153.3 67.4,154.5 67.8,155.4 74.2,164.1 74.2,187.1" stroke="#ff7f00"/>
<polyline points="50.3,20.2 54.5,20.2 56.3,20.3 57.6,20.6 58.4,21.1 59.2,22 60,23.9 60.5,26 61,29.2 61.8,36.5 62.3,43.5 63.4,62.6 64.7,94 66.5,144.3 66.8,150.1 67,153.4 67.2,154.5 67.7,155.5 74.2,164.5 74.2,187.1" stroke="#ff7c00"/>
<polyline points="50.1,20.2 54.3,20.2 56.1,20.3 57.4,20.6 58.2,21.1 59,22.1 59.8,24 60.3,26.2 60.8,29.4 61.6,36.7 62.1,43.7 63.2,62.8 64.5,94 66.3,144.3 66.6,150.1 66.9,153.3 67.1,154.5 67.5,155.4 74.2,165 74.2,187.1" stroke="#ff7800"/>
<polyline points="49.9,20.2 54.1,20.2 56,20.3 57.3,20.7 58.1,21.2 58.8,22.2 59.6,24.2 60.1,26.4 60.7,29.6 61.5,37 62,43.9 63,62.9 64.3,94.1 66.2,144.3 66.4,150 66.7,153.3 66.9,154.4 67.4,155.4 74.2,165.4 74.2,187.1" stroke="#ff7500"/>
<polyline points="49.8,20.2 53.7,20.2 55.5,20.3 56.8,20.6 57.4,20.8 57.9,21.2 58.7,22.3 59.5,24.3 60,26.5 60.5,29.8 61.3,37.2 61.8,44.2 62.9,63.1 64.2,94.1 66,144.2 66.3,150 66.5,153.2 66.8,154.4 67.2,155.3 74.2,165.8 74.2,187.1" stroke="#ff7000"/>
<polyline points="49.6,20.2 53.5,20.2 55.4,20.3 56.7,20.6 57.5,21 58.2,21.9 59,23.6 59.6,25.4 60.1,28.2 60.9,34.5 61.4,40.7 62.4,57.9 63.7,87.4 65.8,144.1 66.1,149.9 66.4,153.1 66.6,154.3 67,155.3 74.2,166.2 74.2,187.1" stroke="#ff6a00"/>
<polyline points="49.4,20.2 53.4,20.2 55.2,20.3 56.5,20.6 57.3,21.1 58.1,22 58.9,23.7 59.4,25.6 59.9,28.3 60.7,34.7 61.2,40.9 62.3,58.1 63.6,87.5 65.7,144.1 65.9,149.8 66.2,153 66.4,154.2 66.9,155.2 74.2,166.6 74.2,187.1" stroke="#ff6500"/>
<polyline points="49.2,20.2 52.9,20.2 54.8,20.3 56.1,20.6 57.1,21.1 57.9,22.1 58.7,23.8 59.2,25.7 59.7,28.5 60.5,34.9 61.1,41.1 62.1,58.2 63.4,87.5 65.5,144 65.8,149.7 66,152.9 66.3,154.1 66.7,155.1 74.2,167 74.2,187.1" stroke="#ff6000"/>
<polyline points="49.1,20.2 52.7,20.2 54.6,20.3 55.9,20.6 57,21.2 57.7,22.1 58.5,23.9 59.1,25.9 59.6,28.7 60.4,35.1 60.9,41.3 61.9,58.4 63.3,87.5 65.4,143.9 65.6,149.6 65.9,152.8 66.1,154 66.6,155 74.2,167.5 74.2,187.1" stroke="#ff5b00"/>
<polyline points="48.9,20.2 52.6,20.2 54.4,20.3 55.7,20.6 56.8,21.2 57.6,22.2 58.4,24 58.9,26 59.4,28.9 60.2,35.3 60.7,41.5 61.8,58.5 63.1,87.6 65.2,143.7 65.5,149.4 65.7,152.6 66,153.8 66.4,154.9 74.2,167.9 74.2,187.1" stroke="#ff5500"/>
<polyline points="48.7,20.2 52.4,20.2 54.2,20.3 55.6,20.6 56.6,21.3 57.4,22.3 58.2,24.1 58.7,26.2 59.2,29 60,35.5 60.6,41.7 61.6,58.7 62.9,87.6 65,143.6 65.3,149.3 65.6,152.5 65.8,153.7 66.2,154.7 74.2,168.3 74.2,187.1" stroke="#ff5000"/>
<polyline points="48.5,20.2 52.2,20.2 54.1,20.3 55.4,20.6 56.5,21.3 57.2,22.4 58,24.3 58.6,26.3 59.1,29.2 59.9,35.7 60.4,41.9 61.5,58.8 62.8,87.6 64.9,143.5 65.1,149.1 65.4,152.3 65.6,153.5 66.1,154.6 74.2,168.7 74.2,187.1" stroke="#ff4b00"/>
<polyline points="48.4,20.2 51.8,20.2 53.6,20.3 55,20.6 56,21.1 56.8,22 57.6,23.6 58.4,26.4 58.9,29.4 59.7,35.9 60.2,42 61.3,58.9 62.6,87.6 64.7,143.3 65,148.9 65.2,152.1 65.5,153.3 65.9,154.4 74.2,169.1 74.2,187.1" stroke="#ff4500"/>
<polyline points="48.2,20.2 51.6,20.2 53.5,20.3 54.8,20.6 55.9,21.2 56.6,22.1 57.4,23.7 58.2,26.6 58.8,29.5 59.5,36.1 60.1,42.2 61.1,59 62.4,87.5 64.6,143.1 64.8,148.8 65.1,151.9 65.3,153.1 65.8,154.2 74.2,169.5 74.2,187.1" stroke="#ff4000"/>
<polyline points="48,20.2 51.5,20.2 53.3,20.3 54.6,20.6 55.7,21.2 56.5,22.1 57.3,23.8 58.1,26.7 58.6,29.7 59.4,36.3 59.9,42.4 60.4,50 61.2,64.2 62.5,94 64.4,143 64.7,148.6 64.9,151.7 65.1,152.9 65.6,154 74.2,170 74.2,187.1" stroke="#ff3900"/>
<polyline points="47.9,20.2 51.3,20.2 53.1,20.3 54.5,20.6 55.5,21.3 56.3,22.2 57.1,23.9 57.9,26.9 58.4,29.9 59.2,36.5 59.7,42.6 60.3,50.2 61.1,64.3 62.4,93.9 64.2,142.8 64.5,148.3 64.8,151.5 65,152.7 65.4,153.8 74.2,170.4 74.2,187.1" stroke="#fe3100"/>
<polyline points="47.7,20.2 51.1,20.2 53,20.3 54.3,20.7 55.3,21.3 56.1,22.3 56.9,24 57.7,27 58.3,30 59,36.6 59.6,42.7 60.1,50.3 60.9,64.4 62.2,93.9 64.1,142.5 64.3,148.1 64.6,151.2 64.8,152.4 65.3,153.6 74.2,170.8 74.2,187.1" stroke="#fe2a00"/>
<polyline points="47.5,20.2 50.9,20.2 52.8,20.3 54.1,20.7 55.2,21.4 56,22.4 56.8,24.1 57.6,27.1 58.1,30.2 58.9,36.8 59.4,42.9 59.9,50.4 60.7,64.4 62.1,93.8 63.9,142.3 64.2,147.9 64.4,151 64.7,152.2 65.1,153.4 74.2,171.2 74.2,187.1" stroke="#fd2300"/>
<polyline points="47.3,20.2 50.5,20.2 52.4,20.3 53.7,20.6 54.7,21.2 55.5,22 56.3,23.5 57.1,26.1 57.7,28.7 58.5,34.4 59,39.8 59.5,46.6 60.3,59.5 61.9,93.7 63.8,142.1 64,147.6 64.3,150.7 64.5,151.9 65,153.1 74.2,171.6 74.2,187.1" stroke="#fd1b00"/>
<polyline points="47.2,20.2 50.3,20.2 52.2,20.3 53.5,20.6 54.6,21.2 55.4,22.1 56.2,23.6 57,26.2 57.5,28.8 58.3,34.6 58.8,40 59.3,46.8 60.1,59.6 61.7,93.6 63.6,141.8 63.9,147.3 64.1,150.4 64.3,151.6 64.8,152.8 74.2,172 74.2,187.1" stroke="#fc1400"/>
<polyline points="47,20.2 50.2,20.2 52,20.3 53.3,20.7 54.4,21.3 55.2,22.1 56,23.7 56.8,26.3 57.3,29 58.1,34.8 58.7,40.1 59.2,46.9 60,59.7 61.6,93.5 63.4,141.5 63.7,147 64,150.1 64.2,151.3 64.6,152.5 74.2,172.5 74.2,187.1" stroke="#fa0f01"/>
<polyline points="46.8,20.2 50,20.2 51.9,20.3 53.2,20.7 54.2,21.3 55,22.2 55.8,23.8 56.6,26.4 57.2,29.1 58,34.9 58.5,40.3 59,47 59.8,59.7 61.4,93.4 63.3,141.3 63.5,146.7 63.8,149.8 64,151 64.5,152.2 74.2,172.9 74.2,187.1" stroke="#f60c03"/>
<polyline points="46.6,20.2 49.8,20.2 51.7,20.4 53,20.7 54.1,21.3 54.9,22.3 55.7,23.9 56.5,26.5 57,29.2 57.8,35.1 58.3,40.4 58.9,47.1 59.7,59.8 61.2,93.3 63.1,141 63.4,146.4 63.6,149.4 63.9,150.7 64.3,151.9 74.2,173.3 74.2,187.1" stroke="#f20905"/>
<polyline points="46.5,20.2 49.7,20.2 51.5,20.4 52.8,20.7 53.9,21.4 54.7,22.3 55.5,23.9 56.3,26.7 56.8,29.4 57.6,35.2 58.2,40.6 58.7,47.2 59.5,59.8 61.1,93.1 62.9,140.6 63.2,146 63.5,149.1 63.7,150.3 64.2,151.6 74.2,173.7 74.2,187.1" stroke="#ee0608"/>
<polyline points="46.3,20.2 49.5,20.2 51.3,20.4 52.7,20.8 53.7,21.4 54.5,22.4 55.3,24 56.1,26.8 56.7,29.5 57.5,35.3 58,40.7 58.5,47.3 59.3,59.9 60.9,93 62.8,140.3 63.1,145.7 63.3,148.7 63.5,149.9 64,151.2 74.2,174.1 74.2,187.1" stroke="#ea030a"/>
<polyline points="46.1,20.2 49.3,20.2 51.2,20.4 52.5,20.8 53.6,21.5 54.4,22.5 55.2,24.1 56,26.9 56.5,29.6 57.3,35.5 57.8,40.8 58.4,47.4 59.2,59.9 60.8,92.8 62.6,140 62.9,145.3 63.2,148.3 63.4,149.5 63.8,150.8 74.2,174.5 74.2,187.1" stroke="#e6000c"/>
</g>
<path d="M42.1 20.3 H52.8" stroke="#a03444" stroke-width="1.7" fill="none"/><path d="M74.2 177.1 V187.1" stroke="#b03a40" stroke-width="1.1" fill="none"/><path d="M74.2 187.1 H257.6" stroke="#906068" stroke-width="1.4" fill="none"/>
<g fill="none" stroke-width="1.3" stroke-linejoin="round">
<polyline points="74.2,370.6" stroke="#003c78"/>
<polyline points="73.7,370.2 73.8,370 74.2,370 74.2,370.6" stroke="#004373"/>
<polyline points="73.5,370.3 73.8,369.4 74.2,369.4 74.2,370.6" stroke="#004a6f"/>
<polyline points="73.5,370.1 73.8,368.8 74.2,368.8 74.2,370.6" stroke="#00516a"/>
<polyline points="73.4,370.3 73.7,368.2 74.2,368.1 74.2,370.6" stroke="#005866"/>
<polyline points="73.3,370.3 73.7,367.6 74.2,367.5 74.2,370.6" stroke="#005e61"/>
<polyline points="73.3,370.2 73.7,366.5 74.2,366.5 74.2,370.6" stroke="#00655c"/>
<polyline points="73.2,370.2 73.4,368.7 73.5,365.6 73.6,365.2 74.2,365.2 74.2,370.6" stroke="#006c58"/>
<polyline points="73.1,370.2 73.3,368.4 73.5,364.2 73.6,363.8 74.2,363.8 74.2,370.6" stroke="#007353"/>
<polyline points="73.1,370.2 73.3,368.1 73.5,362.9 73.6,362.4 74.2,362.4 74.2,370.6" stroke="#017a4f"/>
<polyline points="73,370.2 73.2,367.9 73.4,361.5 73.5,361.1 74.2,361.1 74.2,370.6" stroke="#04804a"/>
<polyline points="73,370.1 73.2,367.4 73.4,360.1 73.5,359.7 74.2,359.7 74.2,370.6" stroke="#078646"/>
<polyline points="72.7,370.2 72.9,368.9 73,367.3 73.4,358.7 73.5,358.4 74.2,358.3 74.2,370.6" stroke="#0a8c41"/>
<polyline points="72.4,370.2 72.6,369.5 72.8,367.3 73.3,357.4 73.4,357 74.2,357 74.2,370.6" stroke="#0d923c"/>
<polyline points="72.1,370.3 72.4,369.2 72.7,367.3 73.3,356 73.4,355.7 74.2,355.6 74.2,370.6" stroke="#109838"/>
<polyline points="71.8,370.2 72.2,369.1 72.5,367.3 73.2,354.7 73.4,354.3 74.2,354.3 74.2,370.6" stroke="#139e33"/>
<polyline points="71.5,370.2 71.8,369.8 72,369 72.4,365.9 73.2,353.1 73.3,352.7 73.5,352.6 74.2,352.6 74.2,370.6" stroke="#15a132"/>
<polyline points="71.2,370.2 71.5,369.7 71.8,368.8 72.2,366 73.2,351.3 73.3,351 73.4,350.9 74.2,350.9 74.2,370.6" stroke="#16a231"/>
<polyline points="70.9,370.2 71.3,369.6 71.6,368.8 72,366.2 72.4,361 73,350.9 73.1,349.6 73.3,349.2 73.4,349.1 74.2,349.1 74.2,370.6" stroke="#18a330"/>
<polyline points="70.6,370.2 71,369.6 71.3,368.7 71.6,367.3 71.9,365 72.4,359.3 72.9,349.1 73.1,347.9 73.2,347.5 73.4,347.4 74.2,347.4 74.2,370.6" stroke="#19a430"/>
<polyline points="70.3,370.1 70.8,369.5 71.1,368.7 71.4,367.4 71.7,365.3 72.1,360 72.7,349.6 73,346.2 73.2,345.8 73.4,345.6 74.2,345.6 74.2,370.6" stroke="#1aa62f"/>
<polyline points="70,370.1 70.5,369.5 71,368.2 71.3,366.6 71.6,364.2 72.1,358.5 72.7,347.8 73,344.5 73.2,344 73.3,343.9 74.2,343.9 74.2,370.6" stroke="#1ca72e"/>
<polyline points="69.6,370.2 70.1,369.7 70.6,368.8 71,366.8 71.4,364.5 71.8,359.3 72.7,346 73,342.8 73.1,342.3 73.3,342.2 74.2,342.1 74.2,370.6" stroke="#1da82e"/>
<polyline points="69.3,370.2 69.8,369.8 70.3,368.8 70.8,367 71.1,364.9 71.6,360.1 72.6,344.1 72.9,341 73.1,340.6 73.3,340.4 74.2,340.4 74.2,370.6" stroke="#1ea92d"/>
<polyline points="69.1,370.1 69.7,369.6 70.2,368.5 70.7,366.4 71,364.1 71.7,356.5 72.7,340.2 72.9,339.2 73.1,338.8 73.4,338.6 74.2,338.6 74.2,370.6" stroke="#1faa2c"/>
<polyline points="68.8,370.1 69.5,369.3 70.1,368.1 70.6,365.7 70.9,363.2 71.6,355 72.7,338.4 72.9,337.4 73,337 73.4,336.9 74.2,336.9 74.2,370.6" stroke="#21ab2c"/>
<polyline points="68.5,370.1 69.2,369.4 69.8,368.3 70.3,366.1 70.7,363.8 71.4,356.1 72.3,341.1 72.6,336.6 72.8,335.7 73,335.3 73.4,335.1 74.2,335.1 74.2,370.6" stroke="#22ad2b"/>
<polyline points="68.2,370.2 68.7,369.7 69.1,369.2 69.6,367.9 70.2,365.5 70.6,362.9 71.3,354.8 72.2,339.2 72.6,334.8 72.8,333.9 73,333.5 73.3,333.4 74.2,333.4 74.2,370.6" stroke="#23ae2a"/>
<polyline points="67.8,370.1 68.4,369.7 68.8,369.2 69.3,368 69.9,365.7 70.3,363.3 71,355.7 72.2,337.3 72.6,333 72.7,332.2 72.9,331.8 73.3,331.6 74.2,331.6 74.2,370.6" stroke="#25af2a"/>
<polyline points="67.5,370.1 68.2,369.5 68.8,368.5 69.4,366.7 69.8,364.9 70.4,360.6 70.8,356.6 71.3,348.4 72.1,335.3 72.5,331.2 72.7,330.4 72.9,330.1 73.3,329.9 74.2,329.9 74.2,370.6" stroke="#26b029"/>
<polyline points="67.1,370.1 67.9,369.5 68.3,368.9 68.7,368.1 69.3,366 69.7,364 70.3,359.4 70.7,355.1 72.3,331 72.5,329.4 72.7,328.7 72.9,328.3 73.3,328.1 74.1,328.1 74.2,328.3 74.2,370.6" stroke="#27b128"/>
<polyline points="66.5,370.2 67.3,369.7 67.7,369.2 68.1,368.5 68.7,367 69.4,364.3 70,359.9 70.6,353.5 72.2,329 72.4,327.5 72.6,326.8 72.8,326.4 73.2,326.2 74.1,326.2 74.2,328.3 74.2,370.6" stroke="#2ab327"/>
<polyline points="66.1,370.2 66.7,369.8 67.2,369.5 67.6,368.9 68,368.2 68.6,366.4 69.2,363.4 69.9,358.7 70.5,351.8 72.2,326.9 72.4,325.5 72.6,324.7 72.8,324.4 73.2,324.2 74.1,324.2 74.2,328.3 74.2,370.6" stroke="#2fb526"/>
<polyline points="65.7,370.2 66.3,369.8 66.8,369.5 67.2,369 67.6,368.3 68.3,366.6 68.9,363.8 69.5,359.4 70.2,353 70.8,344.2 71.7,330.2 72.1,324.9 72.3,323.5 72.5,322.7 72.8,322.4 73.2,322.2 74,322.1 74.2,328.3 74.2,370.6" stroke="#33b724"/>
<polyline points="65.4,370.1 66.1,369.7 66.5,369.3 67,368.8 67.4,368 68.1,366.2 68.7,363.2 69.4,358.5 70.1,351.8 70.7,342.8 71.6,328.4 72.1,323 72.3,321.5 72.5,320.7 72.7,320.3 73.2,320.1 74,320.1 74.2,328.3 74.2,370.6" stroke="#38b923"/>
<polyline points="64.9,370.1 65.6,369.8 66.3,369.2 66.8,368.6 67.2,367.7 67.9,365.7 68.6,362.6 69.3,357.7 69.9,350.7 70.6,341.3 71.5,326.6 72,321 72.2,319.5 72.4,318.7 72.7,318.3 73.1,318.1 74,318 74.2,328.3 74.2,370.6" stroke="#3dbb21"/>
<polyline points="64.4,370.2 65.1,369.8 65.8,369.3 66.3,368.7 66.8,368 67.2,366.9 67.7,365.3 68.4,361.9 69.1,356.8 69.8,349.5 70.5,339.8 71.5,324.8 71.9,319.1 72.2,317.5 72.4,316.7 72.6,316.3 73.1,316.1 74,316 74.2,328.3 74.2,370.6" stroke="#41bd20"/>
<polyline points="64.2,370.1 64.9,369.8 65.6,369.2 66.1,368.6 66.6,367.7 67,366.5 67.5,364.9 68.2,361.3 69,356 69.7,348.3 70.4,338.4 71.4,322.9 71.9,317.2 72.1,315.6 72.3,314.7 72.6,314.3 73.1,314 74,314 74.2,328.3 74.2,370.6" stroke="#46bf1e"/>
<polyline points="63.6,370.1 64.4,369.8 65.1,369.3 65.6,368.7 66.1,368 66.6,366.9 67.1,365.4 67.8,362.1 68.3,359.1 68.8,355.1 69.6,347.2 71.3,321.1 71.8,315.2 72,313.6 72.3,312.7 72.5,312.3 73,312 74,311.9 74.2,328.3 74.2,370.6" stroke="#4ac11d"/>
<polyline points="63.1,370.2 63.9,369.9 64.6,369.4 65.4,368.6 65.9,367.7 66.4,366.6 66.9,365 67.7,361.6 68.2,358.4 68.7,354.2 69.4,346 71.2,319.2 71.7,313.2 72,311.6 72.2,310.7 72.5,310.2 73,309.9 74,309.9 74.2,328.3 74.2,370.6" stroke="#4fc31b"/>
<polyline points="62.8,370.1 63.6,369.8 64.4,369.3 65.2,368.4 65.7,367.5 66.2,366.3 66.7,364.7 67.5,361.1 68,357.7 68.5,353.4 69.3,344.9 71.1,317.3 71.7,311.3 71.9,309.6 72.2,308.7 72.5,308.2 73,307.9 74,307.8 74.2,328.3 74.2,370.6" stroke="#53c51a"/>
<polyline points="62.2,370.2 63.3,369.8 64.1,369.2 64.9,368.3 65.5,367.3 66,366 66.5,364.3 67.3,360.5 68.1,354.9 68.9,346.9 69.7,336.4 71.1,315.4 71.6,309.3 71.9,307.6 72.1,306.6 72.4,306.2 72.9,305.9 74,305.8 74.2,328.3 74.2,370.6" stroke="#58c718"/>
<polyline points="62,370.1 63.1,369.7 63.9,369.1 64.7,368.1 65.3,367.1 65.8,365.7 66.3,363.9 67.2,359.9 68,354.1 68.8,345.9 69.6,335.2 71,313.7 71.5,307.4 71.8,305.6 72.1,304.7 72.3,304.2 72.9,303.8 74,303.8 74.2,328.3 74.2,370.6" stroke="#5dc916"/>
<polyline points="61.5,370.2 62.6,369.7 63.4,369.2 64.2,368.3 64.8,367.4 65.3,366.1 65.9,364.5 66.7,360.9 67.3,357.6 67.8,353.3 68.7,344.9 69.5,333.9 70.9,312.1 71.4,305.6 71.7,303.8 72,302.7 72.3,302.2 72.8,301.8 73.9,301.7 74.2,302 74.2,370.6" stroke="#61cb15"/>
<polyline points="61.2,370.1 62.1,369.8 62.9,369.3 63.7,368.5 64.3,367.6 64.9,366.5 65.4,365 66,363 66.6,360.3 67.1,356.8 67.7,352.4 68.5,343.7 69.4,332.5 70.8,310.3 71.3,303.6 71.6,301.6 71.9,300.5 72.2,299.9 72.5,299.6 72.8,299.5 74.1,299.4 74.2,370.6" stroke="#69ce13"/>
<polyline points="60.7,370.1 61.8,369.7 62.7,369.2 63.5,368.3 64.1,367.4 64.7,366.2 65.3,364.6 65.8,362.4 66.4,359.6 67,356 67.5,351.4 68.4,342.4 69.3,330.9 70.7,308 71.3,301.1 71.5,299 71.8,297.8 72.1,297.1 72.4,296.8 72.7,296.6 74.1,296.5 74.2,328.3 74.2,370.6" stroke="#76d210"/>
<polyline points="60.1,370.2 61.3,369.8 62.5,369 63.3,368 63.9,367.1 64.5,365.8 65.1,364.1 65.6,361.9 66.2,358.9 66.8,355.1 67.4,350.3 68.3,341.1 69.1,329.2 70.6,305.8 71.2,298.6 71.5,296.4 71.7,295.1 72,294.4 72.3,294 72.6,293.8 74,293.7 74.2,328.3 74.2,370.6" stroke="#82d50d"/>
<polyline points="59.9,370.1 61.1,369.7 62.2,368.9 63.1,367.8 63.7,366.8 64.3,365.5 64.9,363.7 65.5,361.3 66.1,358.2 66.7,354.3 67.2,349.3 68.1,339.8 69,327.6 70.5,303.6 71.1,296.1 71.4,293.8 71.7,292.4 72,291.6 72.3,291.2 72.5,291 73.1,290.9 74,290.9 74.2,309.7 74.2,370.6" stroke="#8fd90a"/>
<polyline points="59.3,370.1 60.5,369.7 61.7,369 62.6,368 63.2,367.1 63.8,365.9 64.4,364.2 65,362.1 65.6,359.2 66.2,355.6 66.8,351 68,338.4 68.9,325.9 70.4,301.3 71,293.6 71.3,291.2 71.6,289.7 71.9,288.9 72.2,288.4 72.5,288.2 73.1,288.1 73.9,288 74.1,292.7 74.2,370.6" stroke="#9cdd08"/>
<polyline points="59.1,370.1 60.3,369.7 61.5,368.9 62.4,368 63,367 63.6,365.7 64.2,364 64.8,361.8 65.4,358.9 66,355.1 66.6,350.4 67.9,337.6 68.8,324.8 70.6,295.1 71.2,288.8 71.5,287.1 71.8,286.2 72.1,285.7 72.7,285.3 74.1,285.2 74.2,370.6" stroke="#a9e105"/>
<polyline points="58.6,370.1 59.9,369.8 61.1,369.1 62,368.2 62.9,366.8 63.5,365.4 64.1,363.7 64.7,361.4 65.3,358.4 65.9,354.6 66.5,349.8 67.7,336.9 68.6,324.1 70.4,294.1 71,287 71.3,285 71.7,283.8 72,283.1 72.3,282.7 72.6,282.5 73.9,282.4 74.1,297.7 74.2,370.6" stroke="#b5e502"/>
<polyline points="58.2,370.2 59.4,369.8 60.6,369.1 61.5,368.3 62.4,367 63.4,365 64,363.2 64.6,360.7 65.2,357.6 65.8,353.7 66.4,348.7 67.6,335.5 68.5,322.4 70.3,291.5 70.9,283.6 71.2,281.1 71.5,279.5 71.8,278.6 72.1,278.1 72.4,277.8 73,277.6 74,277.6 74.2,328.3 74.2,370.6" stroke="#c1e900"/>
<polyline points="57.8,370.2 59.3,369.7 60.5,368.9 61.4,368 62.3,366.5 63.2,364.3 63.8,362.3 64.4,359.6 65,356.3 65.6,352 66.2,346.7 67.4,332.5 68.3,318.7 70.4,280.5 71,273.3 71.3,271.3 71.6,270 71.9,269.3 72.2,268.9 72.5,268.7 73.1,268.5 74,268.5 74.2,370.6" stroke="#cced00"/>
<polyline points="57.4,370.2 58.9,369.7 60.1,368.9 60.7,368.4 61.3,367.6 62.2,366.1 63.1,363.7 63.7,361.4 64.3,358.6 64.9,354.9 65.5,350.3 66.1,344.7 67.3,329.7 68.5,309.6 70.3,274.3 70.9,265.9 71.2,263.3 71.5,261.6 71.8,260.6 72.1,260 72.4,259.7 73,259.5 73.9,259.4 74.1,282.7 74.2,370.6" stroke="#d7f000"/>
<polyline points="57,370.2 58.5,369.7 59.7,369 60.3,368.5 60.9,367.8 61.8,366.2 62.7,364 63.3,361.9 64.2,357.5 64.8,353.6 65.4,348.7 66,342.7 67.1,326.9 68.3,305.8 70.1,268.4 70.7,258.8 71.3,253.4 71.6,252 71.9,251.2 72.2,250.8 72.5,250.5 73,250.4 73.9,250.3 74.2,302.6 74.2,370.6" stroke="#e2f400"/>
<polyline points="57,370.1 58.4,369.6 59.6,368.8 60.2,368.2 60.8,367.5 61.7,365.9 62.6,363.5 63.2,361.3 64,356.7 64.6,352.7 65.8,341.6 67,325.7 68.2,304.5 69.9,266.7 70.5,256.3 70.8,252.6 71.1,249.9 71.4,248.2 71.7,247.1 72,246.5 72.3,246.1 72.8,245.9 73.7,245.7 74,246.8 74.2,312.3 74.2,370.6" stroke="#eef800"/>
<polyline points="56.7,370.1 58.1,369.6 59.3,368.9 60.5,367.7 61.3,366.2 62.2,364 62.8,362 63.7,358 64.2,354.4 65.1,347.3 65.7,341.3 66.8,325.8 68,305.4 70,263.3 70.6,254.2 71.2,249 71.5,247.7 71.8,246.8 72.1,246.3 72.6,245.9 73,245.8 73.9,245.7 74.2,307.2 74.2,370.6" stroke="#f5fa00"/>
<polyline points="56.4,370.1 58.1,369.5 59.3,368.7 60.4,367.4 61.3,365.9 62.1,363.6 62.7,361.6 63.6,357.5 64.1,353.9 65,347 65.6,341.1 66.7,326 67.8,306.3 69.8,265.5 70.7,252.6 71.3,248.4 71.6,247.3 71.8,246.6 72.1,246.2 72.6,245.9 73.9,245.7 74.2,303.5 74.2,370.6" stroke="#f7f800"/>
<polyline points="56.1,370.1 57.8,369.6 59,368.8 60.1,367.6 60.9,366.2 61.8,364.2 62.6,361.2 63.5,357.1 64,353.5 64.9,346.6 65.4,340.9 66.6,326.2 67.7,307.3 69.9,262.6 70.5,254.3 71.1,249.3 71.3,247.9 71.6,247 71.9,246.5 72.3,246 73,245.8 73.9,245.7 74.1,299.8 74.2,370.6" stroke="#f9f700"/>
<polyline points="55.9,370.1 57.5,369.6 58.9,368.7 60,367.4 60.9,366 61.7,363.9 62.5,360.9 63.4,356.7 63.9,353.2 64.7,346.3 65.3,340.7 66.4,326.4 67.8,303.1 69.7,264.8 70.6,252.9 71.1,248.7 71.7,246.8 71.9,246.5 72.3,246 73,245.8 73.9,245.7 74.1,296.2 74.2,370.6" stroke="#fbf600"/>
<polyline points="55.6,370.1 57.3,369.6 58.6,368.8 59.7,367.6 60.5,366.3 61.3,364.4 62.2,361.7 63,357.9 63.5,354.7 64.3,348.6 64.9,343.5 66.3,326.7 67.6,304.2 69.5,267 70.3,254.5 70.9,249.7 71.4,247.3 71.9,246.4 72.3,246 73,245.8 73.9,245.7 74.1,292.5 74.2,370.6" stroke="#fdf500"/>
<polyline points="55.6,370.1 57.2,369.6 58.5,368.7 59.6,367.5 60.4,366.1 61.2,364.2 62,361.5 62.8,357.8 63.4,354.6 64.2,348.6 64.7,343.6 66.1,327.3 67.4,305.5 69.6,264.5 70.4,253.2 70.9,249 71.2,247.8 71.6,246.6 72.1,246 72.5,245.8 73.9,245.6 74.1,288.9 74.2,370.6" stroke="#fff400"/>
<polyline points="55.5,370.1 57.1,369.6 58.5,368.7 59.5,367.5 60.3,366.2 61.1,364.2 61.9,361.6 62.7,357.9 63.2,354.8 64,348.8 64.8,341.1 66.2,324 67.2,306.5 69.4,266 70.2,254.2 70.7,249.6 71,248.2 71.4,246.7 71.9,246 72.3,245.7 73,245.5 73.9,245.5 74.1,285.3 74.2,370.6" stroke="#ffee00"/>
<polyline points="55.5,370.1 57.1,369.6 58.4,368.7 59.4,367.5 60.2,366.2 61,364.3 61.8,361.7 62.6,358 63.1,354.9 63.9,349 64.7,341.5 66,324.6 67.3,302.7 69.4,262.9 70.2,252.4 70.7,248.6 70.9,247.6 71.4,246.4 71.8,245.8 72.3,245.6 73,245.4 73.9,245.4 74.1,281.7 74.2,370.6" stroke="#ffe800"/>
<polyline points="55.4,370.1 57,369.6 58.3,368.7 59.3,367.6 60.1,366.2 60.9,364.4 61.7,361.7 62.4,358.1 63,355.1 63.7,349.3 64.5,341.8 65.8,325.3 67.1,303.7 69.2,264.3 70,253.4 70.5,249.1 70.7,248 71.2,246.5 71.6,245.8 72.1,245.5 72.7,245.3 73.9,245.2 74.1,278.2 74.2,370.6" stroke="#ffe300"/>
<polyline points="55.4,370.2 56.9,369.7 58.2,368.8 59.2,367.7 60.3,365.9 61,363.9 61.8,361.1 62.6,357.2 63.1,353.9 63.9,347.7 64.4,342.7 65.6,326.4 66.9,305.2 69,265.9 69.5,257.7 70,251.8 70.5,248.4 70.7,247.4 71.1,246.2 71.6,245.6 72,245.3 72.7,245.2 73.8,245.1 74.1,274.4 74.2,370.6" stroke="#ffdd00"/>
<polyline points="55.4,370.2 56.9,369.7 58.1,368.9 59.1,367.8 60.2,366 60.9,364 61.7,361.2 62.4,357.5 62.9,354.2 63.7,348.2 64.2,343.2 65.5,327.3 66.7,306.4 69,262.9 69.8,252.6 70.2,248.8 70.5,247.7 70.9,246.3 71.4,245.6 71.8,245.3 72.5,245.1 73.8,245 74.1,270.1 74.2,370.6" stroke="#ffd700"/>
<polyline points="55.5,370.1 57,369.5 58.3,368.6 59.3,367.4 60,366 60.8,364.1 61.5,361.3 62.3,357.6 62.8,354.4 63.5,348.4 64,343.5 65.3,327.7 66.5,307.1 68.8,263.5 69.6,252.9 69.8,250.6 70.3,247.7 70.5,246.9 70.9,245.8 71.4,245.3 71.8,245.1 72.5,244.9 73.8,244.9 74.1,275.3 74.2,370.6" stroke="#ffd100"/>
<polyline points="55.4,370.1 56.9,369.6 58.1,368.7 59.1,367.5 59.9,366.2 60.6,364.2 61.4,361.6 62.1,357.9 62.6,354.7 63.4,348.8 64.1,341.2 65.4,324.4 66.6,302.7 68.6,263.5 69.4,252.8 69.6,250.5 70.1,247.6 70.3,246.7 70.7,245.7 71.2,245.2 71.6,244.9 72.3,244.8 73.9,244.8 74.1,287.2 74.2,370.6" stroke="#ffcb00"/>
<polyline points="55.3,370.1 56.7,369.6 58,368.8 59,367.6 59.7,366.3 60.5,364.4 61.2,361.8 62,358.2 62.5,355 63.2,349.1 64,341.5 65.2,324.7 66.4,303 68.4,263.5 69.2,252.7 69.4,250.3 69.9,247.5 70.1,246.6 70.5,245.5 71,245 71.4,244.8 72.3,244.7 73.9,244.6 74.1,299.3 74.2,370.6" stroke="#ffc400"/>
<polyline points="55.4,370.1 56.9,369.6 57.8,368.9 58.8,367.7 59.6,366.4 60.3,364.6 61.1,362 61.8,358.4 62.3,355.4 63,349.5 63.5,344.7 64.8,328.9 66,308 68.2,263.5 68.7,255.7 69.2,250.2 69.5,248.5 69.9,246.4 70.1,245.8 70.6,245.1 71,244.8 71.5,244.6 73.7,244.5 74,247.1 74.2,315.9 74.2,370.6" stroke="#ffbe00"/>
<polyline points="55.2,370.1 56.7,369.6 57.7,368.9 58.7,367.8 59.4,366.6 60.2,364.8 60.9,362.2 61.7,358.7 62.1,355.7 62.9,349.9 63.4,345 64.6,329.3 65.8,308.3 68.1,263.5 68.6,255.6 69,250.1 69.3,248.4 69.7,246.3 69.9,245.7 70.4,245 70.8,244.6 71.3,244.5 73.8,244.4 74,252.1 74.2,328.3 74.2,370.6" stroke="#ffb800"/>
<polyline points="55.1,370.2 56.6,369.6 57.6,369 58.5,367.9 59.3,366.7 60,365 60.8,362.5 61.5,359 62,356 62.7,350.2 63.2,345.4 64.4,329.7 65.7,308.7 67.9,263.5 68.4,255.5 68.9,250 69.1,248.3 69.5,246.1 69.8,245.5 70.2,244.8 70.7,244.5 71.3,244.3 73.8,244.3 74,259 74.2,370.6" stroke="#ffb200"/>
<polyline points="55.1,370.1 56.6,369.6 57.6,368.8 58.6,367.7 59.3,366.3 60.1,364.4 60.6,362.7 61.3,359.2 61.8,356.3 62.5,350.5 63,345.8 64.3,330.1 65.5,309 67.7,263.5 68.2,255.4 68.7,249.8 68.9,248.2 69.4,246 69.6,245.4 70.1,244.7 70.5,244.4 71.2,244.2 73.9,244.2 74.1,289 74.2,370.6" stroke="#ffac00"/>
<polyline points="54.9,370.1 56.4,369.6 57.4,368.9 58.4,367.8 59.1,366.4 59.9,364.5 60.4,362.8 61.1,359.5 61.6,356.5 62.4,350.9 63.1,343.4 64.4,326.7 65.6,304.5 67.6,263.5 68.1,255.4 68.6,249.7 68.8,248 69.3,245.9 69.5,245.3 69.9,244.6 70.4,244.3 71,244.1 73.7,244 74,249 74.2,328.3 74.2,370.6" stroke="#ffa500"/>
<polyline points="55,370.1 56.5,369.5 57.2,369 57.7,368.5 58.7,367.1 59.5,365.4 60.2,363 61,359.7 61.7,355.1 62.2,351.2 63.2,340.9 64.2,327 65.4,304.8 67.4,263.5 67.9,255.3 68.2,252.1 68.7,247.9 68.9,246.7 69.3,245.2 69.6,244.7 70,244.3 70.5,244.1 71.1,244 73.8,243.9 74.1,268 74.2,370.6" stroke="#ff9f00"/>
<polyline points="54.8,370.1 56.3,369.5 57,369 57.5,368.6 58.5,367.2 59.3,365.5 60,363.2 60.8,359.9 61.5,355.4 62,351.5 63,341.2 64,327.4 65.3,305.1 67.3,263.6 67.8,255.3 68,252 68.5,247.8 68.7,246.6 69.2,245 69.4,244.6 69.9,244.2 70.3,244 71,243.8 73.9,243.8 74.1,296.4 74.2,370.6" stroke="#ff9b00"/>
<polyline points="54.5,370.1 56.1,369.6 56.8,369.1 57.3,368.6 58.3,367.3 59.3,365 60.1,362.4 60.8,358.8 61.6,353.8 62.1,349.6 63.1,338.5 64.1,323.7 65.1,305.4 67.1,263.6 67.6,255.2 67.9,251.9 68.4,247.7 68.6,246.4 69,244.9 69.3,244.5 69.7,244 70.2,243.8 70.8,243.7 73.8,243.7 74,252.4 74.2,328.3 74.2,370.6" stroke="#ff9800"/>
<polyline points="54.6,370.1 56.1,369.5 56.9,368.9 57.4,368.4 58.4,366.9 59.1,365.2 59.9,362.6 60.7,359.1 61.4,354.1 61.9,349.9 62.9,338.8 64,324.1 65,305.7 67,263.6 67.5,255.1 67.8,251.9 68.2,247.6 68.5,246.3 68.9,244.8 69.1,244.4 69.6,243.9 70,243.7 70.7,243.6 73.9,243.6 74.1,276.6 74.2,370.6" stroke="#ff9400"/>
<polyline points="54.4,370.1 55.9,369.5 56.7,369 57.2,368.5 58.2,367 59,365.3 59.7,362.8 60.5,359.3 61.3,354.4 61.8,350.2 62.8,339.2 63.8,324.4 64.8,306 67.1,259.1 67.6,251.8 68.1,247.5 68.3,246.2 68.8,244.7 69,244.3 69.4,243.8 69.9,243.6 70.6,243.5 73.7,243.5 73.9,244.2 74.2,304 74.2,370.6" stroke="#ff9100"/>
<polyline points="54.2,370.1 55.7,369.6 56.5,369 57,368.6 58,367.1 58.8,365.4 59.5,363 60.3,359.5 61.1,354.7 61.6,350.5 62.6,339.6 63.6,324.8 64.7,306.3 67,259 67.5,251.7 67.9,247.4 68.2,246.1 68.6,244.6 68.8,244.1 69.3,243.7 69.7,243.5 70.4,243.4 73.8,243.3 74,256.2 74.2,370.6" stroke="#ff8d00"/>
<polyline points="54,370.2 55.5,369.6 56.3,369.1 56.8,368.6 57.8,367.2 58.6,365.6 59.4,363.2 60.1,359.8 60.9,355 61.4,350.8 62.4,339.9 63.5,325.1 64.5,306.6 66.8,259 67.3,251.6 67.8,247.2 68,246 68.5,244.5 68.7,244 69.2,243.6 69.6,243.4 70.3,243.3 73.9,243.2 74.1,284 74.2,370.6" stroke="#ff8a00"/>
<polyline points="54,370.1 55.6,369.5 56.6,368.7 57.6,367.3 58.4,365.7 59.2,363.3 60,360 60.7,355.2 61.2,351.1 62.3,340.2 63.3,325.4 64.3,306.8 66.7,259 67.2,251.5 67.7,247.1 67.9,245.9 68.3,244.3 68.6,243.9 69,243.4 69.5,243.2 70.1,243.1 73.7,243.1 74,247.1 74.2,315.9 74.2,370.6" stroke="#ff8600"/>
<polyline points="53.8,370.1 55.4,369.5 56.4,368.7 57.4,367.4 58.2,365.8 59,363.5 59.8,360.1 60.6,355.4 61.1,351.3 62.1,340.5 63.2,325.7 64.2,307 66.5,258.9 67,251.4 67.5,247 67.7,245.8 68.2,244.2 68.4,243.8 68.9,243.3 69.3,243.1 70,243 73.8,243 74,261.9 74.2,370.6" stroke="#ff8300"/>
<polyline points="53.6,370.1 55.2,369.6 56.2,368.8 57.3,367.5 58,365.9 58.8,363.6 59.6,360.3 60.4,355.6 60.9,351.5 62,340.7 63,325.9 64,307.2 66.4,258.9 66.9,251.3 67.4,246.9 67.6,245.6 68.1,244.1 68.3,243.7 68.7,243.2 69.2,243 69.9,242.9 73.9,242.9 74.1,291.3 74.2,370.6" stroke="#ff7f00"/>
<polyline points="53.4,370.2 55,369.6 56,368.8 57.1,367.5 57.9,366 58.6,363.7 59.4,360.4 60.2,355.8 60.7,351.7 61.8,340.9 62.8,326.1 63.9,307.4 66.2,258.9 66.8,251.2 67.2,246.8 67.5,245.5 67.9,244 68.1,243.6 68.6,243.1 69,242.9 69.7,242.8 73.8,242.7 74,249.9 74.2,328.3 74.2,370.6" stroke="#ff7c00"/>
<polyline points="53.5,370.1 54.3,369.8 55.1,369.4 56.1,368.6 57.2,367.1 58,365.4 58.7,362.8 59.5,359.2 60.3,354 60.8,349.6 61.9,337.9 62.7,326.4 63.7,307.7 66.1,259 66.6,251.3 67.1,246.8 67.3,245.5 67.8,243.9 68,243.5 68.4,243 68.9,242.8 69.5,242.7 73.8,242.6 74,263.7 74.2,370.6" stroke="#ff7800"/>
<polyline points="53.3,370.1 54.1,369.9 54.9,369.5 56,368.6 57,367.2 57.8,365.5 58.6,362.9 59.4,359.3 60.1,354.2 60.7,349.8 61.7,338.1 62.5,326.7 63.6,308 65.9,259.2 66.4,251.3 66.9,246.8 67.1,245.4 67.6,243.8 67.8,243.4 68.3,242.9 68.7,242.7 69.6,242.5 73.9,242.5 74.1,286.8 74.2,370.6" stroke="#ff7500"/>
<polyline points="53.2,370.1 54,369.9 54.7,369.5 55.8,368.7 56.8,367.2 57.6,365.5 58.4,363 59.2,359.4 60,354.4 60.5,350 61.6,338.4 62.6,322.7 63.6,303.1 65.7,259.3 66.3,251.4 66.8,246.7 67,245.4 67.4,243.7 67.7,243.3 68.1,242.8 68.6,242.5 69.5,242.4 73.7,242.4 73.9,245.8 74.2,308.2 74.2,370.6" stroke="#ff7000"/>
<polyline points="53,370.1 54.6,369.5 55.6,368.7 56.7,367.3 57.5,365.6 58.2,363.1 59,359.6 59.8,354.5 60.3,350.2 61.4,338.6 62.2,327.3 63.2,308.6 65.6,259.5 66.1,251.5 66.4,248.6 66.8,245.3 67,244.3 67.5,243.2 67.7,242.9 68.2,242.5 69.3,242.3 73.8,242.3 74,255.2 74.2,370.6" stroke="#ff6a00"/>
<polyline points="52.8,370.1 54.4,369.5 55.5,368.7 56.5,367.3 57.3,365.7 58.1,363.2 58.9,359.7 59.6,354.7 60.2,350.4 61.2,338.9 62,327.5 63.3,303.7 65.4,259.6 65.9,251.5 66.2,248.6 66.7,245.3 66.9,244.3 67.3,243.1 67.6,242.8 68,242.4 68.5,242.3 69.4,242.2 73.8,242.1 74.1,276.1 74.2,370.6" stroke="#ff6500"/>
<polyline points="52.7,370.2 54.2,369.5 55.3,368.8 56.3,367.4 57.1,365.7 57.9,363.3 58.7,359.8 59.5,354.9 60,350.6 61.1,339.1 61.8,327.8 63.2,304 65.3,259.8 65.8,251.6 66,248.6 66.5,245.3 66.7,244.2 67.2,243 67.4,242.7 67.8,242.3 68.3,242.1 69.2,242 73.7,242 73.9,242.6 74.1,297.3 74.2,370.6" stroke="#ff6000"/>
<polyline points="52.5,370.2 54.1,369.6 55.1,368.8 56.2,367.4 57,365.8 57.7,363.4 58.5,359.9 59.3,355 59.8,350.8 60.9,339.4 61.7,328.1 63,304.3 65.1,260 65.6,251.7 65.9,248.7 66.3,245.2 66.6,244.1 67,242.9 67.2,242.6 67.7,242.2 68.1,242 69,241.9 73.8,241.9 74,249.9 74.2,328.3 74.2,370.6" stroke="#ff5b00"/>
<polyline points="52.6,370.1 53.4,369.8 54.2,369.4 55.2,368.5 56.3,367 57,365.2 57.8,362.5 58.4,360.1 59.2,355.2 59.7,351 60.7,339.6 61.8,324.1 62.8,304.6 64.9,260.2 65.5,251.8 65.7,248.7 66.2,245.2 66.4,244.1 66.9,242.8 67.3,242.2 67.8,242 69.1,241.8 73.8,241.8 74,263.3 74.2,370.6" stroke="#ff5500"/>
<polyline points="52.4,370.1 53.2,369.9 54,369.5 55,368.6 56.1,367.1 56.9,365.3 57.7,362.6 58.2,360.2 59,355.4 59.5,351.2 60.6,339.9 61.6,324.4 62.7,304.9 64.8,260.3 65.3,251.8 65.6,248.7 66,245.1 66.2,244 66.7,242.7 67.1,242.1 67.6,241.9 68.9,241.7 73.7,241.7 73.9,254.7 74.1,298.8 74.2,370.6" stroke="#ff5000"/>
<polyline points="52.2,370.1 53,369.9 53.8,369.5 54.9,368.6 55.9,367.1 56.7,365.3 57.5,362.7 58,360.3 58.8,355.5 59.3,351.3 60.4,340.1 61.5,324.7 62.5,305.2 64.6,260.5 65.1,251.9 65.4,248.8 65.9,245.1 66.1,244 66.5,242.6 66.8,242.2 67.2,241.8 67.7,241.7 68.6,241.6 73.3,241.5 73.5,247 73.7,259.9 73.9,288.3 74.2,332.6 74.2,370.6" stroke="#ff4b00"/>
<polyline points="52.1,370.1 52.9,369.9 53.6,369.5 54.7,368.7 55.8,367.2 56.5,365.4 57.3,362.8 58.1,359 58.9,353.7 59.4,349.1 60.5,336.9 61.3,325 62.3,305.5 64.5,260.7 65,252 65.2,248.8 65.7,245.1 65.9,243.9 66.4,242.5 66.6,242.1 67,241.7 67.5,241.6 68.4,241.4 72.9,241.4 73.1,244.3 73.3,251.6 74,302.4 74.2,370.6" stroke="#ff4500"/>
<polyline points="51.9,370.1 52.7,369.9 53.5,369.5 54.5,368.7 55.6,367.2 56.4,365.5 57.2,362.9 58,359.2 58.8,353.9 59.3,349.3 60.3,337.2 61.1,325.3 62.2,305.8 64.3,260.9 64.8,252.1 65.1,248.8 65.5,245 65.8,243.8 66.2,242.4 66.4,242 66.9,241.6 67.3,241.4 68,241.3 72.5,241.3 72.7,243.4 73.2,254.7 74.1,310 74.2,370.6" stroke="#ff4000"/>
<polyline points="51.7,370.2 52.5,369.9 53.3,369.5 54.4,368.7 55.4,367.3 56.2,365.6 57,363 57.8,359.3 58.6,354.1 59.1,349.5 60.2,337.4 61,325.6 62,306.1 64.1,261.1 64.7,252.2 64.9,248.9 65.4,245 65.6,243.8 66,242.3 66.3,241.9 66.7,241.5 67.2,241.3 67.8,241.2 72.1,241.2 72.3,242.8 72.6,246.3 73,256.7 73.9,303.3 74.1,334.3 74.2,370.6" stroke="#ff3900"/>
<polyline points="51.6,370.2 53.1,369.6 54.2,368.7 55.3,367.3 56,365.6 56.8,363.1 57.6,359.5 58.4,354.2 59,349.7 60,337.7 60.8,325.9 61.9,306.4 64,261.3 64.5,252.3 64.8,248.9 65.2,245 65.4,243.7 65.9,242.3 66.1,241.9 66.6,241.4 67,241.2 67.7,241.1 71.7,241.1 72,242.4 72.2,245 72.9,258 74,308.4 74.2,370.6" stroke="#fe3100"/>
<polyline points="51.6,370.1 52.4,369.8 53.2,369.4 54.3,368.5 54.8,367.8 55.3,366.9 56.1,365 56.9,362.2 57.5,359.6 58.3,354.4 58.8,349.9 59.8,338 60.6,326.1 61.7,306.7 63.8,261.4 64.3,252.4 64.6,249 65.1,245 65.3,243.7 65.7,242.2 66,241.8 66.4,241.3 66.9,241.1 67.5,241 71.3,241 71.8,244.1 72.2,250.5 72.7,259.6 73.8,303.7 74,319.3 74.2,370.6" stroke="#fe2a00"/>
<polyline points="51.5,370.1 52.3,369.8 53.1,369.4 54.1,368.5 54.6,367.9 55.2,367 56,365.1 56.8,362.3 57.3,359.7 58.1,354.6 58.6,350.1 59.7,338.2 60.5,326.4 61.5,307.1 63.9,256.7 64.4,249 64.9,244.9 65.1,243.6 65.6,242.1 65.8,241.7 66.2,241.2 66.7,241 67.4,240.9 71,240.8 71.4,243.7 71.6,246.2 72.3,256 72.5,261.3 73.9,307.5 74.1,334.8 74.2,370.6" stroke="#fd2300"/>
<polyline points="51.3,370.1 52.1,369.9 52.9,369.5 54,368.6 54.5,367.9 55,367 55.8,365.1 56.6,362.4 57.1,359.8 57.9,354.8 58.5,350.3 59.5,338.5 60.3,326.7 61.4,307.4 63.8,256.9 64.3,249.1 64.7,244.9 65,243.6 65.4,242 65.6,241.6 66.1,241.1 66.5,240.9 67.2,240.8 70.6,240.7 70.8,241.7 71.2,245.3 71.7,250.3 72.1,257 73.9,310.7 74.2,370.6" stroke="#fd1b00"/>
<polyline points="51.1,370.1 51.9,369.9 52.7,369.5 53.8,368.6 54.3,367.9 54.8,367.1 55.6,365.2 56.4,362.5 57,360 57.8,354.9 58.3,350.5 59.3,338.7 60.4,322.6 61.5,302.3 63.6,257 64.1,249.1 64.6,244.9 64.8,243.5 65.2,241.9 65.5,241.5 65.9,241 66.4,240.7 67,240.6 70.2,240.6 70.9,244.6 71.5,251.7 72,257.8 73.8,307 74,324 74.2,370.6" stroke="#fc1400"/>
<polyline points="51,370.1 51.8,369.9 52.6,369.5 53.6,368.6 54.1,368 54.7,367.1 55.5,365.3 56.3,362.6 56.8,360.1 57.6,355.1 58.1,350.7 59.2,339 60.2,322.8 61.3,302.6 63.4,257.2 64,249.2 64.4,244.9 64.6,243.5 65.1,241.8 65.3,241.4 65.8,240.9 66.2,240.6 66.9,240.5 69.8,240.5 70.5,244.1 70.7,246.1 71.2,250.2 71.8,258.4 72.5,277.2 73.8,309.5 74.1,335 74.2,370.6" stroke="#fa0f01"/>
<polyline points="50.8,370.2 52.1,369.7 53.2,368.9 54,368 54.8,366.7 55.6,364.6 56.1,362.7 56.9,358.8 57.4,355.3 58.2,348.4 58.8,342.6 59.8,327.6 61.1,302.9 63,262.4 63.5,252.9 64,246.8 64.2,244.9 64.7,242.4 64.9,241.7 65.4,241 65.8,240.6 66.5,240.4 69.2,240.4 69.4,240.4 70.1,243.8 70.3,245.4 71,251.4 71.7,259.5 72.3,277 73.7,306.6 73.9,316.8 74.2,370.6" stroke="#f60c03"/>
<polyline points="50.6,370.2 51.9,369.7 53,369 53.8,368.1 54.6,366.7 55.4,364.7 55.9,362.8 56.7,358.9 57.3,355.4 58.1,348.6 58.6,342.8 59.7,327.9 61,303.2 62.8,262.6 63.4,253 63.9,246.8 64.3,243.4 64.5,242.4 65,241.2 65.4,240.6 65.9,240.4 66.8,240.3 68.4,240.2 69,240.4 69.7,243.5 70.6,250.2 71.3,257.1 73.8,308.8 74,326.7 74.2,370.6" stroke="#f20905"/>
<polyline points="50.7,370.1 52,369.6 53.1,368.7 53.9,367.7 54.7,366.2 55.5,363.9 56,361.8 56.8,357.4 57.4,353.6 58.2,346.1 58.7,339.7 59.8,323.7 60.8,303.5 62.7,262.8 63.5,249.4 63.9,244.8 64.2,243.4 64.6,241.6 65.1,240.7 65.5,240.4 66.2,240.2 67.3,240.1 68.6,240.4 69.5,244.4 70.4,251.1 71.1,257.7 71.3,261.5 72,276.6 73.8,311.5 74,335.2 74.2,370.6" stroke="#ee0608"/>
<polyline points="50.5,370.1 51.9,369.6 52.9,368.8 53.7,367.8 54.5,366.3 55.3,364 55.9,361.9 56.7,357.6 57.2,353.8 58,346.3 58.5,340 59.6,324 60.7,303.8 62.5,263.1 63.3,249.4 63.8,244.8 64,243.3 64.4,241.5 64.7,241 65.1,240.4 65.6,240.2 66.5,240 68.3,240.4 68.5,241.2 69.2,244.1 70.1,250.1 71,258.1 71.9,276.5 73.7,308.3 73.9,320.4 74.2,370.6" stroke="#ea030a"/>
<polyline points="50.4,370.1 51.7,369.6 52.8,368.8 53.8,367.4 54.6,365.7 55.4,363.1 56,360.7 56.8,355.9 57.3,351.7 58.4,340.2 59.4,324.3 60.5,304.1 62.4,263.3 63.2,249.5 63.6,244.8 64.1,242.2 64.3,241.4 64.7,240.5 65.2,240.2 65.9,240 67.9,240.4 68.1,241.1 68.8,243.8 69.7,249.4 70.8,258.6 71.7,276.3 73.7,310 73.9,328.3 74.2,370.6" stroke="#e6000c"/>
</g>
<path d="M74.5 223.7 V240.4" stroke="#f6f000" stroke-width="1.2" fill="none"/><path d="M42.1 370.8 H74.2" stroke="#5c4444" stroke-width="1.1" fill="none"/><path d="M74.2 370.6 H257.6" stroke="#906068" stroke-width="1.4" fill="none"/>
<g fill="none" stroke-width="1.3" stroke-linejoin="round">
<g stroke="none">
<polygon points="329.4,20.2 332.9,20.2 333.2,20.6 333.6,21.7 333.8,21.8 333.8,187.1 333.8,187.1 333.7,20.2 329.8,20.2" fill="#003f76"/>
<polygon points="329.1,20.2 332.8,20.2 333.1,20.8 333.6,23.2 333.6,23.4 333.8,23.4 333.8,187.1 333.8,187.1 333.8,21.8 333.6,21.7 333.2,20.6 332.9,20.2 329.4,20.2" fill="#004572"/>
<polygon points="328.7,20.2 332.3,20.2 332.7,20.3 333,21.2 333.5,24.7 333.6,25 333.8,25 333.8,187.1 333.8,187.1 333.8,23.4 333.6,23.4 333.6,23.2 333.1,20.8 332.8,20.2 329.1,20.2" fill="#004a6e"/>
<polygon points="328.3,20.2 332.2,20.2 332.4,20.2 332.6,20.4 332.9,21.6 333.5,26.1 333.6,26.6 333.8,26.6 333.8,187.1 333.8,187.1 333.8,25 333.6,25 333.5,24.7 333,21.2 332.7,20.3 332.3,20.2 328.7,20.2" fill="#00506b"/>
<polygon points="328,20.2 331.9,20.2 332.2,20.2 332.4,20.3 332.6,20.7 332.8,21.5 333.5,27.5 333.6,28.1 333.8,28.3 333.8,187.1 333.8,187.1 333.8,26.6 333.6,26.6 333.5,26.1 332.9,21.6 332.6,20.4 332.4,20.2 332.2,20.2 328.3,20.2" fill="#005667"/>
<polygon points="327.6,20.2 331.7,20.2 332.1,20.2 332.3,20.4 332.5,20.9 332.7,21.9 333.6,29.6 333.7,29.9 333.8,29.9 333.8,187.1 333.8,187.1 333.8,28.3 333.6,28.1 333.5,27.5 332.8,21.5 332.6,20.7 332.4,20.3 332.2,20.2 331.9,20.2 328,20.2" fill="#005b63"/>
<polygon points="327.2,20.2 331.6,20.2 332,20.3 332.2,20.5 332.4,21.1 332.6,22.3 333.6,31.2 333.7,31.5 333.8,31.5 333.8,187.1 333.8,187.1 333.8,29.9 333.7,29.9 333.6,29.6 332.7,21.9 332.5,20.9 332.3,20.4 332.1,20.2 331.7,20.2 327.6,20.2" fill="#00615f"/>
<polygon points="326.9,20.2 331.5,20.2 331.9,20.3 332.1,20.6 332.5,21.9 332.7,23.6 333.6,32.7 333.7,33.1 333.8,33.1 333.8,187.1 333.8,187.1 333.8,31.5 333.7,31.5 333.6,31.2 332.6,22.3 332.4,21.1 332.2,20.5 332,20.3 331.6,20.2 327.2,20.2" fill="#00675b"/>
<polygon points="326.5,20.2 331.4,20.2 331.8,20.3 332.1,20.7 332.3,21.5 332.6,24.1 333.5,34.1 333.7,34.7 333.8,34.7 333.8,187.1 333.8,187.1 333.8,33.1 333.7,33.1 333.6,32.7 332.7,23.6 332.5,21.9 332.1,20.6 331.9,20.3 331.5,20.2 326.9,20.2" fill="#006d58"/>
<polygon points="326.1,20.2 331.1,20.2 331.6,20.3 331.9,20.5 332.2,21.8 332.4,23.5 333.5,35.6 333.6,36.3 333.8,36.4 333.8,187.1 333.8,187.1 333.8,34.7 333.7,34.7 333.5,34.1 332.6,24.1 332.3,21.5 332.1,20.7 331.8,20.3 331.4,20.2 326.5,20.2" fill="#007254"/>
<polygon points="325.8,20.2 331,20.2 331.5,20.3 331.8,20.6 332,21.4 332.3,22.9 333.5,37.1 333.6,37.8 333.8,38 333.8,187.1 333.8,187.1 333.8,36.4 333.6,36.3 333.5,35.6 332.4,23.5 332.2,21.8 331.9,20.5 331.6,20.3 331.1,20.2 326.1,20.2" fill="#007850"/>
<polygon points="325.4,20.2 330.9,20.2 331.4,20.3 331.7,20.7 331.9,21.6 332.2,23.3 333.5,38.6 333.6,39.4 333.8,39.6 333.8,187.1 333.8,187.1 333.8,38 333.6,37.8 333.5,37.1 332.3,22.9 332,21.4 331.8,20.6 331.5,20.3 331,20.2 325.8,20.2" fill="#037d4c"/>
<polygon points="325,20.2 330.7,20.2 331.3,20.4 331.6,20.8 331.8,21.8 332.1,23.6 333.5,40 333.6,41 333.8,41.2 333.8,187.1 333.8,187.1 333.8,39.6 333.6,39.4 333.5,38.6 332.2,23.3 331.9,21.6 331.7,20.7 331.4,20.3 330.9,20.2 325.4,20.2" fill="#058248"/>
<polygon points="324.6,20.2 330.6,20.2 331.2,20.4 331.5,20.9 331.8,22 332,24 333.5,41.5 333.6,42.6 333.8,42.8 333.8,187.1 333.8,187.1 333.8,41.2 333.6,41 333.5,40 332.1,23.6 331.8,21.8 331.6,20.8 331.3,20.4 330.7,20.2 325,20.2" fill="#088745"/>
<polygon points="324.3,20.2 330.5,20.2 331.1,20.5 331.4,21 331.7,22.2 332,24.3 333.4,42.9 333.6,44.1 333.8,44.5 333.8,187.1 333.8,187.1 333.8,42.8 333.6,42.6 333.5,41.5 332,24 331.8,22 331.5,20.9 331.2,20.4 330.6,20.2 324.6,20.2" fill="#0a8c41"/>
<polygon points="323.9,20.2 330.4,20.2 330.7,20.3 331,20.5 331.3,21.1 331.6,22.4 331.9,24.7 333.4,44.4 333.6,45.7 333.8,46.1 333.8,187.1 333.8,187.1 333.8,44.5 333.6,44.1 333.4,42.9 332,24.3 331.7,22.2 331.4,21 331.1,20.5 330.5,20.2 324.3,20.2" fill="#0d913d"/>
<polygon points="323.5,20.2 330.2,20.2 330.5,20.3 330.9,20.6 331.2,21.2 331.5,22.6 331.8,25.1 333.4,45.8 333.6,47.3 333.8,47.7 333.8,187.1 333.8,187.1 333.8,46.1 333.6,45.7 333.4,44.4 331.9,24.7 331.6,22.4 331.3,21.1 331,20.5 330.7,20.3 330.4,20.2 323.9,20.2" fill="#0f9639"/>
<polygon points="323.2,20.2 329.9,20.2 330.6,20.4 330.9,20.9 331.1,21.3 331.4,22.8 331.7,25.5 333.4,47.2 333.6,48.8 333.8,49.3 333.8,187.1 333.8,187.1 333.8,47.7 333.6,47.3 333.4,45.8 331.8,25.1 331.5,22.6 331.2,21.2 330.9,20.6 330.5,20.3 330.2,20.2 323.5,20.2" fill="#129c35"/>
<polygon points="322.8,20.2 329.8,20.2 330.5,20.5 330.8,21 331,21.4 331.3,23 331.7,25.9 333.4,48.7 333.6,50.4 333.8,51 333.8,187.1 333.8,187.1 333.8,49.3 333.6,48.8 333.4,47.2 331.7,25.5 331.4,22.8 331.1,21.3 330.9,20.9 330.6,20.4 329.9,20.2 323.2,20.2" fill="#14a032"/>
<polygon points="322.4,20.2 329.7,20.2 330,20.3 330.4,20.5 330.7,21 330.9,21.5 331.3,23.3 331.6,26.3 332.1,32.7 333.4,50.3 333.5,52.2 333.8,52.8 333.8,187.1 333.8,187.1 333.8,51 333.6,50.4 333.4,48.7 331.7,25.9 331.3,23 331,21.4 330.8,21 330.5,20.5 329.8,20.2 322.8,20.2" fill="#15a131"/>
<polygon points="322.1,20.2 329.3,20.2 330.1,20.4 330.4,20.8 330.6,21.1 331,22.4 331.2,23.5 331.5,26.7 332.1,33.4 333.4,51.9 333.5,53.9 333.8,54.6 333.8,187.1 333.8,187.1 333.8,52.8 333.5,52.2 333.4,50.3 332.1,32.7 331.6,26.3 331.3,23.3 330.9,21.5 330.7,21 330.4,20.5 330,20.3 329.7,20.2 322.4,20.2" fill="#16a231"/>
<polygon points="321.7,20.2 329.2,20.2 330,20.4 330.3,20.8 330.5,21.2 330.9,22.6 331.1,23.8 331.5,27.1 332,34.2 333.3,53.5 333.5,55.6 333.8,56.4 333.8,187.1 333.8,187.1 333.8,54.6 333.5,53.9 333.4,51.9 332.1,33.4 331.5,26.7 331.2,23.5 331,22.4 330.6,21.1 330.4,20.8 330.1,20.4 329.3,20.2 322.1,20.2" fill="#17a330"/>
<polygon points="321.3,20.2 329.1,20.2 329.8,20.4 330.2,20.9 330.4,21.3 330.8,22.8 331,24 331.4,27.6 332,34.9 333.3,55.1 333.5,57.3 333.8,58.2 333.8,187.1 333.8,187.1 333.8,56.4 333.5,55.6 333.3,53.5 332,34.2 331.5,27.1 331.1,23.8 330.9,22.6 330.5,21.2 330.3,20.8 330,20.4 329.2,20.2 321.7,20.2" fill="#18a430"/>
<polygon points="321,20.2 328.7,20.2 329.5,20.3 329.9,20.6 330.3,21.4 330.5,22 330.9,24.3 331.7,32.9 333.3,56.7 333.5,59 333.8,60 333.8,187.1 333.8,187.1 333.8,58.2 333.5,57.3 333.3,55.1 332,34.9 331.4,27.6 331,24 330.8,22.8 330.4,21.3 330.2,20.9 329.8,20.4 329.1,20.2 321.3,20.2" fill="#1aa52f"/>
<polygon points="320.6,20.2 328.6,20.2 329.4,20.4 329.8,20.7 330.2,21.5 330.6,23.2 331,26.3 331.4,30.9 333.3,58.3 333.5,60.7 333.8,61.8 333.8,187.1 333.8,187.1 333.8,60 333.5,59 333.3,56.7 331.7,32.9 330.9,24.3 330.5,22 330.3,21.4 329.9,20.6 329.5,20.3 328.7,20.2 321,20.2" fill="#1ba62f"/>
<polygon points="320.2,20.2 328.2,20.2 329.1,20.3 329.5,20.5 329.9,21.1 330.1,21.6 330.5,23.4 331,26.6 331.4,31.4 333.3,59.9 333.5,62.4 333.8,63.6 333.8,187.1 333.8,187.1 333.8,61.8 333.5,60.7 333.3,58.3 331.4,30.9 331,26.3 330.6,23.2 330.2,21.5 329.8,20.7 329.4,20.4 328.6,20.2 320.6,20.2" fill="#1ca72e"/>
<polygon points="319.8,20.2 328.1,20.2 328.9,20.3 329.4,20.5 329.8,21.1 330.2,22.4 330.7,25.1 331.1,29.3 331.7,37.9 333.3,61.5 333.5,64.1 333.8,65.4 333.8,187.1 333.8,187.1 333.8,63.6 333.5,62.4 333.3,59.9 331.4,31.4 331,26.6 330.5,23.4 330.1,21.6 329.9,21.1 329.5,20.5 329.1,20.3 328.2,20.2 320.2,20.2" fill="#1da82e"/>
<polygon points="319.5,20.2 327.9,20.2 328.8,20.3 329.2,20.6 329.7,21.2 330.1,22.6 330.6,25.3 331,29.7 331.7,38.7 333.2,63 333.5,65.8 333.7,67 333.8,67.2 333.8,187.1 333.8,187.1 333.8,65.4 333.5,64.1 333.3,61.5 331.7,37.9 331.1,29.3 330.7,25.1 330.2,22.4 329.8,21.1 329.4,20.5 328.9,20.3 328.1,20.2 319.8,20.2" fill="#1ea92d"/>
<polygon points="319.1,20.2 327.8,20.2 328.7,20.3 329.1,20.6 329.6,21.2 330,22.7 330.5,25.6 331,30.1 331.6,39.4 333.2,64.6 333.5,67.5 333.7,68.8 333.8,69 333.8,187.1 333.8,187.1 333.8,67.2 333.7,67 333.5,65.8 333.2,63 331.7,38.7 331,29.7 330.6,25.3 330.1,22.6 329.7,21.2 329.2,20.6 328.8,20.3 327.9,20.2 319.5,20.2" fill="#1faa2c"/>
<polygon points="318.7,20.2 327.6,20.2 328.5,20.3 329,20.6 329.5,21.3 329.9,22.9 330.4,25.8 330.9,30.6 331.6,40.2 333.2,66.2 333.4,69.2 333.7,70.6 333.8,70.8 333.8,187.1 333.8,187.1 333.8,69 333.7,68.8 333.5,67.5 333.2,64.6 331.6,39.4 331,30.1 330.5,25.6 330,22.7 329.6,21.2 329.1,20.6 328.7,20.3 327.8,20.2 319.1,20.2" fill="#20ab2c"/>
<polygon points="318.4,20.2 327.2,20.2 328.2,20.3 328.7,20.5 329.1,20.9 329.4,21.4 329.8,23 330.3,26.1 330.6,28.3 331.5,40.9 333.2,67.8 333.4,70.9 333.7,72.4 333.8,72.6 333.8,187.1 333.8,187.1 333.8,70.8 333.7,70.6 333.4,69.2 333.2,66.2 331.6,40.2 330.9,30.6 330.4,25.8 329.9,22.9 329.5,21.3 329,20.6 328.5,20.3 327.6,20.2 318.7,20.2" fill="#21ac2b"/>
<polygon points="318,20.2 327.1,20.2 328,20.3 328.5,20.5 329,21 329.3,21.4 329.8,23.1 330.2,26.4 330.5,28.7 331.5,41.7 333.2,69.4 333.4,72.6 333.7,74.1 333.8,74.3 333.8,187.1 333.8,187.1 333.8,72.6 333.7,72.4 333.4,70.9 333.2,67.8 331.5,40.9 330.6,28.3 330.3,26.1 329.8,23 329.4,21.4 329.1,20.9 328.7,20.5 328.2,20.3 327.2,20.2 318.4,20.2" fill="#22ad2b"/>
<polygon points="317.6,20.2 326.9,20.2 327.9,20.3 328.4,20.5 328.9,21 329.2,21.5 329.7,23.3 330.2,26.6 330.4,29 331.4,42.4 333.2,70.9 333.4,74.3 333.7,75.9 333.8,76.1 333.8,187.1 333.8,187.1 333.8,74.3 333.7,74.1 333.4,72.6 333.2,69.4 331.5,41.7 330.5,28.7 330.2,26.4 329.8,23.1 329.3,21.4 329,21 328.5,20.5 328,20.3 327.1,20.2 318,20.2" fill="#23ae2a"/>
<polygon points="317.3,20.2 326.7,20.2 327.8,20.3 328.3,20.5 328.8,21.1 329.1,21.6 329.6,23.4 330.1,26.9 330.3,29.4 331.4,43.2 333.2,72.5 333.4,76 333.7,77.7 333.8,77.9 333.8,187.1 333.8,187.1 333.8,76.1 333.7,75.9 333.4,74.3 333.2,70.9 331.4,42.4 330.4,29 330.2,26.6 329.7,23.3 329.2,21.5 328.9,21 328.4,20.5 327.9,20.3 326.9,20.2 317.6,20.2" fill="#24af2a"/>
<polygon points="316.9,20.2 326.3,20.2 327.4,20.2 328.2,20.5 328.7,21.1 328.9,21.7 329.5,23.6 330,27.2 330.3,29.7 331.3,43.9 333.1,74.1 333.4,77.7 333.7,79.5 333.8,79.7 333.8,187.1 333.8,187.1 333.8,77.9 333.7,77.7 333.4,76 333.2,72.5 331.4,43.2 330.3,29.4 330.1,26.9 329.6,23.4 329.1,21.6 328.8,21.1 328.3,20.5 327.8,20.3 326.7,20.2 317.3,20.2" fill="#26b029"/>
<polygon points="316.4,20.2 326.1,20.2 327.2,20.3 327.7,20.4 328.3,20.8 328.5,21.2 329.1,22.6 329.6,25.3 329.9,27.5 330.4,33.2 331,40.6 333.4,79.4 333.7,81.2 333.8,81.5 333.8,187.1 333.8,187.1 333.8,79.7 333.7,79.5 333.4,77.7 333.1,74.1 331.3,43.9 330.3,29.7 330,27.2 329.5,23.6 328.9,21.7 328.7,21.1 328.2,20.5 327.4,20.2 326.3,20.2 316.9,20.2" fill="#27b129"/>
<polygon points="315.9,20.2 325.9,20.2 327,20.3 327.5,20.4 328.1,20.8 328.4,21.2 328.9,22.7 329.5,25.6 329.8,27.8 330.3,33.7 330.9,41.3 333.4,81.1 333.7,83 333.8,83.3 333.8,187.1 333.8,187.1 333.8,81.5 333.7,81.2 333.4,79.4 331,40.6 330.4,33.2 329.9,27.5 329.6,25.3 329.1,22.6 328.5,21.2 328.3,20.8 327.7,20.4 327.2,20.3 326.1,20.2 316.4,20.2" fill="#28b228"/>
<polygon points="315.3,20.2 325.6,20.2 326.8,20.3 327.4,20.4 327.9,20.9 328.2,21.3 328.8,22.8 329.4,25.7 329.6,28 330.2,34 330.8,41.7 333.4,82.1 333.6,84.1 333.8,84.4 333.8,187.1 333.8,187.1 333.8,83.3 333.7,83 333.4,81.1 330.9,41.3 330.3,33.7 329.8,27.8 329.5,25.6 328.9,22.7 328.4,21.2 328.1,20.8 327.5,20.4 327,20.3 325.9,20.2 315.9,20.2" fill="#2bb327"/>
<polygon points="314.8,20.2 325.1,20.2 326.3,20.2 327.2,20.5 327.8,20.9 328.1,21.3 328.6,22.8 329.2,25.9 329.5,28.2 330.1,34.3 330.7,42.1 333.3,83.1 333.6,85.2 333.8,85.5 333.8,187.1 333.8,187.1 333.8,84.4 333.6,84.1 333.4,82.1 330.8,41.7 330.2,34 329.6,28 329.4,25.7 328.8,22.8 328.2,21.3 327.9,20.9 327.4,20.4 326.8,20.3 325.6,20.2 315.3,20.2" fill="#2fb526"/>
<polygon points="314.3,20.2 324.9,20.2 326.1,20.2 327,20.5 327.6,20.9 327.9,21.4 328.5,22.9 329.1,26 329.4,28.4 330,34.6 330.6,42.5 333.3,84.1 333.6,86.2 333.8,86.6 333.8,187.1 333.8,187.1 333.8,85.5 333.6,85.2 333.3,83.1 330.7,42.1 330.1,34.3 329.5,28.2 329.2,25.9 328.6,22.8 328.1,21.3 327.8,20.9 327.2,20.5 326.3,20.2 325.1,20.2 314.8,20.2" fill="#32b725"/>
<polygon points="313.8,20.2 324.7,20.2 325.9,20.2 326.8,20.5 327.4,21 327.7,21.4 328.4,23 329,26.2 329.3,28.6 329.9,34.9 330.5,42.9 333.3,85.1 333.6,87.3 333.8,87.7 333.8,187.1 333.8,187.1 333.8,86.6 333.6,86.2 333.3,84.1 330.6,42.5 330,34.6 329.4,28.4 329.1,26 328.5,22.9 327.9,21.4 327.6,20.9 327,20.5 326.1,20.2 324.9,20.2 314.3,20.2" fill="#36b823"/>
<polygon points="313.3,20.2 324.4,20.2 325.7,20.2 326.6,20.5 327.3,21 327.6,21.4 328.2,23.1 328.9,26.3 329.2,28.8 329.8,35.2 330.5,43.3 333.3,86.1 333.6,88.4 333.8,88.8 333.8,187.1 333.8,187.1 333.8,87.7 333.6,87.3 333.3,85.1 330.5,42.9 329.9,34.9 329.3,28.6 329,26.2 328.4,23 327.7,21.4 327.4,21 326.8,20.5 325.9,20.2 324.7,20.2 313.8,20.2" fill="#3aba22"/>
<polygon points="312.8,20.2 324.2,20.2 325.5,20.2 326.5,20.5 327.1,21 327.4,21.5 328.1,23.2 328.7,26.5 329.1,29 329.7,35.5 330.4,43.7 333.3,87.1 333.6,89.4 333.8,89.8 333.8,187.1 333.8,187.1 333.8,88.8 333.6,88.4 333.3,86.1 330.5,43.3 329.8,35.2 329.2,28.8 328.9,26.3 328.2,23.1 327.6,21.4 327.3,21 326.6,20.5 325.7,20.2 324.4,20.2 313.3,20.2" fill="#3ebb21"/>
<polygon points="312.3,20.2 323.9,20.2 325.3,20.2 326.3,20.5 327,21 327.3,21.5 328,23.2 328.6,26.6 329,29.1 329.6,35.8 330.3,44.1 333.3,88.1 333.6,90.5 333.8,90.9 333.8,187.1 333.8,187.1 333.8,89.8 333.6,89.4 333.3,87.1 330.4,43.7 329.7,35.5 329.1,29 328.7,26.5 328.1,23.2 327.4,21.5 327.1,21 326.5,20.5 325.5,20.2 324.2,20.2 312.8,20.2" fill="#42bd1f"/>
<polygon points="311.8,20.2 323.7,20.2 325.1,20.2 326.1,20.5 326.8,21.1 327.1,21.5 327.8,23.3 328.5,26.8 328.8,29.3 329.5,36.1 330.2,44.5 333.3,89 333.6,91.5 333.8,92 333.8,187.1 333.8,187.1 333.8,90.9 333.6,90.5 333.3,88.1 330.3,44.1 329.6,35.8 329,29.1 328.6,26.6 328,23.2 327.3,21.5 327,21 326.3,20.5 325.3,20.2 323.9,20.2 312.3,20.2" fill="#45bf1e"/>
<polygon points="311.3,20.2 323.1,20.2 324.5,20.2 325.6,20.4 326.3,20.8 326.6,21.1 327.3,22.3 328,24.9 328.4,26.9 329.1,32.7 329.8,40.5 330.8,54.6 332.9,85.5 333.3,90 333.6,92.6 333.8,93.1 333.8,187.1 333.8,187.1 333.8,92 333.6,91.5 333.3,89 330.2,44.5 329.5,36.1 328.8,29.3 328.5,26.8 327.8,23.3 327.1,21.5 326.8,21.1 326.1,20.5 325.1,20.2 323.7,20.2 311.8,20.2" fill="#49c01d"/>
<polygon points="310.7,20.2 322.9,20.2 324.3,20.2 325.4,20.4 326.1,20.8 326.5,21.1 326.8,21.6 327.2,22.4 327.9,25 328.3,27.1 329,32.9 329.7,40.8 330.8,55.1 332.9,86.4 333.3,91 333.6,93.7 333.8,94.2 333.8,187.1 333.8,187.1 333.8,93.1 333.6,92.6 333.3,90 332.9,85.5 330.8,54.6 329.8,40.5 329.1,32.7 328.4,26.9 328,24.9 327.3,22.3 326.6,21.1 326.3,20.8 325.6,20.4 324.5,20.2 323.1,20.2 311.3,20.2" fill="#4dc21c"/>
<polygon points="310.2,20.2 322.7,20.2 324.1,20.2 325.2,20.4 325.9,20.8 326.3,21.1 326.7,21.7 327,22.4 327.8,25.1 328.1,27.2 328.9,33.1 329.6,41.2 333.2,92 333.6,94.7 333.8,95.2 333.8,187.1 333.8,187.1 333.8,94.2 333.6,93.7 333.3,91 332.9,86.4 330.8,55.1 329.7,40.8 329,32.9 328.3,27.1 327.9,25 327.2,22.4 326.8,21.6 326.5,21.1 326.1,20.8 325.4,20.4 324.3,20.2 322.9,20.2 310.7,20.2" fill="#51c41a"/>
<polygon points="309.9,20.2 322.4,20.2 323.9,20.2 325,20.4 325.8,20.8 326.2,21.2 326.5,21.7 326.9,22.5 327.6,25.2 328,27.3 328.7,33.4 329.9,46.1 333.2,93 333.6,95.8 333.8,96.4 333.8,187.1 333.8,187.1 333.8,95.2 333.6,94.7 333.2,92 329.6,41.2 328.9,33.1 328.1,27.2 327.8,25.1 327,22.4 326.7,21.7 326.3,21.1 325.9,20.8 325.2,20.4 324.1,20.2 322.7,20.2 310.2,20.2" fill="#55c519"/>
<polygon points="309.5,20.2 322.2,20.2 323.7,20.2 324.9,20.4 325.6,20.8 326,21.2 326.4,21.7 326.8,22.5 327.5,25.3 327.9,27.5 328.6,33.6 329.8,46.5 333.1,94 333.5,96.8 333.8,97.5 333.8,187.1 333.8,187.1 333.8,96.4 333.6,95.8 333.2,93 329.9,46.1 328.7,33.4 328,27.3 327.6,25.2 326.9,22.5 326.5,21.7 326.2,21.2 325.8,20.8 325,20.4 323.9,20.2 322.4,20.2 309.9,20.2" fill="#58c718"/>
<polygon points="309.1,20.2 322,20.2 323.6,20.2 324.7,20.4 325.5,20.8 325.9,21.2 326.2,21.8 326.6,22.6 327,23.8 327.4,25.4 327.8,27.6 328.5,33.8 329.7,46.9 333.1,95 333.5,97.9 333.8,98.7 333.8,187.1 333.8,187.1 333.8,97.5 333.5,96.8 333.1,94 329.8,46.5 328.6,33.6 327.9,27.5 327.5,25.3 326.8,22.5 326.4,21.7 326,21.2 325.6,20.8 324.9,20.4 323.7,20.2 322.2,20.2 309.5,20.2" fill="#5cc917"/>
<polygon points="308.7,20.2 321.8,20.2 323.4,20.2 324.5,20.4 325.3,20.9 325.7,21.2 326.1,21.8 326.5,22.6 326.9,23.8 327.2,25.5 327.6,27.7 328.4,34 329.6,47.3 333,96 333.4,99 333.8,99.8 333.8,187.1 333.8,187.1 333.8,98.7 333.5,97.9 333.1,95 329.7,46.9 328.5,33.8 327.8,27.6 327.4,25.4 327,23.8 326.6,22.6 326.2,21.8 325.9,21.2 325.5,20.8 324.7,20.4 323.6,20.2 322,20.2 309.1,20.2" fill="#60ca15"/>
<polygon points="308.3,20.2 321.6,20.2 323.2,20.2 324.4,20.4 325.2,20.9 325.5,21.2 325.9,21.8 326.3,22.7 326.7,23.9 327.1,25.6 327.5,27.8 328.3,34.2 329.5,47.6 333,97 333.4,100 333.6,100.7 333.8,100.9 333.8,187.1 333.8,187.1 333.8,99.8 333.4,99 333,96 329.6,47.3 328.4,34 327.6,27.7 327.2,25.5 326.9,23.8 326.5,22.6 326.1,21.8 325.7,21.2 325.3,20.9 324.5,20.4 323.4,20.2 321.8,20.2 308.7,20.2" fill="#64cc14"/>
<polygon points="307.9,20.2 321.4,20.2 323,20.2 324.2,20.5 325,20.9 325.4,21.3 325.8,21.9 326.2,22.7 326.6,24 327,25.7 327.4,28 328.2,34.4 329.4,48 332.9,98.1 333.3,101.1 333.6,101.8 333.8,102.1 333.8,187.1 333.8,187.1 333.8,100.9 333.6,100.7 333.4,100 333,97 329.5,47.6 328.3,34.2 327.5,27.8 327.1,25.6 326.7,23.9 326.3,22.7 325.9,21.8 325.5,21.2 325.2,20.9 324.4,20.4 323.2,20.2 321.6,20.2 308.3,20.2" fill="#6ecf12"/>
<polygon points="307.5,20.2 321.2,20.2 322.8,20.2 324,20.5 324.8,20.9 325.2,21.3 325.7,21.9 326.1,22.8 326.5,24 326.9,25.8 327.3,28.1 328.1,34.6 329.3,48.4 332.9,99.1 333.3,102.2 333.5,102.9 333.8,103.3 333.8,187.1 333.8,187.1 333.8,102.1 333.6,101.8 333.3,101.1 332.9,98.1 329.4,48 328.2,34.4 327.4,28 327,25.7 326.6,24 326.2,22.7 325.8,21.9 325.4,21.3 325,20.9 324.2,20.5 323,20.2 321.4,20.2 307.9,20.2" fill="#79d20f"/>
<polygon points="307.2,20.2 321,20.2 322.7,20.2 323.9,20.5 324.7,20.9 325.1,21.3 325.5,21.9 325.9,22.8 326.3,24.1 326.7,25.9 327.1,28.2 328,34.9 329.2,48.8 332.8,100.2 333.3,103.3 333.5,104 333.8,104.4 333.8,187.1 333.8,187.1 333.8,103.3 333.5,102.9 333.3,102.2 332.9,99.1 329.3,48.4 328.1,34.6 327.3,28.1 326.9,25.8 326.5,24 326.1,22.8 325.7,21.9 325.2,21.3 324.8,20.9 324,20.5 322.8,20.2 321.2,20.2 307.5,20.2" fill="#83d60d"/>
<polygon points="306.8,20.2 320.8,20.2 322.5,20.2 323.7,20.5 324.5,20.9 325,21.3 325.4,22 325.8,22.9 326.2,24.2 326.6,26 327,28.3 327.8,35.1 329.1,49.2 332.8,101.2 333.2,104.4 333.4,105.1 333.8,105.6 333.8,187.1 333.8,187.1 333.8,104.4 333.5,104 333.3,103.3 332.8,100.2 329.2,48.8 328,34.9 327.1,28.2 326.7,25.9 326.3,24.1 325.9,22.8 325.5,21.9 325.1,21.3 324.7,20.9 323.9,20.5 322.7,20.2 321,20.2 307.2,20.2" fill="#8ed90b"/>
<polygon points="306.7,20.2 320.7,20.2 322.4,20.2 323.6,20.5 324.4,20.9 324.8,21.4 325.2,22 325.6,22.9 326.1,24.2 326.5,26 326.9,28.5 327.7,35.2 328.9,49.5 332.7,102.2 333.1,105.5 333.3,106.2 333.5,106.6 333.8,106.8 333.8,187.1 333.8,187.1 333.8,105.6 333.4,105.1 333.2,104.4 332.8,101.2 329.1,49.2 327.8,35.1 327,28.3 326.6,26 326.2,24.2 325.8,22.9 325.4,22 325,21.3 324.5,20.9 323.7,20.5 322.5,20.2 320.8,20.2 306.8,20.2" fill="#98dc08"/>
<polygon points="306.5,20.2 320.6,20.2 322.2,20.2 323.5,20.5 324.3,20.9 324.7,21.4 325.1,22 325.5,22.9 325.9,24.3 326.3,26.1 326.8,28.6 327.6,35.4 328.8,49.9 332.5,103.3 332.9,106.6 333.2,107.3 333.4,107.7 333.8,107.9 333.8,187.1 333.8,187.1 333.8,106.8 333.5,106.6 333.3,106.2 333.1,105.5 332.7,102.2 328.9,49.5 327.7,35.2 326.9,28.5 326.5,26 326.1,24.2 325.6,22.9 325.2,22 324.8,21.4 324.4,20.9 323.6,20.5 322.4,20.2 320.7,20.2 306.7,20.2" fill="#a3e006"/>
<polygon points="306.4,20.2 320.4,20.2 322.1,20.2 323.3,20.5 324.2,21 324.6,21.4 325,22 325.4,23 325.8,24.3 326.2,26.2 326.6,28.7 327.5,35.6 328.7,50.3 332.4,104.3 332.8,107.7 333.1,108.4 333.3,108.7 333.8,109.1 333.8,187.1 333.8,187.1 333.8,107.9 333.4,107.7 333.2,107.3 332.9,106.6 332.5,103.3 328.8,49.9 327.6,35.4 326.8,28.6 326.3,26.1 325.9,24.3 325.5,22.9 325.1,22 324.7,21.4 324.3,20.9 323.5,20.5 322.2,20.2 320.6,20.2 306.5,20.2" fill="#ade304"/>
<polygon points="306.2,20.2 319.9,20.2 321.5,20.2 322.8,20.4 323.6,20.8 324,21.1 324.4,21.6 324.9,22.3 325.3,23.3 325.7,24.7 326.1,26.6 326.9,32.3 328.2,45.5 329.4,62.3 332.3,105.3 332.7,108.7 332.9,109.5 333.2,109.8 333.8,110.2 333.8,187.1 333.8,187.1 333.8,109.1 333.3,108.7 333.1,108.4 332.8,107.7 332.4,104.3 328.7,50.3 327.5,35.6 326.6,28.7 326.2,26.2 325.8,24.3 325.4,23 325,22 324.6,21.4 324.2,21 323.3,20.5 322.1,20.2 320.4,20.2 306.4,20.2" fill="#b8e601"/>
<polygon points="306.1,20.2 319.8,20.2 321.4,20.2 322.7,20.5 323.5,20.9 323.9,21.2 324.3,21.8 324.7,22.5 325.1,23.6 325.6,25.1 326,27.1 326.8,33 328,46.4 329.3,63.5 332.2,107.4 332.6,110.9 332.8,111.7 333.3,112.2 333.8,112.5 333.8,187.1 333.8,187.1 333.8,110.2 333.2,109.8 332.9,109.5 332.7,108.7 332.3,105.3 329.4,62.3 328.2,45.5 326.9,32.3 326.1,26.6 325.7,24.7 325.3,23.3 324.9,22.3 324.4,21.6 324,21.1 323.6,20.8 322.8,20.4 321.5,20.2 319.9,20.2 306.2,20.2" fill="#c2e900"/>
<polygon points="305.9,20.2 319.6,20.2 321.3,20.3 322.5,20.5 323.4,21 323.8,21.4 324.2,22 324.6,22.8 325,23.9 325.4,25.5 325.8,27.6 326.7,33.6 327.9,47.2 329.2,64.6 332.1,109.5 332.5,113.1 332.7,113.9 333.2,114.4 333.8,114.8 333.8,187.1 333.8,187.1 333.8,112.5 333.3,112.2 332.8,111.7 332.6,110.9 332.2,107.4 329.3,63.5 328,46.4 326.8,33 326,27.1 325.6,25.1 325.1,23.6 324.7,22.5 324.3,21.8 323.9,21.2 323.5,20.9 322.7,20.5 321.4,20.2 319.8,20.2 306.1,20.2" fill="#cbec00"/>
<polygon points="305.8,20.2 319.5,20.2 321.1,20.3 322.4,20.6 323.2,21.1 323.6,21.6 324.1,22.2 324.5,23.1 325.3,26 325.7,28.2 326.5,34.3 327.8,48.2 329,65.8 331.9,111.6 332.4,115.3 332.6,116.1 333,116.7 333.8,117.1 333.8,187.1 333.8,187.1 333.8,114.8 333.2,114.4 332.7,113.9 332.5,113.1 332.1,109.5 329.2,64.6 327.9,47.2 326.7,33.6 325.8,27.6 325.4,25.5 325,23.9 324.6,22.8 324.2,22 323.8,21.4 323.4,21 322.5,20.5 321.3,20.3 319.6,20.2 305.9,20.2" fill="#d4ef00"/>
<polygon points="305.6,20.2 319.3,20.2 321,20.3 322.3,20.7 323.1,21.3 323.5,21.8 323.9,22.5 324.3,23.4 325.2,26.5 325.6,28.7 326,31.6 326.8,39.2 328.1,54.7 331.8,113.7 332.2,117.5 332.5,118.3 332.9,118.9 333.8,119.4 333.8,187.1 333.8,187.1 333.8,117.1 333,116.7 332.6,116.1 332.4,115.3 331.9,111.6 329,65.8 327.8,48.2 326.5,34.3 325.7,28.2 325.3,26 324.5,23.1 324.1,22.2 323.6,21.6 323.2,21.1 322.4,20.6 321.1,20.3 319.5,20.2 305.8,20.2" fill="#ddf200"/>
<polygon points="305.7,20.2 318.9,20.2 320.5,20.3 321.8,20.6 322.6,21.1 323,21.4 323.8,22.7 324.6,25.1 325.5,29.3 325.9,32.3 326.7,40 327.9,55.9 329.2,75 331.7,116.3 332.1,120.1 332.3,120.9 332.7,121.5 333.8,122.2 333.8,187.1 333.8,187.1 333.8,119.4 332.9,118.9 332.5,118.3 332.2,117.5 331.8,113.7 328.1,54.7 326.8,39.2 326,31.6 325.6,28.7 325.2,26.5 324.3,23.4 323.9,22.5 323.5,21.8 323.1,21.3 322.3,20.7 321,20.3 319.3,20.2 305.6,20.2" fill="#e7f600"/>
<polygon points="305.8,20.2 318.8,20.2 320.5,20.3 321.7,20.7 322.5,21.2 322.9,21.6 323.7,23 324.5,25.6 324.9,27.5 325.8,33 326.2,36.7 327.4,51.3 328.6,70 331.5,119.1 331.9,123 332.1,123.9 332.5,124.5 333.8,125.2 333.8,187.1 333.8,187.1 333.8,122.2 332.7,121.5 332.3,120.9 332.1,120.1 331.7,116.3 329.2,75 327.9,55.9 326.7,40 325.9,32.3 325.5,29.3 324.6,25.1 323.8,22.7 323,21.4 322.6,21.1 321.8,20.6 320.5,20.3 318.9,20.2 305.7,20.2" fill="#f0f900"/>
<polygon points="306,20.2 318,20.2 320,20.3 321.2,20.6 322,21 322.4,21.3 323.2,22.4 324,24.5 324.8,28 325.6,33.7 326,37.5 327.2,52.5 328.9,78.5 331.3,122 331.7,125.9 331.9,126.8 332.3,127.4 333.8,128.3 333.8,187.1 333.8,187.1 333.8,125.2 332.5,124.5 332.1,123.9 331.9,123 331.5,119.1 328.6,70 327.4,51.3 326.2,36.7 325.8,33 324.9,27.5 324.5,25.6 323.7,23 322.9,21.6 322.5,21.2 321.7,20.7 320.5,20.3 318.8,20.2 305.8,20.2" fill="#f5fa00"/>
<polygon points="306.1,20.2 318,20.2 320,20.3 321.2,20.7 322,21.1 322.4,21.5 323.1,22.7 323.9,24.9 324.7,28.6 325.5,34.5 325.9,38.4 327.1,53.7 328.7,80.3 331.1,124.8 331.5,128.8 331.7,129.7 332.1,130.3 333.8,131.3 333.8,187.1 333.8,187.1 333.8,128.3 332.3,127.4 331.9,126.8 331.7,125.9 331.3,122 328.9,78.5 327.2,52.5 326,37.5 325.6,33.7 324.8,28 324,24.5 323.2,22.4 322.4,21.3 322,21 321.2,20.6 320,20.3 318,20.2 306,20.2" fill="#f7f900"/>
<polygon points="306.3,20.2 318,20.2 319.9,20.4 321.1,20.7 321.9,21.3 322.3,21.7 323.1,23 323.8,25.3 324.6,29.2 325.4,35.3 325.8,39.3 327,54.9 328.5,82 330.9,127.6 331.3,131.7 331.5,132.6 331.9,133.2 333.8,134.4 333.8,187.1 333.8,187.1 333.8,131.3 332.1,130.3 331.7,129.7 331.5,128.8 331.1,124.8 328.7,80.3 327.1,53.7 325.9,38.4 325.5,34.5 324.7,28.6 323.9,24.9 323.1,22.7 322.4,21.5 322,21.1 321.2,20.7 320,20.3 318,20.2 306.1,20.2" fill="#f8f800"/>
<polygon points="306.4,20.2 318,20.2 319.9,20.4 321,20.8 321.8,21.4 322.2,21.9 323,23.3 323.7,25.7 324.5,29.8 325.3,36.1 325.7,40.2 326.8,56.1 328.4,83.8 330.7,130.5 331.1,134.6 331.3,135.5 331.7,136.2 333.8,137.5 333.8,187.1 333.8,187.1 333.8,134.4 331.9,133.2 331.5,132.6 331.3,131.7 330.9,127.6 328.5,82 327,54.9 325.8,39.3 325.4,35.3 324.6,29.2 323.8,25.3 323.1,23 322.3,21.7 321.9,21.3 321.1,20.7 319.9,20.4 318,20.2 306.3,20.2" fill="#faf700"/>
<polygon points="306.6,20.2 317.6,20.2 319.5,20.4 320.6,20.7 321.4,21.2 321.7,21.6 322.5,22.7 323.3,24.7 324,28.1 324.8,33.4 325.5,41.1 326.7,57.3 328.2,85.6 330.5,133.3 330.8,137.5 331.1,138.4 331.5,139.1 333.8,140.5 333.8,187.1 333.8,187.1 333.8,137.5 331.7,136.2 331.3,135.5 331.1,134.6 330.7,130.5 328.4,83.8 326.8,56.1 325.7,40.2 325.3,36.1 324.5,29.8 323.7,25.7 323,23.3 322.2,21.9 321.8,21.4 321,20.8 319.9,20.4 318,20.2 306.4,20.2" fill="#fcf600"/>
<polygon points="306.7,20.2 317.6,20.2 319.4,20.4 320.6,20.8 321.3,21.3 321.7,21.7 322.4,23 323.2,25.1 323.9,28.6 324.7,34.1 325.4,42 326.5,58.6 328,87.4 330.3,136.1 330.6,140.4 330.9,141.3 331.3,141.9 333.8,143.6 333.8,187.1 333.8,187.1 333.8,140.5 331.5,139.1 331.1,138.4 330.8,137.5 330.5,133.3 328.2,85.6 326.7,57.3 325.5,41.1 324.8,33.4 324,28.1 323.3,24.7 322.5,22.7 321.7,21.6 321.4,21.2 320.6,20.7 319.5,20.4 317.6,20.2 306.6,20.2" fill="#fdf500"/>
<polygon points="306.9,20.2 317.6,20.2 319.4,20.5 320.5,20.9 321.2,21.5 321.6,21.9 322.3,23.2 323.1,25.5 323.8,29.2 324.6,34.8 325.3,42.9 326.4,59.7 327.9,88.8 330.1,138.3 330.4,142.6 330.7,143.5 331.1,144.2 333.8,146 333.8,187.1 333.8,187.1 333.8,143.6 331.3,141.9 330.9,141.3 330.6,140.4 330.3,136.1 328,87.4 326.5,58.6 325.4,42 324.7,34.1 323.9,28.6 323.2,25.1 322.4,23 321.7,21.7 321.3,21.3 320.6,20.8 319.4,20.4 317.6,20.2 306.7,20.2" fill="#fff400"/>
<polygon points="307.1,20.2 317.6,20.2 319.4,20.5 320.5,21 321.2,21.6 321.5,22.1 322.3,23.5 323,25.8 323.7,29.6 324.4,35.4 325.2,43.5 326.2,60.4 327.7,89.8 329.9,139.7 330.2,143.9 330.4,144.9 330.9,145.5 333.8,147.5 333.8,187.1 333.8,187.1 333.8,146 331.1,144.2 330.7,143.5 330.4,142.6 330.1,138.3 327.9,88.8 326.4,59.7 325.3,42.9 324.6,34.8 323.8,29.2 323.1,25.5 322.3,23.2 321.6,21.9 321.2,21.5 320.5,20.9 319.4,20.5 317.6,20.2 306.9,20.2" fill="#ffef00"/>
<polygon points="307.3,20.2 317.2,20.2 319,20.4 320.1,20.8 320.8,21.3 321.1,21.7 321.8,22.9 322.2,23.7 322.9,26.2 323.6,30.1 324.3,36 325,44.2 326.1,61.2 327.5,90.8 329.3,133.5 329.6,141.1 330,145.3 330.2,146.2 330.7,146.8 333.8,149.1 333.8,187.1 333.8,187.1 333.8,147.5 330.9,145.5 330.4,144.9 330.2,143.9 329.9,139.7 327.7,89.8 326.2,60.4 325.2,43.5 324.4,35.4 323.7,29.6 323,25.8 322.3,23.5 321.5,22.1 321.2,21.6 320.5,21 319.4,20.5 317.6,20.2 307.1,20.2" fill="#ffea00"/>
<polygon points="307.5,20.2 316.9,20.2 318.6,20.4 319.7,20.7 320.7,21.5 321.4,22.4 321.8,23.1 322.5,25.1 323.2,28.3 323.9,33.3 324.6,40.4 325.6,55.7 327,83.8 329.4,142.4 329.8,146.6 330,147.5 330.5,148.2 333.8,150.6 333.8,187.1 333.8,187.1 333.8,149.1 330.7,146.8 330.2,146.2 330,145.3 329.6,141.1 329.3,133.5 327.5,90.8 326.1,61.2 325,44.2 324.3,36 323.6,30.1 322.9,26.2 322.2,23.7 321.8,22.9 321.1,21.7 320.8,21.3 320.1,20.8 319,20.4 317.2,20.2 307.3,20.2" fill="#ffe600"/>
<polygon points="307.7,20.2 316.9,20.2 318.6,20.4 319.6,20.8 320.7,21.6 321.4,22.6 321.7,23.3 322.4,25.4 323.1,28.8 323.8,33.8 324.4,41.1 325.5,56.5 326.8,84.7 329.2,143.8 329.6,147.9 329.8,148.8 330.2,149.5 333.8,152.1 333.8,187.1 333.8,187.1 333.8,150.6 330.5,148.2 330,147.5 329.8,146.6 329.4,142.4 327,83.8 325.6,55.7 324.6,40.4 323.9,33.3 323.2,28.3 322.5,25.1 321.8,23.1 321.4,22.4 320.7,21.5 319.7,20.7 318.6,20.4 316.9,20.2 307.5,20.2" fill="#ffe100"/>
<polygon points="307.9,20.2 316.9,20.2 318.6,20.5 319.6,20.9 320.6,21.7 321.3,22.8 321.6,23.5 322.3,25.7 323,29.2 323.6,34.4 324.3,41.7 325.3,57.3 326.7,85.6 329,145.1 329.4,149.2 329.6,150.1 330,150.8 333.8,153.7 333.8,187.1 333.8,187.1 333.8,152.1 330.2,149.5 329.8,148.8 329.6,147.9 329.2,143.8 326.8,84.7 325.5,56.5 324.4,41.1 323.8,33.8 323.1,28.8 322.4,25.4 321.7,23.3 321.4,22.6 320.7,21.6 319.6,20.8 318.6,20.4 316.9,20.2 307.7,20.2" fill="#ffdc00"/>
<polygon points="308.1,20.2 316.6,20.2 318.3,20.4 319.6,20.9 320.6,21.9 321.2,23 321.6,23.8 322.2,26.1 322.9,29.6 323.5,34.9 324.2,42.4 325.2,58.1 326.5,86.6 328.8,146.5 329.1,150.5 329.4,151.4 329.8,152.1 333.8,155.2 333.8,187.1 333.8,187.1 333.8,153.7 330,150.8 329.6,150.1 329.4,149.2 329,145.1 326.7,85.6 325.3,57.3 324.3,41.7 323.6,34.4 323,29.2 322.3,25.7 321.6,23.5 321.3,22.8 320.6,21.7 319.6,20.9 318.6,20.5 316.9,20.2 307.9,20.2" fill="#ffd700"/>
<polygon points="308.1,20.2 316.6,20.2 318.2,20.5 318.9,20.7 319.5,21 320.5,22 321.1,23.2 321.5,24 322.1,26.4 322.8,30 323.4,35.4 324.1,42.9 324.7,52.8 325.4,65 326.7,95.2 328.7,146.9 329,150.9 329.2,151.8 329.7,152.4 333.8,155.8 333.8,187.1 333.8,187.1 333.8,155.2 329.8,152.1 329.4,151.4 329.1,150.5 328.8,146.5 326.5,86.6 325.2,58.1 324.2,42.4 323.5,34.9 322.9,29.6 322.2,26.1 321.6,23.8 321.2,23 320.6,21.9 319.6,20.9 318.3,20.4 316.6,20.2 308.1,20.2" fill="#ffd200"/>
<polygon points="308.1,20.2 316.5,20.3 318.1,20.5 318.8,20.7 319.4,21.1 320.4,22.1 321,23.4 321.4,24.3 322,26.7 322.7,30.4 323.3,35.9 324,43.4 324.6,53.3 325.3,65.5 326.6,95.6 328.5,147.2 328.8,151.1 329.1,152 329.5,152.6 333.8,156.2 333.8,187.1 333.8,187.1 333.8,155.8 329.7,152.4 329.2,151.8 329,150.9 328.7,146.9 326.7,95.2 325.4,65 324.7,52.8 324.1,42.9 323.4,35.4 322.8,30 322.1,26.4 321.5,24 321.1,23.2 320.5,22 319.5,21 318.9,20.7 318.2,20.5 316.6,20.2 308.1,20.2" fill="#ffcd00"/>
<polygon points="308,20.2 313.8,20.2 316.4,20.3 318,20.5 318.7,20.8 319.3,21.2 320.3,22.3 320.9,23.6 321.3,24.5 321.9,27 322.6,30.8 323.2,36.3 323.8,43.9 324.5,53.8 325.1,66 326.4,96 328.4,147.5 328.7,151.4 328.9,152.3 329.1,152.6 333.8,156.6 333.8,187.1 333.8,187.1 333.8,156.2 329.5,152.6 329.1,152 328.8,151.1 328.5,147.2 326.6,95.6 325.3,65.5 324.6,53.3 324,43.4 323.3,35.9 322.7,30.4 322,26.7 321.4,24.3 321,23.4 320.4,22.1 319.4,21.1 318.8,20.7 318.1,20.5 316.5,20.3 308.1,20.2" fill="#ffc800"/>
<polygon points="308,20.2 316,20.3 317.6,20.5 318.9,21 319.9,22 320.5,23.1 320.8,23.8 321.5,25.9 322.1,29.1 322.8,33.8 323.4,40.4 324,49.1 324.7,60.1 326,88.3 328.2,147.8 328.5,151.6 328.7,152.5 329,152.8 333.8,157.1 333.8,187.1 333.8,187.1 333.8,156.6 329.1,152.6 328.9,152.3 328.7,151.4 328.4,147.5 326.4,96 325.1,66 324.5,53.8 323.8,43.9 323.2,36.3 322.6,30.8 321.9,27 321.3,24.5 320.9,23.6 320.3,22.3 319.3,21.2 318.7,20.8 318,20.5 316.4,20.3 313.8,20.2 308,20.2" fill="#ffc300"/>
<polygon points="308,20.2 313.4,20.2 316,20.3 317.6,20.5 318.2,20.8 318.8,21.1 319.8,22.1 320.4,23.2 320.7,24 321.4,26.2 322,29.5 322.6,34.2 323.3,40.9 323.9,49.6 324.6,60.7 325.8,88.7 328.1,148.1 328.4,151.8 328.6,152.7 328.8,153.1 333.8,157.5 333.8,187.1 333.8,187.1 333.8,157.1 329,152.8 328.7,152.5 328.5,151.6 328.2,147.8 326,88.3 324.7,60.1 324,49.1 323.4,40.4 322.8,33.8 322.1,29.1 321.5,25.9 320.8,23.8 320.5,23.1 319.9,22 318.9,21 317.6,20.5 316,20.3 308,20.2" fill="#ffbd00"/>
<polygon points="308,20.2 313.4,20.2 315.9,20.3 317.5,20.6 318.1,20.8 318.7,21.2 319.7,22.2 320.3,23.4 320.6,24.3 321.3,26.5 321.9,29.9 322.5,34.7 323.2,41.4 323.8,50.2 324.4,61.2 325.7,89.2 327.9,148.4 328.2,152 328.4,152.9 328.7,153.3 333.8,157.9 333.8,187.1 333.8,187.1 333.8,157.5 328.8,153.1 328.6,152.7 328.4,151.8 328.1,148.1 325.8,88.7 324.6,60.7 323.9,49.6 323.3,40.9 322.6,34.2 322,29.5 321.4,26.2 320.7,24 320.4,23.2 319.8,22.1 318.8,21.1 318.2,20.8 317.6,20.5 316,20.3 313.4,20.2 308,20.2" fill="#ffb800"/>
<polygon points="308,20.2 315.5,20.3 317.1,20.5 318.3,21.1 319.3,21.9 319.9,23 320.2,23.6 320.9,25.5 321.2,26.8 321.8,30.2 322.4,35.1 323.1,41.9 323.7,50.7 324.3,61.7 325.6,89.6 327.8,148.6 328.1,152.2 328.3,153.1 328.5,153.4 333.8,158.4 333.8,187.1 333.8,187.1 333.8,157.9 328.7,153.3 328.4,152.9 328.2,152 327.9,148.4 325.7,89.2 324.4,61.2 323.8,50.2 323.2,41.4 322.5,34.7 321.9,29.9 321.3,26.5 320.6,24.3 320.3,23.4 319.7,22.2 318.7,21.2 318.1,20.8 317.5,20.6 315.9,20.3 313.4,20.2 308,20.2" fill="#ffb300"/>
<polygon points="308,20.2 313,20.2 315.5,20.3 317,20.6 318.3,21.1 319.2,22.1 320.2,23.8 320.8,25.8 321.1,27.1 321.7,30.6 322.3,35.6 322.9,42.3 323.6,51.2 324.2,62.2 325.4,90 327.6,148.9 327.9,152.4 328.1,153.3 328.4,153.6 333.8,158.8 333.8,187.1 333.8,187.1 333.8,158.4 328.5,153.4 328.3,153.1 328.1,152.2 327.8,148.6 325.6,89.6 324.3,61.7 323.7,50.7 323.1,41.9 322.4,35.1 321.8,30.2 321.2,26.8 320.9,25.5 320.2,23.6 319.9,23 319.3,21.9 318.3,21.1 317.1,20.5 315.5,20.3 308,20.2" fill="#ffae00"/>
<polygon points="308.1,20.2 313,20.2 315.5,20.3 317,20.6 318.2,21.2 319.2,22.2 320.1,24 321,27.4 321.6,31 322.2,36 322.8,42.8 323.5,51.7 324.1,62.7 325.3,90.5 327.5,149.2 327.8,152.6 328,153.4 328.2,153.8 333.8,159.3 333.8,187.1 333.8,187.1 333.8,158.8 328.4,153.6 328.1,153.3 327.9,152.4 327.6,148.9 325.4,90 324.2,62.2 323.6,51.2 322.9,42.3 322.3,35.6 321.7,30.6 321.1,27.1 320.8,25.8 320.2,23.8 319.2,22.1 318.3,21.1 317,20.6 315.5,20.3 313,20.2 308,20.2" fill="#ffa900"/>
<polygon points="308.1,20.2 313,20.2 315.4,20.3 317,20.6 317.6,20.9 318.2,21.3 319.1,22.3 320,24.3 320.9,27.7 321.5,31.4 322.1,36.4 322.7,43.3 323.4,52.2 324,63.2 325.2,90.9 327.3,149.4 327.6,152.8 327.8,153.6 328.1,154 333.8,159.7 333.8,187.1 333.8,187.1 333.8,159.3 328.2,153.8 328,153.4 327.8,152.6 327.5,149.2 325.3,90.5 324.1,62.7 323.5,51.7 322.8,42.8 322.2,36 321.6,31 321,27.4 320.1,24 319.2,22.2 318.2,21.2 317,20.6 315.5,20.3 313,20.2 308.1,20.2" fill="#ffa400"/>
<polygon points="308.2,20.2 313,20.2 315.1,20.3 316.6,20.6 317.8,21.1 318.7,22 319.6,23.7 320.5,26.6 321.1,29.7 322,36.9 322.6,43.8 323.2,52.7 323.8,63.7 325.1,91.3 327.2,149.7 327.5,153 327.7,153.8 327.9,154.1 333.8,160.1 333.8,187.1 333.8,187.1 333.8,159.7 328.1,154 327.8,153.6 327.6,152.8 327.3,149.4 325.2,90.9 324,63.2 323.4,52.2 322.7,43.3 322.1,36.4 321.5,31.4 320.9,27.7 320,24.3 319.1,22.3 318.2,21.3 317.6,20.9 317,20.6 315.4,20.3 313,20.2 308.1,20.2" fill="#ff9f00"/>
<polygon points="308.2,20.2 312.7,20.2 315.1,20.3 316.6,20.6 317.8,21.2 318.7,22.2 319.6,23.9 320.5,26.9 321,30.1 321.9,37.3 322.5,44.3 323.1,53.2 323.7,64.1 324.9,91.7 327,149.9 327.3,153 327.5,153.8 327.8,154.2 333.8,160.4 333.8,187.1 333.8,187.1 333.8,160.1 327.9,154.1 327.7,153.8 327.5,153 327.2,149.7 325.1,91.3 323.8,63.7 323.2,52.7 322.6,43.8 322,36.9 321.1,29.7 320.5,26.6 319.6,23.7 318.7,22 317.8,21.1 316.6,20.6 315.1,20.3 313,20.2 308.2,20.2" fill="#ff9b00"/>
<polygon points="308.2,20.2 312.6,20.2 315,20.3 316.5,20.7 317.7,21.3 318.6,22.3 319.5,24 320.4,27.2 321,30.4 321.8,37.7 322.4,44.7 323,53.6 323.6,64.6 324.8,92 326.9,149.8 327.2,153 327.4,153.7 327.6,154.1 333.8,160.6 333.8,187.1 333.8,187.1 333.8,160.4 327.8,154.2 327.5,153.8 327.3,153 327,149.9 324.9,91.7 323.7,64.1 323.1,53.2 322.5,44.3 321.9,37.3 321,30.1 320.5,26.9 319.6,23.9 318.7,22.2 317.8,21.2 316.6,20.6 315.1,20.3 312.7,20.2 308.2,20.2" fill="#ff9900"/>
<polygon points="308.1,20.2 312.6,20.2 314.9,20.3 316.4,20.7 317.6,21.4 318.5,22.4 319.4,24.2 320.3,27.5 320.9,30.7 321.7,38.2 322.3,45.2 323.5,65 324.7,92.3 326.8,149.8 327.1,152.9 327.3,153.6 327.5,153.9 333.8,160.8 333.8,187.1 333.8,187.1 333.8,160.6 327.6,154.1 327.4,153.7 327.2,153 326.9,149.8 324.8,92 323.6,64.6 323,53.6 322.4,44.7 321.8,37.7 321,30.4 320.4,27.2 319.5,24 318.6,22.3 317.7,21.3 316.5,20.7 315,20.3 312.6,20.2 308.2,20.2" fill="#ff9600"/>
<polygon points="308.1,20.2 312.5,20.2 314.9,20.4 316.4,20.7 316.9,21 317.5,21.5 318.4,22.5 319.3,24.4 320.2,27.7 320.8,31.1 321.6,38.6 322.2,45.6 323.4,65.4 324.6,92.6 326.6,149.8 326.9,152.7 327.2,153.5 327.4,153.8 333.8,160.9 333.8,187.1 333.8,187.1 333.8,160.8 327.5,153.9 327.3,153.6 327.1,152.9 326.8,149.8 324.7,92.3 323.5,65 322.3,45.2 321.7,38.2 320.9,30.7 320.3,27.5 319.4,24.2 318.5,22.4 317.6,21.4 316.4,20.7 314.9,20.3 312.6,20.2 308.1,20.2" fill="#ff9300"/>
<polygon points="308.1,20.2 312.5,20.2 314.8,20.4 316.3,20.8 316.9,21.1 317.5,21.6 318.3,22.7 319.2,24.6 320.1,28 320.7,31.4 321.5,39 322.1,46.1 323.3,65.8 324.5,92.9 326.5,149.8 326.8,152.6 327,153.3 327.3,153.7 333.8,161.1 333.8,187.1 333.8,187.1 333.8,160.9 327.4,153.8 327.2,153.5 326.9,152.7 326.6,149.8 324.6,92.6 323.4,65.4 322.2,45.6 321.6,38.6 320.8,31.1 320.2,27.7 319.3,24.4 318.4,22.5 317.5,21.5 316.9,21 316.4,20.7 314.9,20.4 312.5,20.2 308.1,20.2" fill="#ff9000"/>
<polygon points="308.1,20.2 312.4,20.2 314.8,20.4 316.2,20.8 316.8,21.2 317.4,21.7 318.2,22.8 319.1,24.9 320,28.3 320.6,31.8 321.4,39.4 322,46.5 323.2,66.2 324.4,93.2 326.4,149.7 326.7,152.5 326.9,153.2 327.1,153.6 333.8,161.3 333.8,187.1 333.8,187.1 333.8,161.1 327.3,153.7 327,153.3 326.8,152.6 326.5,149.8 324.5,92.9 323.3,65.8 322.1,46.1 321.5,39 320.7,31.4 320.1,28 319.2,24.6 318.3,22.7 317.5,21.6 316.9,21.1 316.3,20.8 314.8,20.4 312.5,20.2 308.1,20.2" fill="#ff8d00"/>
<polygon points="308,20.2 312.1,20.2 314.4,20.4 315.8,20.8 317,21.5 317.9,22.5 318.7,24.2 319.6,27.2 320.2,30.2 321.1,36.9 321.6,43.2 322.5,55.8 323.1,66.6 324.2,93.5 326.3,149.7 326.6,152.4 326.8,153.1 327,153.4 333.8,161.4 333.8,187.1 333.8,187.1 333.8,161.3 327.1,153.6 326.9,153.2 326.7,152.5 326.4,149.7 324.4,93.2 323.2,66.2 322,46.5 321.4,39.4 320.6,31.8 320,28.3 319.1,24.9 318.2,22.8 317.4,21.7 316.8,21.2 316.2,20.8 314.8,20.4 312.4,20.2 308.1,20.2" fill="#ff8a00"/>
<polygon points="308,20.2 312,20.2 314.3,20.4 315.8,20.8 316.9,21.6 317.8,22.6 318.7,24.4 319.5,27.5 320.1,30.5 321,37.3 321.5,43.6 322.4,56.3 323,67 324.1,93.8 325.9,143.3 326.1,149.6 326.4,152.2 326.7,152.9 326.9,153.3 333.8,161.6 333.8,187.1 333.8,187.1 333.8,161.4 327,153.4 326.8,153.1 326.6,152.4 326.3,149.7 324.2,93.5 323.1,66.6 322.5,55.8 321.6,43.2 321.1,36.9 320.2,30.2 319.6,27.2 318.7,24.2 317.9,22.5 317,21.5 315.8,20.8 314.4,20.4 312.1,20.2 308,20.2" fill="#ff8700"/>
<polygon points="308,20.2 312,20.2 314.3,20.4 315.7,20.9 316.9,21.6 317.7,22.7 318.6,24.6 319.4,27.7 320,30.9 320.9,37.7 321.4,44 322.3,56.7 322.9,67.4 324,94.1 325.7,143.4 326,149.6 326.3,152.1 326.8,153.1 333.8,161.7 333.8,187.1 333.8,187.1 333.8,161.6 326.9,153.3 326.7,152.9 326.4,152.2 326.1,149.6 325.9,143.3 324.1,93.8 323,67 322.4,56.3 321.5,43.6 321,37.3 320.1,30.5 319.5,27.5 318.7,24.4 317.8,22.6 316.9,21.6 315.8,20.8 314.3,20.4 312,20.2 308,20.2" fill="#ff8400"/>
<polygon points="307.9,20.2 311.9,20.2 313.9,20.4 315.4,20.8 316.5,21.5 317.1,22 317.6,22.9 318.5,24.8 319.3,28 319.9,31.2 320.8,38.1 321.3,44.4 322.2,57.1 322.8,67.8 323.9,94.4 325.6,143.4 325.9,149.5 326.2,151.9 326.6,152.9 333.8,161.9 333.8,187.1 333.8,187.1 333.8,161.7 326.8,153.1 326.3,152.1 326,149.6 325.7,143.4 324,94.1 322.9,67.4 322.3,56.7 321.4,44 320.9,37.7 320,30.9 319.4,27.7 318.6,24.6 317.7,22.7 316.9,21.6 315.7,20.9 314.3,20.4 312,20.2 308,20.2" fill="#ff8100"/>
<polygon points="307.9,20.2 311.9,20.2 313.9,20.4 315.3,20.8 316.4,21.5 317,22.2 317.6,23 318.4,25 319.3,28.3 319.8,31.5 320.7,38.4 321.2,44.8 322.1,57.5 322.7,68.2 323.8,94.6 325.5,143.5 325.8,149.4 326.1,151.8 326.5,152.8 333.8,162.1 333.8,187.1 333.8,187.1 333.8,161.9 326.6,152.9 326.2,151.9 325.9,149.5 325.6,143.4 323.9,94.4 322.8,67.8 322.2,57.1 321.3,44.4 320.8,38.1 319.9,31.2 319.3,28 318.5,24.8 317.6,22.9 317.1,22 316.5,21.5 315.4,20.8 313.9,20.4 311.9,20.2 307.9,20.2" fill="#ff7e00"/>
<polygon points="307.9,20.2 311.6,20.2 313.8,20.4 315.2,20.9 316.3,21.6 316.9,22.3 317.5,23.2 318.3,25.2 319.2,28.5 319.7,31.8 320.6,38.8 321.1,45.2 322,57.9 322.5,68.6 323.7,94.9 325.4,143.5 325.6,149.3 325.9,151.6 326.4,152.6 333.8,162.2 333.8,187.1 333.8,187.1 333.8,162.1 326.5,152.8 326.1,151.8 325.8,149.4 325.5,143.5 323.8,94.6 322.7,68.2 322.1,57.5 321.2,44.8 320.7,38.4 319.8,31.5 319.3,28.3 318.4,25 317.6,23 317,22.2 316.4,21.5 315.3,20.8 313.9,20.4 311.9,20.2 307.9,20.2" fill="#ff7b00"/>
<polygon points="307.9,20.2 311.5,20.2 313.5,20.4 314.3,20.6 315.2,20.9 316.3,21.7 316.8,22.4 317.4,23.3 318.2,25.4 319.1,28.8 319.6,32.1 320.5,39.2 321,45.6 321.9,58.4 322.4,69 323.6,95.2 325.2,143.5 325.5,149.2 325.8,151.4 326.2,152.4 333.8,162.4 333.8,187.1 333.8,187.1 333.8,162.2 326.4,152.6 325.9,151.6 325.6,149.3 325.4,143.5 323.7,94.9 322.5,68.6 322,57.9 321.1,45.2 320.6,38.8 319.7,31.8 319.2,28.5 318.3,25.2 317.5,23.2 316.9,22.3 316.3,21.6 315.2,20.9 313.8,20.4 311.6,20.2 307.9,20.2" fill="#ff7900"/>
<polygon points="307.8,20.2 311.5,20.2 313.4,20.4 314.8,20.8 315.9,21.5 316.5,22.1 317,22.9 317.9,24.8 318.7,27.7 319.3,30.6 320.1,36.9 320.7,42.6 321.5,54.1 322.1,63.8 323.2,88.4 325.1,143.5 325.4,149.1 325.7,151.2 326.1,152.2 333.8,162.6 333.8,187.1 333.8,187.1 333.8,162.4 326.2,152.4 325.8,151.4 325.5,149.2 325.2,143.5 323.6,95.2 322.4,69 321.9,58.4 321,45.6 320.5,39.2 319.6,32.1 319.1,28.8 318.2,25.4 317.4,23.3 316.8,22.4 316.3,21.7 315.2,20.9 314.3,20.6 313.5,20.4 311.5,20.2 307.9,20.2" fill="#ff7600"/>
<polygon points="307.8,20.2 311.4,20.2 313.4,20.5 314.7,20.9 315.8,21.6 316.4,22.2 317,23.1 317.8,24.9 318.6,28 319.2,30.9 320,37.2 320.6,43 321.4,54.5 321.9,64.2 323.1,88.7 325,143.5 325.3,149 325.5,151 326,152 333.8,162.7 333.8,187.1 333.8,187.1 333.8,162.6 326.1,152.2 325.7,151.2 325.4,149.1 325.1,143.5 323.2,88.4 322.1,63.8 321.5,54.1 320.7,42.6 320.1,36.9 319.3,30.6 318.7,27.7 317.9,24.8 317,22.9 316.5,22.1 315.9,21.5 314.8,20.8 313.4,20.4 311.5,20.2 307.8,20.2" fill="#ff7200"/>
<polygon points="307.8,20.2 311.4,20.3 313.3,20.5 314.7,20.9 315.8,21.7 316.3,22.3 316.9,23.2 317.7,25.1 318.5,28.2 319.1,31.2 319.9,37.6 320.5,43.4 321.3,54.9 321.8,64.6 322.9,88.9 324.9,143.5 325.1,148.8 325.4,150.8 325.9,151.8 333.8,162.9 333.8,187.1 333.8,187.1 333.8,162.7 326,152 325.5,151 325.3,149 325,143.5 323.1,88.7 321.9,64.2 321.4,54.5 320.6,43 320,37.2 319.2,30.9 318.6,28 317.8,24.9 317,23.1 316.4,22.2 315.8,21.6 314.7,20.9 313.4,20.5 311.4,20.2 307.8,20.2" fill="#ff6e00"/>
<polygon points="307.8,20.2 311,20.2 313,20.5 313.8,20.7 314.6,21 315.7,21.8 316.2,22.4 316.8,23.3 317.6,25.3 318.4,28.5 319,31.5 319.8,38 320.4,43.8 321.2,55.3 321.7,65 322.8,89.2 324.7,143.5 325,148.7 325.3,150.6 325.7,151.5 333.8,163 333.8,187.1 333.8,187.1 333.8,162.9 325.9,151.8 325.4,150.8 325.1,148.8 324.9,143.5 322.9,88.9 321.8,64.6 321.3,54.9 320.5,43.4 319.9,37.6 319.1,31.2 318.5,28.2 317.7,25.1 316.9,23.2 316.3,22.3 315.8,21.7 314.7,20.9 313.3,20.5 311.4,20.3 307.8,20.2" fill="#ff6900"/>
<polygon points="307.7,20.2 311,20.3 312.9,20.5 313.7,20.7 314.5,21 315.6,21.9 316.2,22.5 316.7,23.5 317.5,25.5 318.4,28.7 318.9,31.8 319.7,38.3 320.3,44.2 321.1,55.7 321.6,65.3 322.7,89.5 324.6,143.5 324.9,148.5 325.2,150.3 325.6,151.3 333.8,163.2 333.8,187.1 333.8,187.1 333.8,163 325.7,151.5 325.3,150.6 325,148.7 324.7,143.5 322.8,89.2 321.7,65 321.2,55.3 320.4,43.8 319.8,38 319,31.5 318.4,28.5 317.6,25.3 316.8,23.3 316.2,22.4 315.7,21.8 314.6,21 313.8,20.7 313,20.5 311,20.2 307.8,20.2" fill="#ff6500"/>
</g>
<polyline points="329.8,20.2 333.7,20.2 333.8,187.1" stroke="#003c78"/>
<polyline points="329.4,20.2 332.9,20.2 333.2,20.6 333.6,21.7 333.8,21.8 333.8,187.1" stroke="#004274"/>
<polyline points="329.1,20.2 332.8,20.2 333.1,20.8 333.6,23.2 333.6,23.4 333.8,23.4 333.8,187.1" stroke="#004770"/>
<polyline points="328.7,20.2 332.3,20.2 332.7,20.3 333,21.2 333.5,24.7 333.6,25 333.8,25 333.8,187.1" stroke="#004d6d"/>
<polyline points="328.3,20.2 332.2,20.2 332.4,20.2 332.6,20.4 332.9,21.6 333.5,26.1 333.6,26.6 333.8,26.6 333.8,187.1" stroke="#005369"/>
<polyline points="328,20.2 331.9,20.2 332.2,20.2 332.4,20.3 332.6,20.7 332.8,21.5 333.5,27.5 333.6,28.1 333.8,28.3 333.8,187.1" stroke="#005965"/>
<polyline points="327.6,20.2 331.7,20.2 332.1,20.2 332.3,20.4 332.5,20.9 332.7,21.9 333.6,29.6 333.7,29.9 333.8,29.9 333.8,187.1" stroke="#005e61"/>
<polyline points="327.2,20.2 331.6,20.2 332,20.3 332.2,20.5 332.4,21.1 332.6,22.3 333.6,31.2 333.7,31.5 333.8,31.5 333.8,187.1" stroke="#00645d"/>
<polyline points="326.9,20.2 331.5,20.2 331.9,20.3 332.1,20.6 332.5,21.9 332.7,23.6 333.6,32.7 333.7,33.1 333.8,33.1 333.8,187.1" stroke="#006a5a"/>
<polyline points="326.5,20.2 331.4,20.2 331.8,20.3 332.1,20.7 332.3,21.5 332.6,24.1 333.5,34.1 333.7,34.7 333.8,34.7 333.8,187.1" stroke="#006f56"/>
<polyline points="326.1,20.2 331.1,20.2 331.6,20.3 331.9,20.5 332.2,21.8 332.4,23.5 333.5,35.6 333.6,36.3 333.8,36.4 333.8,187.1" stroke="#007552"/>
<polyline points="325.8,20.2 331,20.2 331.5,20.3 331.8,20.6 332,21.4 332.3,22.9 333.5,37.1 333.6,37.8 333.8,38 333.8,187.1" stroke="#017b4e"/>
<polyline points="325.4,20.2 330.9,20.2 331.4,20.3 331.7,20.7 331.9,21.6 332.2,23.3 333.5,38.6 333.6,39.4 333.8,39.6 333.8,187.1" stroke="#04804a"/>
<polyline points="325,20.2 330.7,20.2 331.3,20.4 331.6,20.8 331.8,21.8 332.1,23.6 333.5,40 333.6,41 333.8,41.2 333.8,187.1" stroke="#068547"/>
<polyline points="324.6,20.2 330.6,20.2 331.2,20.4 331.5,20.9 331.8,22 332,24 333.5,41.5 333.6,42.6 333.8,42.8 333.8,187.1" stroke="#098a43"/>
<polyline points="324.3,20.2 330.5,20.2 331.1,20.5 331.4,21 331.7,22.2 332,24.3 333.4,42.9 333.6,44.1 333.8,44.5 333.8,187.1" stroke="#0b8f3f"/>
<polyline points="323.9,20.2 330.4,20.2 330.7,20.3 331,20.5 331.3,21.1 331.6,22.4 331.9,24.7 333.4,44.4 333.6,45.7 333.8,46.1 333.8,187.1" stroke="#0e943b"/>
<polyline points="323.5,20.2 330.2,20.2 330.5,20.3 330.9,20.6 331.2,21.2 331.5,22.6 331.8,25.1 333.4,45.8 333.6,47.3 333.8,47.7 333.8,187.1" stroke="#109937"/>
<polyline points="323.2,20.2 329.9,20.2 330.6,20.4 330.9,20.9 331.1,21.3 331.4,22.8 331.7,25.5 333.4,47.2 333.6,48.8 333.8,49.3 333.8,187.1" stroke="#139e33"/>
<polyline points="322.8,20.2 329.8,20.2 330.5,20.5 330.8,21 331,21.4 331.3,23 331.7,25.9 333.4,48.7 333.6,50.4 333.8,51 333.8,187.1" stroke="#15a132"/>
<polyline points="322.4,20.2 329.7,20.2 330,20.3 330.4,20.5 330.7,21 330.9,21.5 331.3,23.3 331.6,26.3 332.1,32.7 333.4,50.3 333.5,52.2 333.8,52.8 333.8,187.1" stroke="#16a231"/>
<polyline points="322.1,20.2 329.3,20.2 330.1,20.4 330.4,20.8 330.6,21.1 331,22.4 331.2,23.5 331.5,26.7 332.1,33.4 333.4,51.9 333.5,53.9 333.8,54.6 333.8,187.1" stroke="#17a331"/>
<polyline points="321.7,20.2 329.2,20.2 330,20.4 330.3,20.8 330.5,21.2 330.9,22.6 331.1,23.8 331.5,27.1 332,34.2 333.3,53.5 333.5,55.6 333.8,56.4 333.8,187.1" stroke="#18a430"/>
<polyline points="321.3,20.2 329.1,20.2 329.8,20.4 330.2,20.9 330.4,21.3 330.8,22.8 331,24 331.4,27.6 332,34.9 333.3,55.1 333.5,57.3 333.8,58.2 333.8,187.1" stroke="#19a52f"/>
<polyline points="321,20.2 328.7,20.2 329.5,20.3 329.9,20.6 330.3,21.4 330.5,22 330.9,24.3 331.7,32.9 333.3,56.7 333.5,59 333.8,60 333.8,187.1" stroke="#1aa52f"/>
<polyline points="320.6,20.2 328.6,20.2 329.4,20.4 329.8,20.7 330.2,21.5 330.6,23.2 331,26.3 331.4,30.9 333.3,58.3 333.5,60.7 333.8,61.8 333.8,187.1" stroke="#1ba62e"/>
<polyline points="320.2,20.2 328.2,20.2 329.1,20.3 329.5,20.5 329.9,21.1 330.1,21.6 330.5,23.4 331,26.6 331.4,31.4 333.3,59.9 333.5,62.4 333.8,63.6 333.8,187.1" stroke="#1ca72e"/>
<polyline points="319.8,20.2 328.1,20.2 328.9,20.3 329.4,20.5 329.8,21.1 330.2,22.4 330.7,25.1 331.1,29.3 331.7,37.9 333.3,61.5 333.5,64.1 333.8,65.4 333.8,187.1" stroke="#1da82d"/>
<polyline points="319.5,20.2 327.9,20.2 328.8,20.3 329.2,20.6 329.7,21.2 330.1,22.6 330.6,25.3 331,29.7 331.7,38.7 333.2,63 333.5,65.8 333.7,67 333.8,67.2 333.8,187.1" stroke="#1ea92d"/>
<polyline points="319.1,20.2 327.8,20.2 328.7,20.3 329.1,20.6 329.6,21.2 330,22.7 330.5,25.6 331,30.1 331.6,39.4 333.2,64.6 333.5,67.5 333.7,68.8 333.8,69 333.8,187.1" stroke="#20aa2c"/>
<polyline points="318.7,20.2 327.6,20.2 328.5,20.3 329,20.6 329.5,21.3 329.9,22.9 330.4,25.8 330.9,30.6 331.6,40.2 333.2,66.2 333.4,69.2 333.7,70.6 333.8,70.8 333.8,187.1" stroke="#21ab2c"/>
<polyline points="318.4,20.2 327.2,20.2 328.2,20.3 328.7,20.5 329.1,20.9 329.4,21.4 329.8,23 330.3,26.1 330.6,28.3 331.5,40.9 333.2,67.8 333.4,70.9 333.7,72.4 333.8,72.6 333.8,187.1" stroke="#22ac2b"/>
<polyline points="318,20.2 327.1,20.2 328,20.3 328.5,20.5 329,21 329.3,21.4 329.8,23.1 330.2,26.4 330.5,28.7 331.5,41.7 333.2,69.4 333.4,72.6 333.7,74.1 333.8,74.3 333.8,187.1" stroke="#23ad2b"/>
<polyline points="317.6,20.2 326.9,20.2 327.9,20.3 328.4,20.5 328.9,21 329.2,21.5 329.7,23.3 330.2,26.6 330.4,29 331.4,42.4 333.2,70.9 333.4,74.3 333.7,75.9 333.8,76.1 333.8,187.1" stroke="#24ae2a"/>
<polyline points="317.3,20.2 326.7,20.2 327.8,20.3 328.3,20.5 328.8,21.1 329.1,21.6 329.6,23.4 330.1,26.9 330.3,29.4 331.4,43.2 333.2,72.5 333.4,76 333.7,77.7 333.8,77.9 333.8,187.1" stroke="#25af2a"/>
<polyline points="316.9,20.2 326.3,20.2 327.4,20.2 328.2,20.5 328.7,21.1 328.9,21.7 329.5,23.6 330,27.2 330.3,29.7 331.3,43.9 333.1,74.1 333.4,77.7 333.7,79.5 333.8,79.7 333.8,187.1" stroke="#26b029"/>
<polyline points="316.4,20.2 326.1,20.2 327.2,20.3 327.7,20.4 328.3,20.8 328.5,21.2 329.1,22.6 329.6,25.3 329.9,27.5 330.4,33.2 331,40.6 333.4,79.4 333.7,81.2 333.8,81.5 333.8,187.1" stroke="#27b128"/>
<polyline points="315.9,20.2 325.9,20.2 327,20.3 327.5,20.4 328.1,20.8 328.4,21.2 328.9,22.7 329.5,25.6 329.8,27.8 330.3,33.7 330.9,41.3 333.4,81.1 333.7,83 333.8,83.3 333.8,187.1" stroke="#29b228"/>
<polyline points="315.3,20.2 325.6,20.2 326.8,20.3 327.4,20.4 327.9,20.9 328.2,21.3 328.8,22.8 329.4,25.7 329.6,28 330.2,34 330.8,41.7 333.4,82.1 333.6,84.1 333.8,84.4 333.8,187.1" stroke="#2db426"/>
<polyline points="314.8,20.2 325.1,20.2 326.3,20.2 327.2,20.5 327.8,20.9 328.1,21.3 328.6,22.8 329.2,25.9 329.5,28.2 330.1,34.3 330.7,42.1 333.3,83.1 333.6,85.2 333.8,85.5 333.8,187.1" stroke="#30b625"/>
<polyline points="314.3,20.2 324.9,20.2 326.1,20.2 327,20.5 327.6,20.9 327.9,21.4 328.5,22.9 329.1,26 329.4,28.4 330,34.6 330.6,42.5 333.3,84.1 333.6,86.2 333.8,86.6 333.8,187.1" stroke="#34b724"/>
<polyline points="313.8,20.2 324.7,20.2 325.9,20.2 326.8,20.5 327.4,21 327.7,21.4 328.4,23 329,26.2 329.3,28.6 329.9,34.9 330.5,42.9 333.3,85.1 333.6,87.3 333.8,87.7 333.8,187.1" stroke="#38b923"/>
<polyline points="313.3,20.2 324.4,20.2 325.7,20.2 326.6,20.5 327.3,21 327.6,21.4 328.2,23.1 328.9,26.3 329.2,28.8 329.8,35.2 330.5,43.3 333.3,86.1 333.6,88.4 333.8,88.8 333.8,187.1" stroke="#3cbb21"/>
<polyline points="312.8,20.2 324.2,20.2 325.5,20.2 326.5,20.5 327.1,21 327.4,21.5 328.1,23.2 328.7,26.5 329.1,29 329.7,35.5 330.4,43.7 333.3,87.1 333.6,89.4 333.8,89.8 333.8,187.1" stroke="#40bc20"/>
<polyline points="312.3,20.2 323.9,20.2 325.3,20.2 326.3,20.5 327,21 327.3,21.5 328,23.2 328.6,26.6 329,29.1 329.6,35.8 330.3,44.1 333.3,88.1 333.6,90.5 333.8,90.9 333.8,187.1" stroke="#44be1f"/>
<polyline points="311.8,20.2 323.7,20.2 325.1,20.2 326.1,20.5 326.8,21.1 327.1,21.5 327.8,23.3 328.5,26.8 328.8,29.3 329.5,36.1 330.2,44.5 333.3,89 333.6,91.5 333.8,92 333.8,187.1" stroke="#47c01e"/>
<polyline points="311.3,20.2 323.1,20.2 324.5,20.2 325.6,20.4 326.3,20.8 326.6,21.1 327.3,22.3 328,24.9 328.4,26.9 329.1,32.7 329.8,40.5 330.8,54.6 332.9,85.5 333.3,90 333.6,92.6 333.8,93.1 333.8,187.1" stroke="#4bc11c"/>
<polyline points="310.7,20.2 322.9,20.2 324.3,20.2 325.4,20.4 326.1,20.8 326.5,21.1 326.8,21.6 327.2,22.4 327.9,25 328.3,27.1 329,32.9 329.7,40.8 330.8,55.1 332.9,86.4 333.3,91 333.6,93.7 333.8,94.2 333.8,187.1" stroke="#4fc31b"/>
<polyline points="310.2,20.2 322.7,20.2 324.1,20.2 325.2,20.4 325.9,20.8 326.3,21.1 326.7,21.7 327,22.4 327.8,25.1 328.1,27.2 328.9,33.1 329.6,41.2 333.2,92 333.6,94.7 333.8,95.2 333.8,187.1" stroke="#53c51a"/>
<polyline points="309.9,20.2 322.4,20.2 323.9,20.2 325,20.4 325.8,20.8 326.2,21.2 326.5,21.7 326.9,22.5 327.6,25.2 328,27.3 328.7,33.4 329.9,46.1 333.2,93 333.6,95.8 333.8,96.4 333.8,187.1" stroke="#57c618"/>
<polyline points="309.5,20.2 322.2,20.2 323.7,20.2 324.9,20.4 325.6,20.8 326,21.2 326.4,21.7 326.8,22.5 327.5,25.3 327.9,27.5 328.6,33.6 329.8,46.5 333.1,94 333.5,96.8 333.8,97.5 333.8,187.1" stroke="#5ac817"/>
<polyline points="309.1,20.2 322,20.2 323.6,20.2 324.7,20.4 325.5,20.8 325.9,21.2 326.2,21.8 326.6,22.6 327,23.8 327.4,25.4 327.8,27.6 328.5,33.8 329.7,46.9 333.1,95 333.5,97.9 333.8,98.7 333.8,187.1" stroke="#5ec916"/>
<polyline points="308.7,20.2 321.8,20.2 323.4,20.2 324.5,20.4 325.3,20.9 325.7,21.2 326.1,21.8 326.5,22.6 326.9,23.8 327.2,25.5 327.6,27.7 328.4,34 329.6,47.3 333,96 333.4,99 333.8,99.8 333.8,187.1" stroke="#62cb15"/>
<polyline points="308.3,20.2 321.6,20.2 323.2,20.2 324.4,20.4 325.2,20.9 325.5,21.2 325.9,21.8 326.3,22.7 326.7,23.9 327.1,25.6 327.5,27.8 328.3,34.2 329.5,47.6 333,97 333.4,100 333.6,100.7 333.8,100.9 333.8,187.1" stroke="#69ce13"/>
<polyline points="307.9,20.2 321.4,20.2 323,20.2 324.2,20.5 325,20.9 325.4,21.3 325.8,21.9 326.2,22.7 326.6,24 327,25.7 327.4,28 328.2,34.4 329.4,48 332.9,98.1 333.3,101.1 333.6,101.8 333.8,102.1 333.8,187.1" stroke="#73d111"/>
<polyline points="307.5,20.2 321.2,20.2 322.8,20.2 324,20.5 324.8,20.9 325.2,21.3 325.7,21.9 326.1,22.8 326.5,24 326.9,25.8 327.3,28.1 328.1,34.6 329.3,48.4 332.9,99.1 333.3,102.2 333.5,102.9 333.8,103.3 333.8,187.1" stroke="#7ed40e"/>
<polyline points="307.2,20.2 321,20.2 322.7,20.2 323.9,20.5 324.7,20.9 325.1,21.3 325.5,21.9 325.9,22.8 326.3,24.1 326.7,25.9 327.1,28.2 328,34.9 329.2,48.8 332.8,100.2 333.3,103.3 333.5,104 333.8,104.4 333.8,187.1" stroke="#89d70c"/>
<polyline points="306.8,20.2 320.8,20.2 322.5,20.2 323.7,20.5 324.5,20.9 325,21.3 325.4,22 325.8,22.9 326.2,24.2 326.6,26 327,28.3 327.8,35.1 329.1,49.2 332.8,101.2 333.2,104.4 333.4,105.1 333.8,105.6 333.8,187.1" stroke="#93db0a"/>
<polyline points="306.7,20.2 320.7,20.2 322.4,20.2 323.6,20.5 324.4,20.9 324.8,21.4 325.2,22 325.6,22.9 326.1,24.2 326.5,26 326.9,28.5 327.7,35.2 328.9,49.5 332.7,102.2 333.1,105.5 333.3,106.2 333.5,106.6 333.8,106.8 333.8,187.1" stroke="#9ede07"/>
<polyline points="306.5,20.2 320.6,20.2 322.2,20.2 323.5,20.5 324.3,20.9 324.7,21.4 325.1,22 325.5,22.9 325.9,24.3 326.3,26.1 326.8,28.6 327.6,35.4 328.8,49.9 332.5,103.3 332.9,106.6 333.2,107.3 333.4,107.7 333.8,107.9 333.8,187.1" stroke="#a8e105"/>
<polyline points="306.4,20.2 320.4,20.2 322.1,20.2 323.3,20.5 324.2,21 324.6,21.4 325,22 325.4,23 325.8,24.3 326.2,26.2 326.6,28.7 327.5,35.6 328.7,50.3 332.4,104.3 332.8,107.7 333.1,108.4 333.3,108.7 333.8,109.1 333.8,187.1" stroke="#b3e502"/>
<polyline points="306.2,20.2 319.9,20.2 321.5,20.2 322.8,20.4 323.6,20.8 324,21.1 324.4,21.6 324.9,22.3 325.3,23.3 325.7,24.7 326.1,26.6 326.9,32.3 328.2,45.5 329.4,62.3 332.3,105.3 332.7,108.7 332.9,109.5 333.2,109.8 333.8,110.2 333.8,187.1" stroke="#bde800"/>
<polyline points="306.1,20.2 319.8,20.2 321.4,20.2 322.7,20.5 323.5,20.9 323.9,21.2 324.3,21.8 324.7,22.5 325.1,23.6 325.6,25.1 326,27.1 326.8,33 328,46.4 329.3,63.5 332.2,107.4 332.6,110.9 332.8,111.7 333.3,112.2 333.8,112.5 333.8,187.1" stroke="#c7eb00"/>
<polyline points="305.9,20.2 319.6,20.2 321.3,20.3 322.5,20.5 323.4,21 323.8,21.4 324.2,22 324.6,22.8 325,23.9 325.4,25.5 325.8,27.6 326.7,33.6 327.9,47.2 329.2,64.6 332.1,109.5 332.5,113.1 332.7,113.9 333.2,114.4 333.8,114.8 333.8,187.1" stroke="#d0ee00"/>
<polyline points="305.8,20.2 319.5,20.2 321.1,20.3 322.4,20.6 323.2,21.1 323.6,21.6 324.1,22.2 324.5,23.1 325.3,26 325.7,28.2 326.5,34.3 327.8,48.2 329,65.8 331.9,111.6 332.4,115.3 332.6,116.1 333,116.7 333.8,117.1 333.8,187.1" stroke="#d9f100"/>
<polyline points="305.6,20.2 319.3,20.2 321,20.3 322.3,20.7 323.1,21.3 323.5,21.8 323.9,22.5 324.3,23.4 325.2,26.5 325.6,28.7 326,31.6 326.8,39.2 328.1,54.7 331.8,113.7 332.2,117.5 332.5,118.3 332.9,118.9 333.8,119.4 333.8,187.1" stroke="#e2f400"/>
<polyline points="305.7,20.2 318.9,20.2 320.5,20.3 321.8,20.6 322.6,21.1 323,21.4 323.8,22.7 324.6,25.1 325.5,29.3 325.9,32.3 326.7,40 327.9,55.9 329.2,75 331.7,116.3 332.1,120.1 332.3,120.9 332.7,121.5 333.8,122.2 333.8,187.1" stroke="#ebf700"/>
<polyline points="305.8,20.2 318.8,20.2 320.5,20.3 321.7,20.7 322.5,21.2 322.9,21.6 323.7,23 324.5,25.6 324.9,27.5 325.8,33 326.2,36.7 327.4,51.3 328.6,70 331.5,119.1 331.9,123 332.1,123.9 332.5,124.5 333.8,125.2 333.8,187.1" stroke="#f4fa00"/>
<polyline points="306,20.2 318,20.2 320,20.3 321.2,20.6 322,21 322.4,21.3 323.2,22.4 324,24.5 324.8,28 325.6,33.7 326,37.5 327.2,52.5 328.9,78.5 331.3,122 331.7,125.9 331.9,126.8 332.3,127.4 333.8,128.3 333.8,187.1" stroke="#f6f900"/>
<polyline points="306.1,20.2 318,20.2 320,20.3 321.2,20.7 322,21.1 322.4,21.5 323.1,22.7 323.9,24.9 324.7,28.6 325.5,34.5 325.9,38.4 327.1,53.7 328.7,80.3 331.1,124.8 331.5,128.8 331.7,129.7 332.1,130.3 333.8,131.3 333.8,187.1" stroke="#f7f800"/>
<polyline points="306.3,20.2 318,20.2 319.9,20.4 321.1,20.7 321.9,21.3 322.3,21.7 323.1,23 323.8,25.3 324.6,29.2 325.4,35.3 325.8,39.3 327,54.9 328.5,82 330.9,127.6 331.3,131.7 331.5,132.6 331.9,133.2 333.8,134.4 333.8,187.1" stroke="#f9f700"/>
<polyline points="306.4,20.2 318,20.2 319.9,20.4 321,20.8 321.8,21.4 322.2,21.9 323,23.3 323.7,25.7 324.5,29.8 325.3,36.1 325.7,40.2 326.8,56.1 328.4,83.8 330.7,130.5 331.1,134.6 331.3,135.5 331.7,136.2 333.8,137.5 333.8,187.1" stroke="#fbf600"/>
<polyline points="306.6,20.2 317.6,20.2 319.5,20.4 320.6,20.7 321.4,21.2 321.7,21.6 322.5,22.7 323.3,24.7 324,28.1 324.8,33.4 325.5,41.1 326.7,57.3 328.2,85.6 330.5,133.3 330.8,137.5 331.1,138.4 331.5,139.1 333.8,140.5 333.8,187.1" stroke="#fcf500"/>
<polyline points="306.7,20.2 317.6,20.2 319.4,20.4 320.6,20.8 321.3,21.3 321.7,21.7 322.4,23 323.2,25.1 323.9,28.6 324.7,34.1 325.4,42 326.5,58.6 328,87.4 330.3,136.1 330.6,140.4 330.9,141.3 331.3,141.9 333.8,143.6 333.8,187.1" stroke="#fef400"/>
<polyline points="306.9,20.2 317.6,20.2 319.4,20.5 320.5,20.9 321.2,21.5 321.6,21.9 322.3,23.2 323.1,25.5 323.8,29.2 324.6,34.8 325.3,42.9 326.4,59.7 327.9,88.8 330.1,138.3 330.4,142.6 330.7,143.5 331.1,144.2 333.8,146 333.8,187.1" stroke="#fff200"/>
<polyline points="307.1,20.2 317.6,20.2 319.4,20.5 320.5,21 321.2,21.6 321.5,22.1 322.3,23.5 323,25.8 323.7,29.6 324.4,35.4 325.2,43.5 326.2,60.4 327.7,89.8 329.9,139.7 330.2,143.9 330.4,144.9 330.9,145.5 333.8,147.5 333.8,187.1" stroke="#ffed00"/>
<polyline points="307.3,20.2 317.2,20.2 319,20.4 320.1,20.8 320.8,21.3 321.1,21.7 321.8,22.9 322.2,23.7 322.9,26.2 323.6,30.1 324.3,36 325,44.2 326.1,61.2 327.5,90.8 329.3,133.5 329.6,141.1 330,145.3 330.2,146.2 330.7,146.8 333.8,149.1 333.8,187.1" stroke="#ffe800"/>
<polyline points="307.5,20.2 316.9,20.2 318.6,20.4 319.7,20.7 320.7,21.5 321.4,22.4 321.8,23.1 322.5,25.1 323.2,28.3 323.9,33.3 324.6,40.4 325.6,55.7 327,83.8 329.4,142.4 329.8,146.6 330,147.5 330.5,148.2 333.8,150.6 333.8,187.1" stroke="#ffe300"/>
<polyline points="307.7,20.2 316.9,20.2 318.6,20.4 319.6,20.8 320.7,21.6 321.4,22.6 321.7,23.3 322.4,25.4 323.1,28.8 323.8,33.8 324.4,41.1 325.5,56.5 326.8,84.7 329.2,143.8 329.6,147.9 329.8,148.8 330.2,149.5 333.8,152.1 333.8,187.1" stroke="#ffde00"/>
<polyline points="307.9,20.2 316.9,20.2 318.6,20.5 319.6,20.9 320.6,21.7 321.3,22.8 321.6,23.5 322.3,25.7 323,29.2 323.6,34.4 324.3,41.7 325.3,57.3 326.7,85.6 329,145.1 329.4,149.2 329.6,150.1 330,150.8 333.8,153.7 333.8,187.1" stroke="#ffd900"/>
<polyline points="308.1,20.2 316.6,20.2 318.3,20.4 319.6,20.9 320.6,21.9 321.2,23 321.6,23.8 322.2,26.1 322.9,29.6 323.5,34.9 324.2,42.4 325.2,58.1 326.5,86.6 328.8,146.5 329.1,150.5 329.4,151.4 329.8,152.1 333.8,155.2 333.8,187.1" stroke="#ffd500"/>
<polyline points="308.1,20.2 316.6,20.2 318.2,20.5 318.9,20.7 319.5,21 320.5,22 321.1,23.2 321.5,24 322.1,26.4 322.8,30 323.4,35.4 324.1,42.9 324.7,52.8 325.4,65 326.7,95.2 328.7,146.9 329,150.9 329.2,151.8 329.7,152.4 333.8,155.8 333.8,187.1" stroke="#ffcf00"/>
<polyline points="308.1,20.2 316.5,20.3 318.1,20.5 318.8,20.7 319.4,21.1 320.4,22.1 321,23.4 321.4,24.3 322,26.7 322.7,30.4 323.3,35.9 324,43.4 324.6,53.3 325.3,65.5 326.6,95.6 328.5,147.2 328.8,151.1 329.1,152 329.5,152.6 333.8,156.2 333.8,187.1" stroke="#ffca00"/>
<polyline points="308,20.2 313.8,20.2 316.4,20.3 318,20.5 318.7,20.8 319.3,21.2 320.3,22.3 320.9,23.6 321.3,24.5 321.9,27 322.6,30.8 323.2,36.3 323.8,43.9 324.5,53.8 325.1,66 326.4,96 328.4,147.5 328.7,151.4 328.9,152.3 329.1,152.6 333.8,156.6 333.8,187.1" stroke="#ffc500"/>
<polyline points="308,20.2 316,20.3 317.6,20.5 318.9,21 319.9,22 320.5,23.1 320.8,23.8 321.5,25.9 322.1,29.1 322.8,33.8 323.4,40.4 324,49.1 324.7,60.1 326,88.3 328.2,147.8 328.5,151.6 328.7,152.5 329,152.8 333.8,157.1 333.8,187.1" stroke="#ffc000"/>
<polyline points="308,20.2 313.4,20.2 316,20.3 317.6,20.5 318.2,20.8 318.8,21.1 319.8,22.1 320.4,23.2 320.7,24 321.4,26.2 322,29.5 322.6,34.2 323.3,40.9 323.9,49.6 324.6,60.7 325.8,88.7 328.1,148.1 328.4,151.8 328.6,152.7 328.8,153.1 333.8,157.5 333.8,187.1" stroke="#ffbb00"/>
<polyline points="308,20.2 313.4,20.2 315.9,20.3 317.5,20.6 318.1,20.8 318.7,21.2 319.7,22.2 320.3,23.4 320.6,24.3 321.3,26.5 321.9,29.9 322.5,34.7 323.2,41.4 323.8,50.2 324.4,61.2 325.7,89.2 327.9,148.4 328.2,152 328.4,152.9 328.7,153.3 333.8,157.9 333.8,187.1" stroke="#ffb600"/>
<polyline points="308,20.2 315.5,20.3 317.1,20.5 318.3,21.1 319.3,21.9 319.9,23 320.2,23.6 320.9,25.5 321.2,26.8 321.8,30.2 322.4,35.1 323.1,41.9 323.7,50.7 324.3,61.7 325.6,89.6 327.8,148.6 328.1,152.2 328.3,153.1 328.5,153.4 333.8,158.4 333.8,187.1" stroke="#ffb100"/>
<polyline points="308,20.2 313,20.2 315.5,20.3 317,20.6 318.3,21.1 319.2,22.1 320.2,23.8 320.8,25.8 321.1,27.1 321.7,30.6 322.3,35.6 322.9,42.3 323.6,51.2 324.2,62.2 325.4,90 327.6,148.9 327.9,152.4 328.1,153.3 328.4,153.6 333.8,158.8 333.8,187.1" stroke="#ffab00"/>
<polyline points="308.1,20.2 313,20.2 315.5,20.3 317,20.6 318.2,21.2 319.2,22.2 320.1,24 321,27.4 321.6,31 322.2,36 322.8,42.8 323.5,51.7 324.1,62.7 325.3,90.5 327.5,149.2 327.8,152.6 328,153.4 328.2,153.8 333.8,159.3 333.8,187.1" stroke="#ffa600"/>
<polyline points="308.1,20.2 313,20.2 315.4,20.3 317,20.6 317.6,20.9 318.2,21.3 319.1,22.3 320,24.3 320.9,27.7 321.5,31.4 322.1,36.4 322.7,43.3 323.4,52.2 324,63.2 325.2,90.9 327.3,149.4 327.6,152.8 327.8,153.6 328.1,154 333.8,159.7 333.8,187.1" stroke="#ffa100"/>
<polyline points="308.2,20.2 313,20.2 315.1,20.3 316.6,20.6 317.8,21.1 318.7,22 319.6,23.7 320.5,26.6 321.1,29.7 322,36.9 322.6,43.8 323.2,52.7 323.8,63.7 325.1,91.3 327.2,149.7 327.5,153 327.7,153.8 327.9,154.1 333.8,160.1 333.8,187.1" stroke="#ff9d00"/>
<polyline points="308.2,20.2 312.7,20.2 315.1,20.3 316.6,20.6 317.8,21.2 318.7,22.2 319.6,23.9 320.5,26.9 321,30.1 321.9,37.3 322.5,44.3 323.1,53.2 323.7,64.1 324.9,91.7 327,149.9 327.3,153 327.5,153.8 327.8,154.2 333.8,160.4 333.8,187.1" stroke="#ff9a00"/>
<polyline points="308.2,20.2 312.6,20.2 315,20.3 316.5,20.7 317.7,21.3 318.6,22.3 319.5,24 320.4,27.2 321,30.4 321.8,37.7 322.4,44.7 323,53.6 323.6,64.6 324.8,92 326.9,149.8 327.2,153 327.4,153.7 327.6,154.1 333.8,160.6 333.8,187.1" stroke="#ff9700"/>
<polyline points="308.1,20.2 312.6,20.2 314.9,20.3 316.4,20.7 317.6,21.4 318.5,22.4 319.4,24.2 320.3,27.5 320.9,30.7 321.7,38.2 322.3,45.2 323.5,65 324.7,92.3 326.8,149.8 327.1,152.9 327.3,153.6 327.5,153.9 333.8,160.8 333.8,187.1" stroke="#ff9400"/>
<polyline points="308.1,20.2 312.5,20.2 314.9,20.4 316.4,20.7 316.9,21 317.5,21.5 318.4,22.5 319.3,24.4 320.2,27.7 320.8,31.1 321.6,38.6 322.2,45.6 323.4,65.4 324.6,92.6 326.6,149.8 326.9,152.7 327.2,153.5 327.4,153.8 333.8,160.9 333.8,187.1" stroke="#ff9100"/>
<polyline points="308.1,20.2 312.5,20.2 314.8,20.4 316.3,20.8 316.9,21.1 317.5,21.6 318.3,22.7 319.2,24.6 320.1,28 320.7,31.4 321.5,39 322.1,46.1 323.3,65.8 324.5,92.9 326.5,149.8 326.8,152.6 327,153.3 327.3,153.7 333.8,161.1 333.8,187.1" stroke="#ff8e00"/>
<polyline points="308.1,20.2 312.4,20.2 314.8,20.4 316.2,20.8 316.8,21.2 317.4,21.7 318.2,22.8 319.1,24.9 320,28.3 320.6,31.8 321.4,39.4 322,46.5 323.2,66.2 324.4,93.2 326.4,149.7 326.7,152.5 326.9,153.2 327.1,153.6 333.8,161.3 333.8,187.1" stroke="#ff8b00"/>
<polyline points="308,20.2 312.1,20.2 314.4,20.4 315.8,20.8 317,21.5 317.9,22.5 318.7,24.2 319.6,27.2 320.2,30.2 321.1,36.9 321.6,43.2 322.5,55.8 323.1,66.6 324.2,93.5 326.3,149.7 326.6,152.4 326.8,153.1 327,153.4 333.8,161.4 333.8,187.1" stroke="#ff8900"/>
<polyline points="308,20.2 312,20.2 314.3,20.4 315.8,20.8 316.9,21.6 317.8,22.6 318.7,24.4 319.5,27.5 320.1,30.5 321,37.3 321.5,43.6 322.4,56.3 323,67 324.1,93.8 325.9,143.3 326.1,149.6 326.4,152.2 326.7,152.9 326.9,153.3 333.8,161.6 333.8,187.1" stroke="#ff8600"/>
<polyline points="308,20.2 312,20.2 314.3,20.4 315.7,20.9 316.9,21.6 317.7,22.7 318.6,24.6 319.4,27.7 320,30.9 320.9,37.7 321.4,44 322.3,56.7 322.9,67.4 324,94.1 325.7,143.4 326,149.6 326.3,152.1 326.8,153.1 333.8,161.7 333.8,187.1" stroke="#ff8300"/>
<polyline points="307.9,20.2 311.9,20.2 313.9,20.4 315.4,20.8 316.5,21.5 317.1,22 317.6,22.9 318.5,24.8 319.3,28 319.9,31.2 320.8,38.1 321.3,44.4 322.2,57.1 322.8,67.8 323.9,94.4 325.6,143.4 325.9,149.5 326.2,151.9 326.6,152.9 333.8,161.9 333.8,187.1" stroke="#ff8000"/>
<polyline points="307.9,20.2 311.9,20.2 313.9,20.4 315.3,20.8 316.4,21.5 317,22.2 317.6,23 318.4,25 319.3,28.3 319.8,31.5 320.7,38.4 321.2,44.8 322.1,57.5 322.7,68.2 323.8,94.6 325.5,143.5 325.8,149.4 326.1,151.8 326.5,152.8 333.8,162.1 333.8,187.1" stroke="#ff7d00"/>
<polyline points="307.9,20.2 311.6,20.2 313.8,20.4 315.2,20.9 316.3,21.6 316.9,22.3 317.5,23.2 318.3,25.2 319.2,28.5 319.7,31.8 320.6,38.8 321.1,45.2 322,57.9 322.5,68.6 323.7,94.9 325.4,143.5 325.6,149.3 325.9,151.6 326.4,152.6 333.8,162.2 333.8,187.1" stroke="#ff7a00"/>
<polyline points="307.9,20.2 311.5,20.2 313.5,20.4 314.3,20.6 315.2,20.9 316.3,21.7 316.8,22.4 317.4,23.3 318.2,25.4 319.1,28.8 319.6,32.1 320.5,39.2 321,45.6 321.9,58.4 322.4,69 323.6,95.2 325.2,143.5 325.5,149.2 325.8,151.4 326.2,152.4 333.8,162.4 333.8,187.1" stroke="#ff7700"/>
<polyline points="307.8,20.2 311.5,20.2 313.4,20.4 314.8,20.8 315.9,21.5 316.5,22.1 317,22.9 317.9,24.8 318.7,27.7 319.3,30.6 320.1,36.9 320.7,42.6 321.5,54.1 322.1,63.8 323.2,88.4 325.1,143.5 325.4,149.1 325.7,151.2 326.1,152.2 333.8,162.6 333.8,187.1" stroke="#ff7400"/>
<polyline points="307.8,20.2 311.4,20.2 313.4,20.5 314.7,20.9 315.8,21.6 316.4,22.2 317,23.1 317.8,24.9 318.6,28 319.2,30.9 320,37.2 320.6,43 321.4,54.5 321.9,64.2 323.1,88.7 325,143.5 325.3,149 325.5,151 326,152 333.8,162.7 333.8,187.1" stroke="#ff7000"/>
<polyline points="307.8,20.2 311.4,20.3 313.3,20.5 314.7,20.9 315.8,21.7 316.3,22.3 316.9,23.2 317.7,25.1 318.5,28.2 319.1,31.2 319.9,37.6 320.5,43.4 321.3,54.9 321.8,64.6 322.9,88.9 324.9,143.5 325.1,148.8 325.4,150.8 325.9,151.8 333.8,162.9 333.8,187.1" stroke="#ff6b00"/>
<polyline points="307.8,20.2 311,20.2 313,20.5 313.8,20.7 314.6,21 315.7,21.8 316.2,22.4 316.8,23.3 317.6,25.3 318.4,28.5 319,31.5 319.8,38 320.4,43.8 321.2,55.3 321.7,65 322.8,89.2 324.7,143.5 325,148.7 325.3,150.6 325.7,151.5 333.8,163 333.8,187.1" stroke="#ff6700"/>
<polyline points="307.7,20.2 311,20.3 312.9,20.5 313.7,20.7 314.5,21 315.6,21.9 316.2,22.5 316.7,23.5 317.5,25.5 318.4,28.7 318.9,31.8 319.7,38.3 320.3,44.2 321.1,55.7 321.6,65.3 322.7,89.5 324.6,143.5 324.9,148.5 325.2,150.3 325.6,151.3 333.8,163.2 333.8,187.1" stroke="#ff6300"/>
</g>
<path d="M301.7 20.3 H314.3" stroke="#c05a3c" stroke-width="1.7" fill="none"/><path d="M333.8 165.7 V187.1" stroke="#f06838" stroke-width="1.1" fill="none"/><path d="M333.8 187.1 H517.2" stroke="#a08272" stroke-width="1.4" fill="none"/>
<g fill="none" stroke-width="1.3" stroke-linejoin="round">
<polyline points="333.8,370.6" stroke="#003c78"/>
<polyline points="333.5,370.1 333.8,370.1 333.8,370.6" stroke="#004274"/>
<polyline points="333.2,370.2 333.4,369.6 333.8,369.6 333.8,370.6" stroke="#004770"/>
<polyline points="333.1,370.3 333.4,369.1 333.8,369.1 333.8,370.6" stroke="#004d6d"/>
<polyline points="333,370.3 333.4,368.6 333.8,368.6 333.8,370.6" stroke="#005369"/>
<polyline points="333,370.3 333.3,368.1 333.8,368.1 333.8,370.6" stroke="#005965"/>
<polyline points="332.9,370.3 333.3,367.6 333.8,367.5 333.8,370.6" stroke="#005e61"/>
<polyline points="332.9,370.3 333.3,366.8 333.8,366.8 333.8,370.6" stroke="#00645d"/>
<polyline points="332.8,370.4 333.2,365.6 333.8,365.6 333.8,370.6" stroke="#006a5a"/>
<polyline points="332.7,370.4 332.9,369.8 333.1,365.3 333.2,364.5 333.8,364.5 333.8,370.6" stroke="#006f56"/>
<polyline points="332.7,370.4 332.8,369.9 333,364.4 333.2,363.4 333.8,363.4 333.8,370.6" stroke="#007552"/>
<polyline points="332.6,370.5 332.8,370 332.9,367.9 333,363.4 333.1,362.3 333.8,362.3 333.8,370.6" stroke="#017b4e"/>
<polyline points="332.6,370.5 332.7,370 332.8,367.9 333,362.4 333.1,361.1 333.8,361.1 333.8,370.6" stroke="#04804a"/>
<polyline points="332.7,370.1 332.8,368 332.9,361.4 333.1,360 333.8,360 333.8,370.6" stroke="#068547"/>
<polyline points="332.5,370.1 332.6,368.9 332.7,365.6 332.9,359.9 333,358.9 333.8,358.9 333.8,370.6" stroke="#098a43"/>
<polyline points="332.3,370.1 332.6,367.2 332.9,358.6 333,357.7 333.8,357.7 333.8,370.6" stroke="#0b8f3f"/>
<polyline points="331.9,370.4 332.2,369.5 332.4,368.1 332.8,357.4 333,356.6 333.8,356.6 333.8,370.6" stroke="#0e943b"/>
<polyline points="331.8,370.1 332.1,368.6 332.3,366.8 332.8,356.3 332.9,355.5 333.8,355.5 333.8,370.6" stroke="#109937"/>
<polyline points="331.6,370.1 331.9,369 332.2,365.5 332.7,355.1 332.9,354.4 333.8,354.3 333.8,370.6" stroke="#139e33"/>
<polyline points="331.3,370.2 331.7,369.2 332,366.6 332.7,353.8 332.9,353.1 333.8,353 333.8,370.6" stroke="#15a132"/>
<polyline points="331.1,370.2 331.4,369.4 331.6,368.6 332,365.4 332.7,352.4 332.8,351.6 333.8,351.6 333.8,370.6" stroke="#16a231"/>
<polyline points="330.8,370.2 331.2,369.5 331.3,368.9 331.7,366.4 332.1,361.3 332.6,351 332.8,350.2 333,350.1 333.8,350.1 333.8,370.6" stroke="#17a331"/>
<polyline points="330.5,370.2 330.9,369.7 331.1,369.1 331.5,367.1 331.6,365.4 332.6,349.5 332.8,348.8 333,348.7 333.8,348.7 333.8,370.6" stroke="#18a430"/>
<polyline points="330.2,370.3 330.6,369.8 330.8,369.3 331.2,367.7 331.4,366.3 331.8,361.8 332.5,348.1 332.7,347.3 332.9,347.2 333.8,347.2 333.8,370.6" stroke="#19a52f"/>
<polyline points="330.1,370.1 330.5,369.5 330.7,369 331.1,367 331.3,365.4 331.7,360.6 332.5,346.7 332.7,345.9 332.9,345.8 333.8,345.7 333.8,370.6" stroke="#1aa52f"/>
<polyline points="329.8,370.2 330.2,369.7 330.6,368.6 331,366.4 331.2,364.6 331.7,359.3 332.5,345.2 332.7,344.4 332.9,344.3 333.8,344.3 333.8,370.6" stroke="#1ba62e"/>
<polyline points="329.5,370.2 329.9,369.8 330.3,368.9 330.7,367.1 331,365.7 331.4,361.2 332.2,346.2 332.4,343.7 332.6,343 332.9,342.9 333.8,342.8 333.8,370.6" stroke="#1ca72e"/>
<polyline points="329.4,370.1 329.8,369.6 330.2,368.6 330.7,366.6 330.9,364.9 331.3,360.1 332.2,344.6 332.4,342.3 332.6,341.6 332.8,341.4 333.8,341.4 333.8,370.6" stroke="#1da82d"/>
<polyline points="329,370.2 329.5,369.8 329.7,369.4 330.1,368.2 330.6,366 330.8,364.2 331.2,359 332.1,343.1 332.4,340.8 332.6,340.1 332.8,340 333.8,339.9 333.8,370.6" stroke="#1ea92d"/>
<polyline points="328.9,370.1 329.4,369.6 329.6,369.2 330,367.9 330.5,365.3 330.7,363.4 331.2,357.9 332.1,341.6 332.3,339.3 332.5,338.7 332.8,338.5 333.8,338.5 333.8,370.6" stroke="#20aa2c"/>
<polyline points="328.5,370.2 329.2,369.5 329.7,368.4 330.2,366.3 330.4,364.7 331.1,356.8 332,340.1 332.3,337.9 332.5,337.2 332.7,337.1 333.7,337 333.8,337.2 333.8,370.6" stroke="#21ab2c"/>
<polyline points="328.4,370.1 328.9,369.7 329.1,369.3 329.6,368 330.1,365.7 330.3,364 331,355.7 332,338.6 332.2,336.4 332.5,335.8 332.7,335.6 333.7,335.6 333.8,337.2 333.8,370.6" stroke="#22ac2b"/>
<polyline points="328,370.2 328.8,369.5 329.3,368.5 329.8,366.6 330.2,363.3 331,354.5 332,337.1 332.2,335 332.4,334.3 332.7,334.2 333.7,334.1 333.8,337.2 333.8,370.6" stroke="#23ad2b"/>
<polyline points="327.9,370.1 328.4,369.7 328.7,369.3 329.2,368.2 329.7,366.1 330.2,362.6 330.7,357 331.9,335.6 332.2,333.5 332.4,332.9 332.7,332.7 333.7,332.7 333.8,337.2 333.8,370.6" stroke="#24ae2a"/>
<polyline points="327.5,370.2 328.3,369.5 328.8,368.5 329.3,366.7 329.8,363.7 330.6,355.7 331.6,337.9 331.9,334.1 332.1,332.1 332.4,331.4 332.6,331.3 333.7,331.2 333.8,337.2 333.8,370.6" stroke="#25af2a"/>
<polyline points="327.1,370.2 327.9,369.6 328.4,368.7 328.9,367.2 329.5,364.7 330,360.6 330.5,354.4 331.8,332.6 332.1,330.6 332.3,330 332.6,329.8 333.7,329.8 333.8,337.2 333.8,370.6" stroke="#26b029"/>
<polyline points="326.9,370.1 327.7,369.4 328.3,368.5 328.5,367.8 329.1,365.7 329.6,362.2 330.4,353.4 331.5,335.1 331.8,331.3 332,329.2 332.3,328.6 332.6,328.4 333.7,328.3 333.8,337.2 333.8,370.6" stroke="#27b128"/>
<polyline points="326.4,370.2 327.3,369.6 327.8,368.9 328.1,368.3 328.6,366.5 329.2,363.6 329.8,359.1 330.3,352.5 331.7,329.9 332,327.8 332.3,327.1 332.5,326.9 333.7,326.8 333.8,337.2 333.8,370.6" stroke="#29b228"/>
<polyline points="326.2,370.1 327.1,369.5 327.6,368.7 327.9,368 328.5,366.2 329.1,363.1 329.6,358.3 330.2,351.4 331.6,328.3 331.9,326.2 332.2,325.4 332.5,325.2 333.6,325.1 333.8,337.2 333.8,370.6" stroke="#2db426"/>
<polyline points="325.7,370.2 326.6,369.7 327.2,369 327.5,368.5 328.1,366.9 328.6,364.3 329.2,360.3 329.8,354.2 331.6,326.8 331.9,324.6 332.2,323.7 332.5,323.5 333.6,323.4 333.8,337.2 333.8,370.6" stroke="#30b625"/>
<polyline points="325.5,370.2 326.4,369.6 327,368.8 327.3,368.2 327.9,366.6 328.5,363.8 329.1,359.6 329.7,353.3 331.5,325.2 331.8,322.9 332.1,322.1 332.4,321.8 333.6,321.7 333.8,337.2 333.8,370.6" stroke="#34b724"/>
<polyline points="325,370.2 325.6,369.9 326.2,369.5 326.8,368.6 327.1,368 327.7,366.2 328.4,363.4 329,358.9 329.6,352.4 331.5,323.7 331.8,321.3 332.1,320.4 332.4,320.1 333.6,320 333.8,337.2 333.8,370.6" stroke="#38b923"/>
<polyline points="324.7,370.2 325.4,369.9 326,369.3 326.6,368.5 327,367.8 327.6,365.9 328.2,362.9 328.9,358.2 329.5,351.5 331.4,322.1 331.7,319.7 332,318.7 332.4,318.4 332.7,318.4 333.6,318.3 333.8,337.2 333.8,370.6" stroke="#3cbb21"/>
<polyline points="324.5,370.1 325.2,369.8 325.8,369.2 326.5,368.3 326.8,367.6 327.4,365.6 328.1,362.4 328.7,357.5 329.4,350.6 331.3,320.6 331.7,318.1 332,317.1 332.3,316.8 332.7,316.7 333.6,316.6 333.8,337.2 333.8,370.6" stroke="#40bc20"/>
<polyline points="323.9,370.2 324.6,369.9 325.3,369.5 326,368.7 326.3,368.1 327,366.4 327.3,365.2 328,361.9 328.6,356.8 329.3,349.7 331.3,319 331.6,316.5 332,315.4 332.3,315.1 332.6,315 333.6,314.9 333.8,337.2 333.8,370.6" stroke="#44be1f"/>
<polyline points="323.7,370.2 324.4,369.9 325.1,369.4 325.8,368.5 326.1,367.9 326.8,366.1 327.1,364.9 327.8,361.4 328.5,356.1 329.2,348.8 331.2,317.5 331.6,314.8 331.9,313.7 332.3,313.4 332.6,313.3 333.6,313.2 333.8,337.2 333.8,370.6" stroke="#47c01e"/>
<polyline points="323.5,370.1 324.2,369.8 324.9,369.3 325.6,368.3 325.9,367.7 326.6,365.8 327,364.5 327.7,360.9 328.4,355.5 329.1,347.9 331.2,315.9 331.5,313.2 331.9,312.1 332.2,311.7 332.6,311.6 333.6,311.6 333.8,337.2 333.8,370.6" stroke="#4bc11c"/>
<polyline points="322.9,370.2 323.6,369.9 324.3,369.5 325,368.7 325.4,368.2 326.1,366.6 326.5,365.5 327.2,362.5 327.9,357.8 328.3,354.8 329,347 331.1,314.4 331.5,311.6 331.8,310.4 332.2,310 332.5,309.9 333.6,309.9 333.8,337.2 333.8,370.6" stroke="#4fc31b"/>
<polyline points="322.7,370.2 323.4,369.9 324.1,369.4 324.8,368.6 325.2,368 325.9,366.4 326.3,365.3 327,362.1 327.8,357.2 328.1,354.1 328.9,346.1 331,312.8 331.4,310 331.8,308.8 332.1,308.3 332.5,308.2 333.6,308.2 333.8,337.2 333.8,370.6" stroke="#53c51a"/>
<polyline points="322.4,370.2 323.2,369.9 323.9,369.4 324.7,368.6 325,368 325.8,366.3 326.2,365.2 326.9,361.9 327.6,357 328,353.8 328.7,345.7 329.5,335.2 330.6,316.7 331,311.7 331.3,308.6 331.7,307.2 332.1,306.7 332.5,306.5 333.6,306.5 333.8,335.8 333.8,370.6" stroke="#57c618"/>
<polyline points="322.2,370.2 323,369.9 323.7,369.4 324.5,368.6 324.9,368 325.6,366.3 326,365.1 326.8,361.8 327.5,356.9 327.9,353.6 328.6,345.3 329.4,334.7 330.5,315.8 330.9,310.5 331.3,307.2 331.6,305.6 332,305 332.4,304.8 333.7,304.8 333.8,370.6" stroke="#5ac817"/>
<polyline points="322,370.2 322.8,369.9 323.6,369.4 324.3,368.5 324.7,368 325.5,366.3 325.9,365.1 326.6,361.7 327.4,356.7 327.8,353.4 328.5,345 329.3,334.2 330.4,314.9 330.8,309.4 331.2,305.8 331.6,304 331.9,303.4 332.3,303.2 333.7,303.1 333.8,370.6" stroke="#5ec916"/>
<polyline points="321.8,370.2 322.6,369.9 323.4,369.4 324.2,368.5 324.5,367.9 325.3,366.2 325.7,365 326.5,361.7 327.2,356.6 327.6,353.2 328.4,344.7 329.2,333.7 330.3,314.1 330.7,308.4 331.1,304.5 331.5,302.5 331.9,301.7 332.3,301.5 333.7,301.4 333.8,370.6" stroke="#62cb15"/>
<polyline points="321.6,370.2 322.4,369.9 323.2,369.4 324,368.5 324.4,367.9 325.2,366.2 325.5,365 326.3,361.6 327.1,356.4 327.5,353 328.3,344.3 329.1,333.1 330.6,307.1 331,302.9 331.4,300.7 331.8,299.8 332.2,299.5 333.6,299.4 333.8,337.2 333.8,370.6" stroke="#69ce13"/>
<polyline points="321.4,370.2 322.6,369.6 323.4,369 324.2,367.9 324.6,367.2 325.4,364.9 325.8,363.4 326.6,359.1 327.4,352.7 328.2,343.9 329,332.4 330.6,305.5 331,301 331.4,298.5 331.8,297.5 332.1,297.2 332.5,297.1 333.6,297 333.8,337.2 333.8,370.6" stroke="#73d111"/>
<polyline points="321.2,370.2 322.4,369.6 323.2,369 324,367.9 324.4,367.1 325.2,364.9 325.7,363.3 326.5,358.9 327.3,352.4 328.1,343.4 328.9,331.7 330.5,303.9 330.9,299.1 331.3,296.4 331.7,295.3 332.1,294.9 332.5,294.7 333.5,294.7 333.7,299 333.8,370.6" stroke="#7ed40e"/>
<polyline points="321,370.2 322.2,369.7 323.1,369 323.9,367.9 324.3,367.1 325.1,364.9 325.5,363.3 326.3,358.8 327.1,352.2 328,343 328.8,331 330.4,302.4 330.8,297.2 331.2,294.3 331.6,293 332,292.6 332.4,292.4 333.7,292.3 333.8,370.6" stroke="#89d70c"/>
<polyline points="320.8,370.2 322.1,369.7 322.9,369 323.7,367.9 324.1,367.1 325,364.8 325.4,363.2 326.2,358.7 327,352 327.8,342.6 328.7,330.4 330.3,301.1 330.7,295.6 331.1,292.3 331.5,290.8 331.9,290.3 332.4,290.1 333.6,290 333.8,370.6" stroke="#93db0a"/>
<polyline points="320.7,370.2 321.9,369.6 322.8,369 323.6,367.8 324,367 324.8,364.7 325.2,363.1 326.1,358.5 326.9,351.8 327.3,347.5 328.1,336.6 330.2,300.5 330.6,294.5 331,290.7 331.4,288.8 331.8,288 332.2,287.8 333.5,287.6 333.7,296.4 333.8,370.6" stroke="#9ede07"/>
<polyline points="320.6,370.1 321.8,369.6 322.6,368.9 323.5,367.7 323.9,366.9 324.7,364.6 325.1,362.9 325.9,358.3 326.8,351.5 327.6,342.1 328.4,329.9 330.1,299.9 330.5,293.5 330.9,289.1 331.3,286.8 331.7,285.8 332.1,285.5 332.5,285.4 333.6,285.3 333.8,370.6" stroke="#a8e105"/>
<polyline points="320.4,370.1 321.7,369.5 322.5,368.8 323.3,367.7 323.7,366.8 324.6,364.4 325,362.7 325.8,358.1 326.6,351.2 327,346.9 327.9,336 328.7,322.5 329.9,299.4 330.4,292.6 330.8,287.7 331.2,285 331.6,283.7 332,283.2 332.4,283 333.5,283 333.7,288.3 333.8,370.6" stroke="#b3e502"/>
<polyline points="319.9,370.2 321.1,369.8 322,369.2 322.8,368.3 323.6,366.7 324.4,364.3 324.9,362.6 325.7,357.9 326.5,351 326.9,346.6 327.7,335.7 328.6,322.2 330.2,291.9 330.6,286.5 331.1,283.2 331.5,281.6 331.9,281 332.3,280.7 333.6,280.6 333.8,370.6" stroke="#bde800"/>
<polyline points="319.8,370.2 321,369.7 321.8,369.1 322.7,368.1 323.5,366.4 324.3,363.8 324.7,362 325.6,357 326.4,349.8 326.8,345.1 327.6,333.7 328.5,319.4 330.1,287 330.5,280.8 330.9,276.9 331.4,274.8 331.8,273.9 332.2,273.6 332.6,273.5 333.5,273.4 333.7,278.3 333.8,370.6" stroke="#c7eb00"/>
<polyline points="319.6,370.1 320.9,369.6 321.7,369 322.5,367.9 323.4,366.2 324.2,363.4 324.6,361.5 325.4,356.2 326.3,348.5 326.7,343.6 327.5,331.5 328.3,316.5 330,282 330.4,275.1 330.8,270.4 331.2,267.8 331.6,266.6 332.1,266.1 332.5,265.9 333.6,265.8 333.8,370.6" stroke="#d0ee00"/>
<polyline points="319.5,370.1 320.7,369.6 321.6,368.9 322.4,367.7 323.2,365.9 324.1,363 324.5,361 325.3,355.4 326.1,347.4 326.5,342.2 327.4,329.6 328.2,313.8 329.9,277.3 330.3,269.6 330.7,264.1 331.1,260.9 331.5,259.4 331.9,258.7 332.4,258.4 333.5,258.3 333.7,271 333.8,370.6" stroke="#d9f100"/>
<polyline points="318.9,370.2 320.2,369.8 321,369.2 321.8,368.3 322.7,366.8 323.5,364.3 323.9,362.6 324.8,357.9 325.2,354.7 326,346.3 326.4,340.9 327.3,327.7 328.1,311.2 329.7,272.8 330.6,258.1 331,254.2 331.4,252.2 331.8,251.3 332.2,251 332.7,250.8 333.6,250.7 333.8,370.6" stroke="#e2f400"/>
<polyline points="318.9,370.1 320.1,369.6 320.9,369 321.8,367.9 322.6,366.2 323.4,363.6 323.8,361.7 324.6,356.7 325.1,353.3 325.9,344.5 326.3,339 327.1,325.4 327.9,308.8 329.6,269.8 330.4,254 330.8,249.5 331.2,247 331.7,245.8 332.1,245.3 332.5,245.1 333.4,245 333.6,248.3 333.8,370.6" stroke="#ebf700"/>
<polyline points="318.4,370.1 319.7,369.6 320.5,369 321.3,368.1 322.1,366.6 322.9,364.3 323.3,362.7 324.1,358.4 324.5,355.5 325.4,348 325.8,343.3 327,324.6 327.8,308.5 329.8,262.4 330.2,255.3 330.6,250.4 331.1,247.5 331.5,246.1 331.9,245.4 332.1,245.2 332.5,245 333.4,244.9 333.7,252.3 333.8,370.6" stroke="#f4fa00"/>
<polyline points="318,370.1 319.2,369.6 320.4,368.7 321.2,367.7 322,366 322.8,363.5 323.2,361.8 324,357.3 324.4,354.3 325.2,346.7 325.6,342 326.8,323.7 327.6,308.2 329.7,263.9 330.1,256.7 330.5,251.4 330.9,248.1 331.3,246.3 331.7,245.5 332.1,245 332.6,244.9 333.5,244.8 333.7,259.8 333.8,370.6" stroke="#f6f900"/>
<polyline points="317.6,370.1 318.8,369.7 320,368.8 320.8,367.8 321.2,367.2 322,365.3 322.7,362.7 323.1,360.9 323.9,356.2 324.3,353.1 325.5,340.8 326.7,322.9 327.9,299.8 329.5,265.3 330.3,252.5 330.7,248.8 331.1,246.7 331.5,245.6 331.7,245.3 332.1,244.9 332.6,244.7 333.5,244.7 333.7,270.2 333.8,370.6" stroke="#f7f800"/>
<polyline points="317.2,370.1 318.4,369.7 319.5,368.9 320.3,368 321.1,366.6 321.9,364.6 322.7,361.8 323.4,357.7 323.8,355 325,344.3 326.2,328.5 327.4,307.7 329.3,266.6 330.1,253.7 330.5,249.7 330.9,247.2 331.3,245.8 331.5,245.4 331.9,244.9 332.6,244.6 333.5,244.5 333.7,286 333.8,370.6" stroke="#f9f700"/>
<polyline points="316.4,370.2 318,369.7 319.1,368.9 320.3,367.5 321,366 321.8,363.9 322.6,360.8 323.4,356.6 323.7,353.9 324.9,343.1 326.1,327.6 327.2,307.5 329.5,260.9 330.3,250.6 330.7,247.8 331.1,246.1 331.3,245.6 331.7,244.9 332.2,244.6 333.5,244.4 333.7,300.1 333.8,370.6" stroke="#fbf600"/>
<polyline points="316.1,370.2 317.6,369.7 318.7,368.9 319.9,367.7 320.6,366.3 321.4,364.4 322.1,361.6 323.3,355.5 324,349.6 324.8,341.9 325.9,326.7 327.1,307.3 329.3,262.2 330.1,251.6 330.5,248.5 330.8,246.5 331.3,245.3 331.7,244.7 332.2,244.5 333.5,244.3 333.8,311.3 333.8,370.6" stroke="#fcf500"/>
<polyline points="315.7,370.2 317.2,369.7 318.3,369 319.4,367.8 320.2,366.5 320.9,364.8 321.7,362.3 322.4,358.9 323.2,354.4 323.9,348.4 324.7,340.7 325.8,325.9 326.9,307.1 329.1,263.6 329.9,252.7 330.3,249.3 330.6,247 331.1,245.5 331.5,244.8 332,244.4 332.7,244.2 333.6,244.2 333.8,370.6" stroke="#fef400"/>
<polyline points="315.7,370.1 317.2,369.6 318.3,368.8 319.4,367.6 320.1,366.3 320.9,364.5 321.6,362 322.3,358.6 323.1,354.1 323.8,348.1 324.6,340.5 325.7,325.9 326.8,307.6 329,264.7 329.7,253.6 330.1,249.9 330.4,247.4 330.9,245.7 331.3,244.8 331.8,244.4 332.5,244.1 333.6,244.1 333.8,370.6" stroke="#fff200"/>
<polyline points="315.4,370.2 316.9,369.7 317.6,369.3 318.3,368.8 319.4,367.5 320.1,366.2 320.8,364.4 321.5,361.9 322.3,358.4 323,353.9 323.7,348 324.4,340.4 325.5,326 326.6,307.8 328.8,265.4 329.5,254.1 329.9,250.2 330.4,246.5 330.7,245.7 331.1,244.7 331.6,244.3 332,244.1 333.6,243.9 333.8,370.6" stroke="#ffed00"/>
<polyline points="315.5,370.1 316.9,369.7 317.6,369.3 318.3,368.7 319.4,367.4 320.1,366.1 320.8,364.2 321.5,361.7 322.2,358.3 322.9,353.7 323.6,347.8 324.3,340.3 325.4,326 326.5,308.1 328.6,266 329.3,254.6 329.6,250.6 330.2,246.6 330.5,245.7 330.9,244.7 331.4,244.2 331.8,244 332.5,243.9 333.6,243.8 333.8,370.6" stroke="#ffe800"/>
<polyline points="315.5,370.1 316.9,369.6 317.6,369.2 318.3,368.7 319.3,367.3 320,366 320.7,364.1 321.4,361.5 322.1,358.1 322.8,353.5 323.5,347.7 324.2,340.2 325.3,326.1 326.3,308.3 328.4,266.7 329.1,255.1 329.4,251 330,246.8 330.2,245.8 330.7,244.7 331.1,244.1 331.6,243.9 332.3,243.7 333.6,243.7 333.8,370.6" stroke="#ffe300"/>
<polyline points="315.5,370.1 316.9,369.6 317.9,368.9 319,367.7 319.6,366.6 320.3,365 321,362.8 321.7,359.8 322.4,355.8 323.1,350.6 323.8,344 324.4,335.9 325.1,326.1 326.1,308.6 328.5,261.1 329.2,251.4 329.8,246.9 330,245.9 330.5,244.6 330.9,244 331.4,243.8 332,243.6 333.4,243.6 333.6,243.7 333.8,370.6" stroke="#ffde00"/>
<polyline points="315.3,370.2 316.6,369.7 317.3,369.3 317.9,368.8 318.9,367.6 319.6,366.5 320.3,364.8 321,362.6 321.6,359.6 322.3,355.6 323,350.4 323.6,343.9 325,326.1 326.3,302.4 328.3,261.8 329,251.9 329.6,247.1 329.8,246 330.3,244.6 330.7,244 331.2,243.7 331.8,243.5 333.4,243.5 333.6,244.2 333.8,370.6" stroke="#ffd900"/>
<polyline points="315.3,370.1 316.6,369.7 317.3,369.3 317.9,368.8 318.9,367.5 319.6,366.3 320.2,364.7 320.9,362.4 321.6,359.4 322.2,355.4 322.9,350.3 323.5,343.7 324.9,326.2 326.2,302.8 328.2,262.5 328.8,252.4 329.1,249.1 329.6,246.1 329.8,245.2 330.3,244.2 330.7,243.7 331.2,243.5 331.8,243.4 333.4,243.3 333.6,245.9 333.8,370.6" stroke="#ffd500"/>
<polyline points="315.3,370.1 316.6,369.7 317.2,369.3 317.9,368.7 318.9,367.5 319.5,366.3 320.2,364.6 320.8,362.4 321.5,359.4 322.1,355.3 322.8,350.2 323.4,343.6 324.7,326.1 326,302.7 328,262.5 328.7,252.4 329,249 329.2,247.3 329.7,245.1 329.9,244.5 330.3,243.8 330.8,243.5 331.2,243.3 333.5,243.2 333.7,264.3 333.8,370.6" stroke="#ffcf00"/>
<polyline points="315.2,370.1 316.5,369.7 317.1,369.3 317.8,368.7 318.8,367.5 319.4,366.3 320.1,364.6 320.7,362.4 321.4,359.3 322,355.3 322.7,350.1 323.3,343.6 324.6,326 325.9,302.6 327.9,262.4 328.5,252.3 328.8,248.9 329.1,247.2 329.5,245 329.7,244.4 330.2,243.7 330.6,243.3 331.1,243.2 333.5,243.1 333.8,315.2 333.8,370.6" stroke="#ffca00"/>
<polyline points="315.1,370.1 316.4,369.7 317.1,369.3 317.7,368.7 318.7,367.5 319.3,366.3 320,364.6 320.6,362.3 321.3,359.3 321.9,355.2 322.6,350 323.2,343.5 324.5,325.9 325.8,302.4 327.7,262.2 328.4,252.2 328.7,248.8 328.9,247 329.4,244.9 329.6,244.2 330,243.5 330.5,243.2 330.9,243.1 333.4,243 333.6,244 333.8,370.6" stroke="#ffc500"/>
<polyline points="315.1,370.1 316.4,369.6 317,369.3 317.6,368.7 318.6,367.5 319.2,366.3 319.9,364.6 320.5,362.3 321.2,359.2 321.8,355.2 322.4,350 323.1,343.4 324.4,325.8 325.6,302.3 327.6,262.1 328.2,252 328.5,248.7 328.7,246.9 329.2,244.7 329.4,244.1 329.9,243.4 330.3,243.1 331,242.9 333.5,242.9 333.7,262.2 333.8,370.6" stroke="#ffc000"/>
<polyline points="315,370.1 316.3,369.6 316.9,369.3 317.6,368.7 318.5,367.5 319.2,366.2 319.8,364.5 320.4,362.3 321.1,359.2 321.7,355.1 322.3,349.9 323,343.3 324.2,325.6 325.5,302.2 327.4,262 328.1,251.9 328.4,248.5 328.6,246.8 329,244.6 329.3,244 329.7,243.3 330.2,243 330.8,242.8 333.5,242.7 333.8,309.7 333.8,370.6" stroke="#ffbb00"/>
<polyline points="315,370.1 316.2,369.6 316.9,369.2 317.5,368.7 318.4,367.5 319.1,366.2 319.7,364.5 320.3,362.2 321,359.1 321.6,355.1 322.2,349.8 322.9,343.2 324.1,325.5 325.4,302 327.3,261.8 327.9,251.8 328.2,248.4 328.4,246.7 328.9,244.5 329.1,243.8 329.6,243.1 330,242.8 330.7,242.7 333.4,242.6 333.6,243.7 333.8,370.6" stroke="#ffb600"/>
<polyline points="314.9,370.1 316.2,369.6 316.8,369.2 317.4,368.7 318.3,367.4 319.3,365.4 320.2,362.2 320.9,359.1 321.5,355 322.1,349.8 323.1,339.3 324,325.4 325.2,301.9 327.1,261.7 327.8,251.7 328.3,246.5 328.5,245.3 329,243.7 329.2,243.3 329.6,242.8 330.1,242.6 330.8,242.5 333.5,242.5 333.7,260.4 333.8,370.6" stroke="#ffb100"/>
<polyline points="314.9,370.1 316.1,369.6 316.7,369.2 317.4,368.7 318.3,367.4 319.2,365.4 320.2,362.1 320.8,359 321.4,354.9 322,349.6 322.9,339.1 323.9,325.2 325.1,301.7 327,261.5 327.6,251.5 328.1,246.4 328.4,245.1 328.8,243.6 329,243.2 329.5,242.7 329.9,242.5 330.6,242.4 333.5,242.4 333.8,307.1 333.8,370.6" stroke="#ffab00"/>
<polyline points="314.5,370.2 316.1,369.6 316.7,369.2 317.3,368.6 318.2,367.4 319.2,365.3 320.1,362 320.7,358.9 321.3,354.8 321.9,349.5 322.8,339 323.8,325 325,301.5 326.8,261.4 327.5,251.4 328,246.3 328.2,245 328.7,243.4 328.9,243 329.3,242.6 329.8,242.4 330.5,242.3 333.4,242.3 333.6,243.4 333.8,370.6" stroke="#ffa600"/>
<polyline points="314.5,370.2 316,369.6 316.7,369.2 317.3,368.6 318.2,367.3 319.1,365.3 320,362 320.6,358.8 321.2,354.7 321.8,349.4 322.7,338.8 323.7,324.8 324.9,301.3 326.7,261.2 327.3,251.3 327.8,246.1 328.1,244.8 328.5,243.3 328.7,242.9 329.2,242.5 329.6,242.3 330.3,242.2 333.5,242.1 333.7,258.6 333.8,370.6" stroke="#ffa100"/>
<polyline points="314.5,370.2 316,369.6 316.6,369.2 317.2,368.6 318.1,367.3 319,365.2 319.9,361.9 320.5,358.7 321.1,354.6 321.7,349.2 322.6,338.6 323.5,324.6 324.5,307.4 326.6,261.1 327.2,251.2 327.7,246 327.9,244.7 328.4,243.2 328.6,242.8 329,242.3 329.5,242.1 330.2,242.1 333.5,242 333.8,304.5 333.8,370.6" stroke="#ff9d00"/>
<polyline points="314.5,370.2 315.7,369.7 316.9,368.9 317.8,367.8 318.7,366 319.6,363.1 320.2,360.3 320.7,356.7 321.3,351.9 321.9,345.9 322.5,338.4 323.4,324.4 324.3,307.2 326.4,260.9 327,251 327.5,245.9 327.8,244.6 328.2,243 328.4,242.6 328.9,242.2 329.3,242 330,241.9 333.4,241.9 333.6,243.8 333.8,370.6" stroke="#ff9a00"/>
<polyline points="314.4,370.2 315.6,369.7 316.8,368.9 317.7,367.7 318.6,365.9 319.5,363 320.1,360.2 320.7,356.5 321.3,351.8 321.8,345.7 322.4,338.2 323.3,324.2 324.2,307 326.3,260.7 326.9,250.9 327.4,245.7 327.6,244.4 328.1,242.9 328.3,242.5 328.8,242.1 329.2,241.9 329.9,241.8 333.5,241.8 333.7,274.5 333.8,370.6" stroke="#ff9700"/>
<polyline points="314.4,370.1 315.5,369.7 316.7,368.8 317.6,367.7 318.5,365.9 319.4,362.9 320,360.1 320.6,356.4 321.2,351.6 321.7,345.5 322.3,338 323.2,324 324.1,306.7 326.2,260.5 326.8,250.7 327.3,245.6 327.5,244.3 328,242.8 328.2,242.4 328.6,242 329.1,241.8 329.8,241.7 333.4,241.7 333.6,254.1 333.8,370.6" stroke="#ff9400"/>
<polyline points="314.3,370.1 315.5,369.7 316.6,368.8 317.5,367.7 318.4,365.8 319.3,362.9 319.9,360 320.5,356.3 321.1,351.5 321.6,345.4 322.2,337.8 323.1,323.8 324,306.5 326.1,260.4 326.6,250.6 327.2,245.5 327.4,244.2 327.8,242.7 328.1,242.3 328.5,241.8 329,241.7 329.6,241.6 333,241.5 333.2,243 333.5,258 333.7,306.2 333.8,370.6" stroke="#ff9100"/>
<polyline points="314.2,370.1 315.4,369.7 316.6,368.8 317.5,367.6 318.3,365.8 319.2,362.8 319.8,359.9 320.4,356.2 321,351.3 321.5,345.2 322.1,337.6 323,323.5 323.9,306.2 325.9,260.2 326.5,250.4 327,245.3 327.3,244 327.7,242.5 327.9,242.1 328.4,241.7 328.8,241.5 329.5,241.5 332.9,241.4 333.1,245.7 333.3,259.6 333.6,296.4 333.8,370.6" stroke="#ff8e00"/>
<polyline points="314.2,370.1 315.3,369.7 316.5,368.8 317.4,367.6 318.2,365.7 319.1,362.7 319.7,359.8 320.3,356.1 320.9,351.2 322,337.4 322.9,323.3 323.8,306 325.8,260 326.4,250.3 326.9,245.2 327.4,243 327.8,242 328.3,241.6 328.7,241.4 329.4,241.3 332.5,241.3 332.8,243 333,248.5 333.2,260.5 333.7,317.2 333.8,370.6" stroke="#ff8b00"/>
<polyline points="314.1,370.1 315.3,369.7 316.4,368.8 317.3,367.6 318.2,365.7 319,362.6 319.6,359.7 320.2,355.9 320.8,351 321.9,337.2 322.8,323.1 323.7,305.8 325.7,259.8 326.3,250.2 326.8,245.1 327.2,242.9 327.7,241.9 328.1,241.5 328.6,241.3 329.3,241.2 332.2,241.2 332.4,242 332.6,244.1 332.9,250.2 333.1,261 333.5,305.6 333.8,370.6" stroke="#ff8900"/>
<polyline points="314.1,370.1 315.2,369.6 316.4,368.7 317.2,367.5 318.1,365.6 318.9,362.5 319.5,359.6 320.1,355.8 320.7,350.9 321.5,341 322.4,327.9 323.6,305.5 325.6,259.6 326.1,250 326.7,244.9 327.1,242.8 327.3,242.2 327.8,241.5 328.2,241.2 328.9,241.1 331.8,241.1 332.1,241.3 332.5,246 332.7,251.4 333,261.4 333.6,323.9 333.8,370.6" stroke="#ff8600"/>
<polyline points="314,370.1 315.1,369.6 316.3,368.7 317.1,367.5 318,365.5 318.9,362.5 319.4,359.5 320,355.7 320.6,350.7 321.4,340.8 322.3,327.7 323.4,305.3 325.4,259.5 326,249.9 326.5,244.8 327,242.6 327.2,242 327.7,241.4 328.1,241.1 328.8,241 331.7,241 332.2,243.8 332.4,247.6 332.6,252.5 332.8,261.6 333.5,309.8 333.8,370.6" stroke="#ff8300"/>
<polyline points="313.6,370.2 315.1,369.6 316.2,368.7 317.1,367.4 317.9,365.5 318.8,362.4 319.3,359.4 319.9,355.5 320.5,350.5 321.3,340.6 322.2,327.5 323.3,305 325.3,259.3 325.9,249.7 326.4,244.7 326.9,242.5 327.1,241.9 327.5,241.3 328,241 328.4,240.9 331.3,240.8 331.6,241.7 332,244.7 332.5,253.8 332.7,261.8 333.4,305.4 333.6,327.3 333.8,370.6" stroke="#ff8000"/>
<polyline points="313.6,370.2 314.7,369.7 315.9,368.9 316.7,367.9 317.6,366.2 318.1,364.5 318.7,362.3 319.3,359.3 319.8,355.4 320.4,350.4 321,344.1 322.1,327.2 323.2,304.8 325.2,259.1 325.8,249.6 326.1,246.4 326.5,243.3 326.7,242.4 327.2,241.4 327.6,241 328.1,240.8 331,240.7 331.2,241.3 331.7,243.6 331.9,246.1 332.3,254.9 332.6,262 333.5,314.9 333.8,370.6" stroke="#ff7d00"/>
<polyline points="313.5,370.2 314.7,369.7 315.8,368.9 316.6,367.9 317.5,366.1 318,364.5 318.6,362.2 319.2,359.2 319.7,355.3 320.3,350.2 320.9,343.9 322,327 323.1,304.5 325.1,258.9 325.6,249.4 325.9,246.2 326.4,243.1 326.6,242.2 327.1,241.3 327.5,240.9 327.9,240.7 330.6,240.6 330.9,240.9 331.5,244.1 332,250.6 332.4,262.1 333.3,308.4 333.6,329.5 333.8,370.6" stroke="#ff7a00"/>
<polyline points="313.5,370.1 314.6,369.7 315.7,368.9 316.6,367.8 317.4,366.1 318,364.4 318.5,362.1 319.1,359.1 319.6,355.1 320.2,350 320.8,343.7 321.9,326.7 323,304.2 325,258.7 325.5,249.3 325.8,246.1 326.2,243 326.5,242.1 326.9,241.1 327.4,240.7 327.8,240.6 330.3,240.5 330.5,240.6 331.2,243.5 331.4,245.2 331.9,251.2 332.3,262.2 333.4,319 333.8,370.6" stroke="#ff7700"/>
<polyline points="313.4,370.1 314.5,369.7 315.6,368.9 316.5,367.8 317.3,366 317.9,364.3 318.4,362 319,359 319.5,355 320.1,349.9 320.7,343.5 321.8,326.5 322.9,304 324.8,258.5 325.4,249.1 325.7,246 326.1,242.9 326.3,242 326.8,241 327.2,240.6 327.7,240.5 329.9,240.4 330.2,240.4 331.1,244 331.7,251.8 332.2,262.3 332.9,295 333.3,310.4 333.8,370.6" stroke="#ff7400"/>
<polyline points="313.4,370.1 314.5,369.7 315.6,368.8 316.4,367.7 317.2,366 317.8,364.2 318.3,361.9 318.9,358.8 319.4,354.8 320,349.7 320.6,343.3 321.7,326.2 322.8,303.7 324.4,264.3 325.3,249 325.8,244 326,242.7 326.4,241.3 326.9,240.6 327.3,240.4 328,240.3 329.1,240.2 329.8,240.4 330.9,244.5 331.6,252.4 332.1,262.4 332.7,292.9 333.2,307.6 333.6,344.4 333.8,370.6" stroke="#ff7000"/>
<polyline points="313.3,370.1 314.4,369.7 315.5,368.8 316.3,367.7 317.2,365.9 317.7,364.2 318.3,361.8 318.8,358.7 319.4,354.7 319.9,349.5 320.5,343.1 321.6,326 322.7,303.5 324.3,264.1 325.1,248.8 325.6,243.9 326.1,241.7 326.3,241.1 326.8,240.5 327.4,240.2 328.3,240.1 329.5,240.4 329.7,240.8 330.6,243.8 330.8,245.4 331.5,253.2 331.9,262.5 333.3,314.2 333.5,332 333.8,370.6" stroke="#ff6b00"/>
<polyline points="313.2,370.1 314.3,369.7 315.4,368.8 316.2,367.7 317.1,365.8 317.9,363 318.4,360.3 319,356.7 319.5,352.1 320.6,339.1 321.7,320.6 322.6,303.2 324.2,263.9 325,248.7 325.5,243.7 326,241.6 326.2,241 326.6,240.4 327.1,240.1 327.5,240.1 329.1,240.3 329.3,240.6 330.5,244.1 331.1,250.7 331.8,262.5 332.7,296.9 333.2,309.4 333.6,343.7 333.8,370.6" stroke="#ff6700"/>
<polyline points="313.2,370.1 314.3,369.6 315.4,368.8 316.2,367.6 317,365.8 317.8,362.9 318.4,360.1 318.9,356.5 319.4,351.9 320.5,338.9 321.4,325.5 322.4,302.9 324.1,263.7 324.9,248.5 325.2,245.4 325.6,242.3 326.1,240.9 326.5,240.3 327,240 329,240.4 330.1,243.7 330.3,244.8 331,251.2 331.7,262.6 332.1,276.6 332.6,295.5 333,307.2 333.3,317.2 333.5,332.8 333.8,370.6" stroke="#ff6300"/>
</g>
<path d="M334.1 223.7 V240.4" stroke="#f6f000" stroke-width="1.2" fill="none"/><path d="M301.7 370.8 H333.8" stroke="#5c4444" stroke-width="1.1" fill="none"/><path d="M333.8 370.6 H517.2" stroke="#a08272" stroke-width="1.4" fill="none"/>
<path d="M70.7 3.3 V187.1" stroke="#626870" stroke-opacity="0.62" stroke-width="1.9" stroke-dasharray="4.6 5.3" stroke-dashoffset="-2.4" fill="none"/>
<path d="M74.2 3.3 V187.1" stroke="#626870" stroke-opacity="0.62" stroke-width="1.9" stroke-dasharray="4.6 5.3" stroke-dashoffset="-2.4" fill="none"/>
<path d="M70.7 187.1 V370.6" stroke="#626870" stroke-opacity="0.62" stroke-width="1.9" stroke-dasharray="4.6 5.3" stroke-dashoffset="-2.4" fill="none"/>
<path d="M74.2 187.1 V370.6" stroke="#626870" stroke-opacity="0.62" stroke-width="1.9" stroke-dasharray="4.6 5.3" stroke-dashoffset="-2.4" fill="none"/>
<path d="M330.3 3.3 V187.1" stroke="#626870" stroke-opacity="0.62" stroke-width="1.9" stroke-dasharray="4.6 5.3" stroke-dashoffset="-2.4" fill="none"/>
<path d="M333.8 3.3 V187.1" stroke="#626870" stroke-opacity="0.62" stroke-width="1.9" stroke-dasharray="4.6 5.3" stroke-dashoffset="-2.4" fill="none"/>
<path d="M330.3 187.1 V370.6" stroke="#626870" stroke-opacity="0.62" stroke-width="1.9" stroke-dasharray="4.6 5.3" stroke-dashoffset="-2.4" fill="none"/>
<path d="M333.8 187.1 V370.6" stroke="#626870" stroke-opacity="0.62" stroke-width="1.9" stroke-dasharray="4.6 5.3" stroke-dashoffset="-2.4" fill="none"/>
<g stroke="#0c0c0c" stroke-width="0.35">
<text x="36.1" y="190.5" text-anchor="end" font-size="13.3">0.0</text>
<text x="36.1" y="157.1" text-anchor="end" font-size="13.3">0.2</text>
<text x="36.1" y="123.7" text-anchor="end" font-size="13.3">0.4</text>
<text x="36.1" y="90.3" text-anchor="end" font-size="13.3">0.6</text>
<text x="36.1" y="56.9" text-anchor="end" font-size="13.3">0.8</text>
<text x="36.1" y="23.6" text-anchor="end" font-size="13.3">1.0</text>
<text x="108.2" y="26.9" font-size="16.7" textLength="148.0" lengthAdjust="spacing">a) MW "Off" HMX(β)</text>
<text transform="translate(11.9 95.0) rotate(-90)" x="-37.2" textLength="74.4" lengthAdjust="spacing" font-size="15.1"><tspan font-size="14.6">χ</tspan>[HMX(β)]</text>
<text x="36.1" y="374.0" text-anchor="end" font-size="13.3">0.0</text>
<text x="36.1" y="340.6" text-anchor="end" font-size="13.3">0.2</text>
<text x="36.1" y="307.2" text-anchor="end" font-size="13.3">0.4</text>
<text x="36.1" y="273.8" text-anchor="end" font-size="13.3">0.6</text>
<text x="36.1" y="240.4" text-anchor="end" font-size="13.3">0.8</text>
<text x="36.1" y="207.1" text-anchor="end" font-size="13.3">1.0</text>
<text x="42.6" y="386.8" text-anchor="middle" font-size="13.3">-50</text>
<text x="74.7" y="386.8" text-anchor="middle" font-size="13.3">0</text>
<text x="106.8" y="386.8" text-anchor="middle" font-size="13.3">50</text>
<text x="138.9" y="386.8" text-anchor="middle" font-size="13.3">100</text>
<text x="171.0" y="386.8" text-anchor="middle" font-size="13.3">150</text>
<text x="203.1" y="386.8" text-anchor="middle" font-size="13.3">200</text>
<text x="235.2" y="386.8" text-anchor="middle" font-size="13.3">250</text>
<text x="101.4" y="402.0" font-size="16.3" textLength="96.6" lengthAdjust="spacing">Position (μm)</text>
<text x="103.3" y="212.9" font-size="16.7" textLength="148.2" lengthAdjust="spacing">b) MW "Off" HMX(δ)</text>
<text transform="translate(11.9 278.7) rotate(-90)" x="-37.2" textLength="74.4" lengthAdjust="spacing" font-size="15.1"><tspan font-size="14.6">χ</tspan>[HMX(δ)]</text>
<text x="295.7" y="190.5" text-anchor="end" font-size="13.3">0.0</text>
<text x="295.7" y="157.1" text-anchor="end" font-size="13.3">0.2</text>
<text x="295.7" y="123.7" text-anchor="end" font-size="13.3">0.4</text>
<text x="295.7" y="90.3" text-anchor="end" font-size="13.3">0.6</text>
<text x="295.7" y="56.9" text-anchor="end" font-size="13.3">0.8</text>
<text x="295.7" y="23.6" text-anchor="end" font-size="13.3">1.0</text>
<text x="367.1" y="26.9" font-size="16.7" textLength="146.9" lengthAdjust="spacing">c) MW "On" HMX(β)</text>
<text transform="translate(272.8 95.0) rotate(-90)" x="-37.2" textLength="74.4" lengthAdjust="spacing" font-size="15.1"><tspan font-size="14.6">χ</tspan>[HMX(β)]</text>
<text x="295.7" y="374.0" text-anchor="end" font-size="13.3">0.0</text>
<text x="295.7" y="340.6" text-anchor="end" font-size="13.3">0.2</text>
<text x="295.7" y="307.2" text-anchor="end" font-size="13.3">0.4</text>
<text x="295.7" y="273.8" text-anchor="end" font-size="13.3">0.6</text>
<text x="295.7" y="240.4" text-anchor="end" font-size="13.3">0.8</text>
<text x="295.7" y="207.1" text-anchor="end" font-size="13.3">1.0</text>
<text x="302.2" y="386.8" text-anchor="middle" font-size="13.3">-50</text>
<text x="334.3" y="386.8" text-anchor="middle" font-size="13.3">0</text>
<text x="366.4" y="386.8" text-anchor="middle" font-size="13.3">50</text>
<text x="398.5" y="386.8" text-anchor="middle" font-size="13.3">100</text>
<text x="430.6" y="386.8" text-anchor="middle" font-size="13.3">150</text>
<text x="462.7" y="386.8" text-anchor="middle" font-size="13.3">200</text>
<text x="494.8" y="386.8" text-anchor="middle" font-size="13.3">250</text>
<text x="361.0" y="402.0" font-size="16.3" textLength="96.6" lengthAdjust="spacing">Position (μm)</text>
<text x="362.0" y="212.9" font-size="16.7" textLength="148.6" lengthAdjust="spacing">d) MW "On" HMX(δ)</text>
<text transform="translate(272.8 278.7) rotate(-90)" x="-37.2" textLength="74.4" lengthAdjust="spacing" font-size="15.1"><tspan font-size="14.6">χ</tspan>[HMX(δ)]</text>
</g>
</svg>
</body></html>
